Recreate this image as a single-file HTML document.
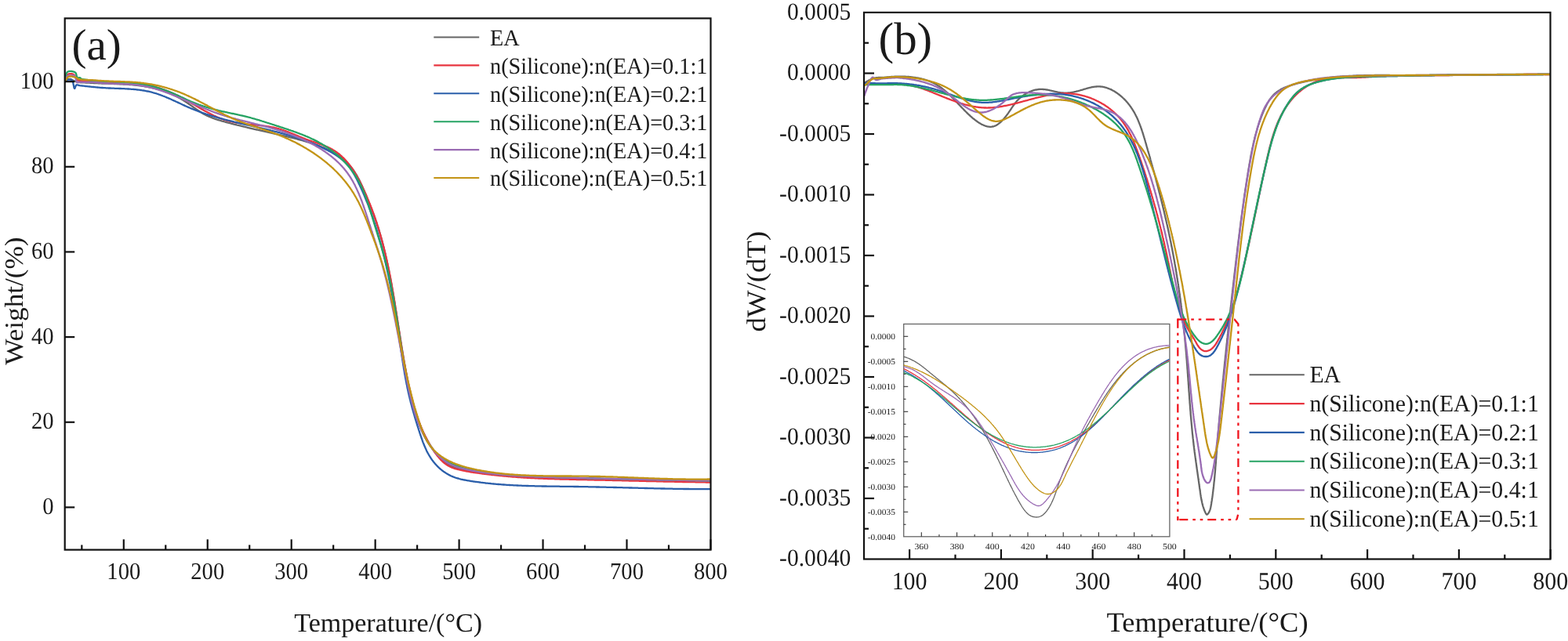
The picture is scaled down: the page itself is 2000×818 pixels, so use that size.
<!DOCTYPE html>
<html><head><meta charset="utf-8"><style>
html,body{margin:0;padding:0;background:#fff;width:2000px;height:818px;overflow:hidden}
svg{display:block} text{text-rendering:geometricPrecision}
</style></head><body>
<svg width="2000" height="818" viewBox="0 0 2000 818">
<defs>
<clipPath id="ca"><rect x="82.7" y="23.4" width="823.8" height="678.2"/></clipPath>
<clipPath id="cb"><rect x="1102" y="16.4" width="875.6" height="697.1"/></clipPath>
<clipPath id="ci"><rect x="1152.7" y="413.5" width="339.2" height="271.3"/></clipPath>
</defs>
<rect width="2000" height="818" fill="#fff"/>
<g id="curvesA">
<path d="M83.0,104.5 83.1,104.4 83.2,104.3 83.3,104.2 83.4,104.1 83.5,103.9 83.6,103.7 83.8,103.6 83.9,103.4 84.1,103.2 84.2,103.0 84.4,102.9 84.6,102.7 84.7,102.5 84.9,102.3 85.1,102.2 85.3,102.0 85.5,101.8 85.6,101.7 85.8,101.6 86.0,101.5 86.2,101.4 86.4,101.3 86.5,101.3 86.7,101.2 86.9,101.1 87.1,101.1 87.3,101.1 87.5,101.0 87.7,101.0 88.0,100.9 88.2,100.9 88.4,100.9 88.6,100.9 88.8,100.9 89.0,100.9 89.2,100.9 89.4,100.9 89.6,100.9 89.8,101.0 90.0,101.0 90.2,101.0 90.4,101.1 90.6,101.2 90.8,101.3 91.0,101.3 91.2,101.4 91.4,101.5 91.6,101.7 91.8,101.8 92.0,101.9 92.2,102.0 92.4,102.1 92.6,102.3 92.8,102.4 93.0,102.5 93.2,102.6 93.4,102.7 93.6,102.8 93.8,102.9 94.0,103.0 94.3,103.1 94.6,103.2 94.9,103.4 95.2,103.5 95.5,103.6 95.8,103.7 96.1,103.8 96.4,103.9 96.7,104.1 97.0,104.2 97.3,104.3 97.6,104.4 97.9,104.5 98.2,104.6 98.5,104.7 98.8,104.7 99.1,104.8 99.4,104.9 99.7,104.9 100.0,105.0 100.5,105.1 101.0,105.1 101.5,105.2 102.0,105.2 102.5,105.3 103.0,105.3 103.5,105.3 104.0,105.3 104.5,105.4 105.0,105.4 105.5,105.4 106.0,105.4 106.5,105.4 107.0,105.4 107.5,105.4 108.0,105.4 108.5,105.4 109.0,105.5 109.5,105.5 110.0,105.5 110.5,105.5 111.0,105.6 111.6,105.6 112.2,105.6 112.7,105.6 113.3,105.7 113.9,105.7 114.5,105.7 115.1,105.8 115.6,105.8 116.2,105.8 116.7,105.8 117.2,105.9 117.7,105.9 118.2,105.9 118.6,105.9 119.0,106.0 119.4,106.0 119.7,106.0 120.0,106.0 121.1,106.1 122.2,106.1 123.3,106.2 124.4,106.2 125.5,106.3 126.6,106.3 127.7,106.4 128.8,106.4 129.9,106.5 131.0,106.5 132.1,106.5 133.2,106.6 134.3,106.6 135.4,106.7 136.5,106.7 137.6,106.7 138.7,106.8 139.8,106.8 140.9,106.8 142.0,106.9 143.1,106.9 144.2,106.9 145.3,107.0 146.4,107.0 147.5,107.1 148.6,107.1 149.7,107.1 150.8,107.2 151.9,107.2 153.0,107.3 154.2,107.3 155.3,107.4 156.4,107.4 157.5,107.5 158.6,107.5 159.7,107.6 160.8,107.7 161.9,107.7 163.0,107.8 164.1,107.9 165.2,108.0 166.3,108.0 167.4,108.1 168.5,108.2 169.6,108.3 170.7,108.4 171.8,108.5 172.9,108.6 174.0,108.8 175.1,108.9 176.2,109.0 177.3,109.2 178.4,109.3 179.5,109.4 180.5,109.6 181.6,109.8 182.7,109.9 183.8,110.1 184.9,110.3 186.0,110.5 187.1,110.7 188.2,110.9 189.2,111.1 190.3,111.3 191.4,111.5 192.5,111.7 193.5,112.0 194.6,112.2 195.7,112.5 196.8,112.7 197.8,113.0 198.9,113.3 200.0,113.5 201.0,113.8 202.1,114.1 203.1,114.4 204.2,114.7 205.2,115.1 206.3,115.4 207.3,115.7 208.3,116.1 209.4,116.4 210.4,116.8 211.4,117.2 212.5,117.5 213.5,117.9 214.5,118.3 215.5,118.7 216.5,119.1 217.5,119.5 218.5,120.0 219.5,120.4 220.5,120.9 221.5,121.3 222.5,121.8 223.5,122.3 224.5,122.7 225.5,123.2 226.4,123.7 227.4,124.2 228.3,124.8 229.3,125.3 230.2,125.8 231.2,126.4 232.1,126.9 233.1,127.5 234.0,128.1 234.9,128.7 235.8,129.3 236.7,129.9 237.7,130.5 238.6,131.1 239.5,131.7 240.4,132.3 241.3,133.0 242.2,133.6 243.1,134.2 244.0,134.9 244.9,135.5 245.8,136.1 246.6,136.8 247.5,137.4 248.4,138.0 249.3,138.7 250.2,139.3 251.1,139.9 252.0,140.5 252.9,141.1 253.9,141.7 254.8,142.3 255.7,142.9 256.6,143.5 257.5,144.1 258.5,144.6 259.4,145.2 260.3,145.7 261.3,146.2 262.3,146.7 263.2,147.2 264.2,147.7 265.2,148.1 266.1,148.6 267.1,149.0 268.1,149.4 269.1,149.8 270.1,150.2 271.2,150.6 272.2,151.0 273.2,151.4 274.2,151.7 275.2,152.1 276.3,152.4 277.3,152.8 278.4,153.1 279.4,153.4 280.5,153.7 281.5,154.0 282.6,154.4 283.6,154.7 284.7,154.9 285.7,155.2 286.8,155.5 287.9,155.8 288.9,156.1 290.0,156.4 291.1,156.7 292.1,156.9 293.2,157.2 294.3,157.5 295.3,157.8 296.4,158.0 297.5,158.3 298.5,158.6 299.6,158.8 300.7,159.1 301.7,159.4 302.8,159.7 303.9,159.9 305.0,160.2 306.0,160.4 307.1,160.7 308.2,161.0 309.2,161.2 310.3,161.5 311.4,161.7 312.5,162.0 313.5,162.2 314.6,162.5 315.7,162.8 316.8,163.0 317.8,163.3 318.9,163.5 320.0,163.8 321.1,164.0 322.2,164.3 323.2,164.5 324.3,164.8 325.4,165.0 326.5,165.3 327.5,165.5 328.6,165.7 329.7,166.0 330.8,166.2 331.8,166.5 332.9,166.7 334.0,167.0 335.1,167.2 336.1,167.4 337.2,167.7 338.3,167.9 339.4,168.2 340.5,168.4 341.5,168.6 342.6,168.9 343.7,169.1 344.8,169.4 345.8,169.6 346.9,169.8 348.0,170.1 349.1,170.3 350.1,170.6 351.2,170.8 352.3,171.1 353.3,171.3 354.4,171.5 355.5,171.8 356.6,172.0 357.6,172.3 358.7,172.5 359.8,172.8 360.9,173.0 361.9,173.3 363.0,173.5 364.1,173.8 365.1,174.0 366.2,174.3 367.3,174.5 368.3,174.8 369.4,175.1 370.5,175.3 371.5,175.6 372.6,175.9 373.7,176.1 374.8,176.4 375.8,176.7 376.9,176.9 378.0,177.2 379.0,177.5 380.1,177.8 381.1,178.1 382.2,178.4 383.3,178.7 384.3,178.9 385.4,179.2 386.5,179.5 387.5,179.9 388.6,180.2 389.7,180.5 390.7,180.8 391.8,181.1 392.8,181.4 393.9,181.7 395.0,182.1 396.0,182.4 397.1,182.7 398.1,183.1 399.2,183.4 400.2,183.8 401.3,184.1 402.3,184.5 403.4,184.9 404.4,185.2 405.5,185.6 406.5,186.0 407.6,186.4 408.6,186.8 409.6,187.2 410.6,187.6 411.7,188.0 412.7,188.4 413.7,188.8 414.7,189.3 415.7,189.7 416.7,190.2 417.7,190.6 418.7,191.1 419.6,191.6 420.6,192.0 421.6,192.5 422.6,193.0 423.5,193.5 424.5,194.1 425.4,194.6 426.3,195.1 427.3,195.7 428.2,196.2 429.1,196.8 430.0,197.3 430.9,197.9 431.8,198.5 432.7,199.1 433.5,199.7 434.4,200.4 435.3,201.0 436.1,201.7 436.9,202.3 437.8,203.0 438.6,203.7 439.4,204.4 440.2,205.1 441.0,205.8 441.7,206.5 442.5,207.3 443.3,208.0 444.0,208.8 444.7,209.6 445.4,210.4 446.1,211.2 446.8,212.0 447.5,212.8 448.2,213.7 448.9,214.5 449.5,215.4 450.1,216.3 450.8,217.2 451.4,218.1 452.0,219.0 452.6,219.9 453.2,220.8 453.8,221.8 454.3,222.7 454.9,223.7 455.5,224.7 456.0,225.6 456.5,226.6 457.1,227.6 457.6,228.6 458.1,229.6 458.6,230.6 459.1,231.6 459.6,232.6 460.1,233.7 460.6,234.7 461.1,235.7 461.5,236.8 462.0,237.8 462.5,238.8 462.9,239.9 463.4,240.9 463.8,242.0 464.3,243.0 464.7,244.1 465.2,245.1 465.6,246.2 466.0,247.2 466.5,248.3 466.9,249.3 467.3,250.4 467.7,251.4 468.2,252.5 468.6,253.5 469.0,254.6 469.4,255.6 469.8,256.6 470.2,257.7 470.7,258.7 471.1,259.7 471.5,260.7 471.9,261.8 472.3,262.8 472.7,263.8 473.1,264.8 473.5,265.8 473.9,266.8 474.3,267.9 474.7,268.9 475.1,269.9 475.5,270.9 475.9,271.9 476.3,272.9 476.7,274.0 477.0,275.0 477.4,276.0 477.8,277.0 478.2,278.0 478.5,279.1 478.9,280.1 479.2,281.1 479.6,282.2 480.0,283.2 480.3,284.2 480.6,285.3 481.0,286.3 481.3,287.4 481.7,288.4 482.0,289.4 482.3,290.5 482.7,291.5 483.0,292.6 483.3,293.6 483.6,294.7 483.9,295.7 484.3,296.8 484.6,297.8 484.9,298.9 485.2,299.9 485.5,301.0 485.8,302.1 486.1,303.1 486.4,304.2 486.7,305.2 487.0,306.3 487.3,307.4 487.5,308.4 487.8,309.5 488.1,310.6 488.4,311.6 488.7,312.7 488.9,313.8 489.2,314.8 489.5,315.9 489.7,317.0 490.0,318.0 490.3,319.1 490.5,320.2 490.8,321.3 491.0,322.3 491.3,323.4 491.5,324.5 491.8,325.6 492.0,326.6 492.3,327.7 492.5,328.8 492.8,329.9 493.0,330.9 493.2,332.0 493.5,333.1 493.7,334.2 493.9,335.2 494.2,336.3 494.4,337.4 494.6,338.5 494.9,339.5 495.1,340.6 495.3,341.7 495.5,342.8 495.8,343.8 496.0,344.9 496.2,346.0 496.4,347.1 496.6,348.2 496.8,349.2 497.0,350.3 497.2,351.4 497.5,352.5 497.7,353.5 497.9,354.6 498.1,355.7 498.3,356.8 498.5,357.9 498.7,358.9 498.9,360.0 499.1,361.1 499.3,362.2 499.5,363.3 499.7,364.3 499.9,365.4 500.1,366.5 500.2,367.6 500.4,368.7 500.6,369.7 500.8,370.8 501.0,371.9 501.2,373.0 501.4,374.1 501.6,375.2 501.7,376.2 501.9,377.3 502.1,378.4 502.3,379.5 502.5,380.6 502.7,381.6 502.8,382.7 503.0,383.8 503.2,384.9 503.4,386.0 503.5,387.1 503.7,388.1 503.9,389.2 504.1,390.3 504.2,391.4 504.4,392.5 504.6,393.5 504.8,394.6 504.9,395.7 505.1,396.8 505.3,397.9 505.5,399.0 505.6,400.1 505.8,401.1 506.0,402.2 506.1,403.3 506.3,404.4 506.5,405.5 506.6,406.6 506.8,407.6 507.0,408.7 507.2,409.8 507.3,410.9 507.5,412.0 507.7,413.1 507.8,414.1 508.0,415.2 508.2,416.3 508.3,417.4 508.5,418.5 508.7,419.6 508.9,420.7 509.0,421.7 509.2,422.8 509.4,423.9 509.5,425.0 509.7,426.1 509.9,427.2 510.0,428.3 510.2,429.3 510.4,430.4 510.6,431.5 510.7,432.6 510.9,433.7 511.1,434.8 511.2,435.9 511.4,437.0 511.6,438.0 511.8,439.1 511.9,440.2 512.1,441.3 512.3,442.4 512.5,443.5 512.7,444.6 512.8,445.6 513.0,446.7 513.2,447.8 513.4,448.9 513.6,450.0 513.7,451.1 513.9,452.2 514.1,453.3 514.3,454.3 514.5,455.4 514.7,456.5 514.8,457.6 515.0,458.7 515.2,459.8 515.4,460.9 515.6,462.0 515.8,463.0 516.0,464.1 516.2,465.2 516.4,466.3 516.6,467.4 516.8,468.5 517.0,469.6 517.2,470.7 517.4,471.7 517.6,472.8 517.8,473.9 518.0,475.0 518.2,476.1 518.4,477.2 518.6,478.3 518.8,479.4 519.0,480.4 519.2,481.5 519.5,482.6 519.7,483.7 519.9,484.8 520.1,485.9 520.3,487.0 520.6,488.1 520.8,489.2 521.0,490.2 521.2,491.3 521.5,492.4 521.7,493.5 521.9,494.6 522.2,495.7 522.4,496.8 522.6,497.8 522.9,498.9 523.1,500.0 523.4,501.1 523.6,502.2 523.9,503.3 524.1,504.3 524.4,505.4 524.7,506.5 524.9,507.6 525.2,508.6 525.5,509.7 525.7,510.8 526.0,511.9 526.3,512.9 526.6,514.0 526.9,515.1 527.2,516.2 527.5,517.2 527.8,518.3 528.1,519.4 528.4,520.4 528.7,521.5 529.0,522.5 529.3,523.6 529.6,524.6 530.0,525.7 530.3,526.8 530.6,527.8 531.0,528.9 531.3,529.9 531.7,530.9 532.0,532.0 532.4,533.0 532.8,534.1 533.1,535.1 533.5,536.1 533.9,537.2 534.3,538.2 534.7,539.2 535.1,540.2 535.5,541.3 535.9,542.3 536.3,543.3 536.7,544.3 537.1,545.3 537.5,546.3 538.0,547.3 538.4,548.3 538.9,549.3 539.3,550.3 539.8,551.3 540.2,552.3 540.7,553.3 541.2,554.3 541.7,555.3 542.2,556.3 542.7,557.2 543.2,558.2 543.7,559.2 544.2,560.1 544.7,561.1 545.3,562.1 545.8,563.0 546.3,564.0 546.9,564.9 547.4,565.9 548.0,566.8 548.6,567.7 549.2,568.7 549.8,569.6 550.4,570.5 551.0,571.4 551.6,572.4 552.2,573.3 552.8,574.1 553.5,575.0 554.1,575.9 554.8,576.8 555.4,577.6 556.1,578.5 556.8,579.3 557.5,580.2 558.2,581.0 558.9,581.8 559.7,582.6 560.4,583.4 561.1,584.1 561.9,584.9 562.7,585.6 563.5,586.4 564.2,587.1 565.1,587.8 565.9,588.4 566.7,589.1 567.5,589.7 568.4,590.4 569.3,591.0 570.1,591.6 571.0,592.1 571.9,592.7 572.8,593.2 573.8,593.7 574.7,594.2 575.7,594.7 576.6,595.1 577.6,595.5 578.6,595.9 579.6,596.3 580.7,596.7 581.7,597.0 582.7,597.4 583.8,597.7 584.8,598.0 585.9,598.3 586.9,598.6 588.0,598.8 589.1,599.1 590.2,599.3 591.3,599.6 592.4,599.8 593.4,600.0 594.5,600.2 595.6,600.4 596.7,600.6 597.8,600.8 598.9,601.0 600.0,601.2 601.1,601.4 602.2,601.6 603.3,601.8 604.4,601.9 605.5,602.1 606.6,602.3 607.7,602.4 608.8,602.6 609.9,602.8 611.0,602.9 612.1,603.1 613.2,603.2 614.3,603.3 615.4,603.5 616.5,603.6 617.6,603.7 618.7,603.9 619.8,604.0 620.9,604.1 622.0,604.2 623.1,604.4 624.2,604.5 625.3,604.6 626.4,604.7 627.5,604.8 628.6,604.9 629.7,605.0 630.8,605.1 631.9,605.2 633.0,605.3 634.1,605.4 635.2,605.5 636.3,605.6 637.4,605.6 638.5,605.7 639.6,605.8 640.7,605.9 641.9,606.0 643.0,606.0 644.1,606.1 645.2,606.2 646.3,606.3 647.4,606.3 648.5,606.4 649.6,606.5 650.7,606.5 651.8,606.6 652.9,606.7 654.0,606.7 655.1,606.8 656.2,606.8 657.3,606.9 658.4,607.0 659.5,607.0 660.6,607.1 661.7,607.1 662.8,607.2 663.9,607.3 665.0,607.3 666.1,607.4 667.2,607.4 668.3,607.5 669.4,607.5 670.5,607.6 671.6,607.6 672.7,607.7 673.8,607.7 674.9,607.8 676.0,607.8 677.1,607.9 678.2,607.9 679.3,608.0 680.4,608.0 681.5,608.1 682.6,608.1 683.7,608.2 684.8,608.2 685.9,608.3 687.0,608.3 688.1,608.4 689.2,608.4 690.3,608.5 691.4,608.5 692.5,608.6 693.6,608.6 694.7,608.6 695.8,608.7 696.9,608.7 698.0,608.8 699.1,608.8 700.2,608.8 701.3,608.9 702.4,608.9 703.5,609.0 704.6,609.0 705.7,609.0 706.8,609.1 707.9,609.1 708.9,609.2 710.0,609.2 711.1,609.2 712.2,609.3 713.3,609.3 714.4,609.3 715.5,609.4 716.6,609.4 717.7,609.5 718.8,609.5 719.9,609.5 721.0,609.6 722.1,609.6 723.2,609.6 724.3,609.7 725.4,609.7 726.5,609.7 727.6,609.8 728.7,609.8 729.8,609.8 730.9,609.9 732.0,609.9 733.1,609.9 734.2,610.0 735.3,610.0 736.4,610.0 737.5,610.0 738.6,610.1 739.7,610.1 740.8,610.1 741.9,610.2 743.0,610.2 744.1,610.2 745.2,610.3 746.3,610.3 747.4,610.3 748.5,610.3 749.6,610.4 750.7,610.4 751.8,610.4 752.9,610.4 754.0,610.5 755.1,610.5 756.2,610.5 757.3,610.6 758.4,610.6 759.5,610.6 760.6,610.6 761.7,610.7 762.8,610.7 763.9,610.7 765.0,610.7 766.1,610.8 767.2,610.8 768.3,610.8 769.4,610.8 770.5,610.9 771.6,610.9 772.7,610.9 773.8,610.9 774.9,611.0 776.0,611.0 777.1,611.0 778.2,611.0 779.3,611.1 780.4,611.1 781.5,611.1 782.6,611.1 783.7,611.2 784.8,611.2 785.9,611.2 787.0,611.2 788.2,611.2 789.3,611.3 790.4,611.3 791.5,611.3 792.6,611.3 793.7,611.4 794.8,611.4 795.9,611.4 797.0,611.4 798.1,611.4 799.2,611.5 800.3,611.5 801.4,611.5 802.5,611.5 803.6,611.5 804.7,611.6 805.8,611.6 806.9,611.6 808.0,611.6 809.1,611.7 810.2,611.7 811.3,611.7 812.4,611.7 813.5,611.7 814.6,611.8 815.7,611.8 816.8,611.8 817.9,611.8 819.0,611.8 820.1,611.9 821.2,611.9 822.3,611.9 823.4,611.9 824.5,611.9 825.6,612.0 826.7,612.0 827.8,612.0 828.9,612.0 830.0,612.0 831.1,612.1 832.2,612.1 833.3,612.1 834.4,612.1 835.5,612.1 836.7,612.2 837.8,612.2 838.9,612.2 840.0,612.2 841.1,612.2 842.2,612.3 843.3,612.3 844.4,612.3 845.5,612.3 846.6,612.3 847.7,612.4 848.8,612.4 849.9,612.4 851.0,612.4 852.1,612.4 853.2,612.5 854.3,612.5 855.4,612.5 856.5,612.5 857.6,612.5 858.7,612.6 859.8,612.6 860.9,612.6 862.0,612.6 863.1,612.7 864.2,612.7 865.3,612.7 866.4,612.7 867.5,612.7 868.6,612.8 869.7,612.8 870.8,612.8 871.9,612.8 873.0,612.8 874.1,612.9 875.2,612.9 876.3,612.9 877.4,612.9 878.5,613.0 879.6,613.0 880.7,613.0 881.8,613.0 882.9,613.0 884.0,613.1 885.1,613.1 886.2,613.1 887.3,613.1 888.4,613.2 889.5,613.2 890.6,613.2 891.7,613.2 892.8,613.3 893.9,613.3 895.0,613.3 896.1,613.3 897.2,613.3 898.3,613.4 899.4,613.4 900.5,613.4 901.6,613.4 902.7,613.5 903.8,613.5 904.9,613.5 906.0,613.5" stroke="#666666" stroke-width="2.3" fill="none" stroke-linejoin="round" stroke-linecap="round" clip-path="url(#ca)"/>
<path d="M83.0,104.0 83.1,103.8 83.1,103.5 83.2,103.2 83.3,102.9 83.4,102.5 83.5,102.1 83.6,101.7 83.7,101.3 83.8,100.8 83.9,100.4 84.1,99.9 84.2,99.5 84.4,99.0 84.5,98.5 84.7,98.1 84.8,97.6 85.0,97.2 85.1,96.8 85.3,96.4 85.5,96.0 85.6,95.9 85.7,95.8 85.7,95.6 85.8,95.5 85.9,95.4 86.1,95.3 86.2,95.2 86.3,95.1 86.4,95.0 86.6,94.9 86.7,94.8 86.8,94.8 87.0,94.7 87.1,94.6 87.3,94.5 87.4,94.5 87.6,94.4 87.7,94.4 87.9,94.3 88.0,94.3 88.2,94.3 88.4,94.2 88.6,94.2 88.8,94.1 89.0,94.1 89.2,94.1 89.4,94.1 89.6,94.1 89.8,94.1 90.0,94.1 90.2,94.1 90.4,94.1 90.6,94.1 90.8,94.1 91.0,94.1 91.2,94.2 91.4,94.2 91.6,94.2 91.8,94.3 92.0,94.3 92.2,94.3 92.3,94.4 92.5,94.4 92.7,94.5 92.8,94.6 93.0,94.6 93.2,94.7 93.3,94.8 93.5,94.8 93.6,94.9 93.8,95.0 93.9,95.1 94.1,95.2 94.2,95.3 94.4,95.4 94.5,95.5 94.6,95.6 94.8,95.8 94.9,95.9 95.0,96.0 95.2,96.2 95.4,96.5 95.5,96.8 95.7,97.0 95.8,97.3 96.0,97.6 96.1,97.9 96.2,98.2 96.3,98.5 96.5,98.8 96.6,99.1 96.7,99.4 96.8,99.7 97.0,100.0 97.1,100.3 97.3,100.5 97.4,100.8 97.6,101.1 97.8,101.3 98.0,101.5 98.1,101.6 98.3,101.8 98.5,101.9 98.6,102.0 98.8,102.1 99.0,102.2 99.2,102.3 99.4,102.4 99.6,102.5 99.8,102.5 100.0,102.6 100.3,102.7 100.5,102.7 100.7,102.8 100.9,102.8 101.1,102.9 101.4,102.9 101.6,102.9 101.8,103.0 102.0,103.0 102.9,103.1 103.9,103.2 104.8,103.3 105.9,103.3 106.9,103.4 107.9,103.5 109.0,103.5 110.0,103.6 111.1,103.6 112.1,103.7 113.1,103.7 114.1,103.8 115.0,103.8 115.9,103.8 116.8,103.9 117.5,103.9 118.3,103.9 118.9,103.9 119.5,104.0 120.0,104.0 121.1,104.1 122.2,104.1 123.3,104.2 124.4,104.3 125.4,104.3 126.5,104.4 127.6,104.4 128.7,104.5 129.8,104.5 130.9,104.5 132.0,104.6 133.1,104.6 134.3,104.6 135.4,104.7 136.5,104.7 137.6,104.7 138.7,104.7 139.8,104.7 140.9,104.8 142.0,104.8 143.1,104.8 144.2,104.8 145.4,104.8 146.5,104.8 147.6,104.8 148.7,104.9 149.8,104.9 150.9,104.9 152.0,104.9 153.2,104.9 154.3,105.0 155.4,105.0 156.5,105.0 157.6,105.1 158.7,105.1 159.8,105.1 161.0,105.2 162.1,105.2 163.2,105.3 164.3,105.3 165.4,105.4 166.5,105.5 167.6,105.5 168.7,105.6 169.8,105.7 170.9,105.8 172.0,105.9 173.1,106.0 174.2,106.1 175.3,106.2 176.4,106.4 177.5,106.5 178.6,106.6 179.7,106.8 180.7,107.0 181.8,107.1 182.9,107.3 184.0,107.5 185.1,107.7 186.1,107.9 187.2,108.1 188.3,108.3 189.3,108.6 190.4,108.8 191.5,109.1 192.5,109.3 193.6,109.6 194.6,109.9 195.7,110.1 196.8,110.4 197.8,110.7 198.8,111.0 199.9,111.4 200.9,111.7 202.0,112.0 203.0,112.3 204.1,112.7 205.1,113.0 206.1,113.4 207.1,113.8 208.2,114.1 209.2,114.5 210.2,114.9 211.2,115.3 212.3,115.7 213.3,116.1 214.3,116.5 215.3,116.9 216.3,117.3 217.3,117.8 218.3,118.2 219.3,118.6 220.3,119.1 221.3,119.5 222.3,120.0 223.3,120.5 224.3,120.9 225.3,121.4 226.3,121.9 227.2,122.4 228.2,122.9 229.2,123.4 230.2,123.9 231.2,124.4 232.1,124.9 233.1,125.4 234.1,125.9 235.0,126.4 236.0,127.0 237.0,127.5 237.9,128.0 238.9,128.6 239.8,129.1 240.8,129.7 241.7,130.2 242.7,130.8 243.6,131.3 244.6,131.9 245.5,132.4 246.5,133.0 247.4,133.5 248.4,134.1 249.3,134.6 250.3,135.2 251.2,135.8 252.2,136.3 253.1,136.9 254.1,137.4 255.0,138.0 256.0,138.5 256.9,139.1 257.9,139.6 258.8,140.1 259.8,140.7 260.7,141.2 261.7,141.7 262.6,142.3 263.6,142.8 264.6,143.3 265.5,143.8 266.5,144.3 267.5,144.8 268.4,145.3 269.4,145.8 270.4,146.3 271.3,146.8 272.3,147.2 273.3,147.7 274.3,148.1 275.3,148.6 276.3,149.0 277.3,149.5 278.3,149.9 279.3,150.3 280.3,150.7 281.3,151.1 282.3,151.5 283.3,151.8 284.3,152.2 285.3,152.6 286.4,152.9 287.4,153.2 288.5,153.6 289.5,153.9 290.5,154.2 291.6,154.4 292.7,154.7 293.7,155.0 294.8,155.2 295.9,155.4 296.9,155.7 298.0,155.9 299.1,156.1 300.2,156.3 301.3,156.5 302.4,156.7 303.5,156.9 304.6,157.0 305.7,157.2 306.8,157.4 307.9,157.5 309.0,157.7 310.1,157.8 311.2,157.9 312.3,158.1 313.4,158.2 314.6,158.3 315.7,158.4 316.8,158.6 317.9,158.7 319.0,158.8 320.2,158.9 321.3,159.0 322.4,159.1 323.5,159.2 324.7,159.4 325.8,159.5 326.9,159.6 328.0,159.7 329.1,159.8 330.2,159.9 331.4,160.1 332.5,160.2 333.6,160.3 334.7,160.4 335.8,160.6 336.9,160.7 338.0,160.9 339.1,161.0 340.2,161.2 341.3,161.3 342.4,161.5 343.5,161.7 344.6,161.9 345.7,162.1 346.8,162.3 347.8,162.5 348.9,162.7 350.0,162.9 351.1,163.2 352.1,163.4 353.2,163.7 354.2,164.0 355.3,164.2 356.3,164.5 357.4,164.8 358.4,165.1 359.4,165.5 360.4,165.8 361.5,166.2 362.5,166.5 363.5,166.9 364.5,167.2 365.5,167.6 366.5,168.0 367.5,168.4 368.5,168.8 369.5,169.2 370.5,169.6 371.5,170.0 372.5,170.4 373.6,170.8 374.6,171.2 375.6,171.6 376.6,172.1 377.6,172.5 378.6,172.9 379.6,173.3 380.6,173.7 381.6,174.2 382.6,174.6 383.6,175.0 384.6,175.4 385.7,175.8 386.7,176.2 387.7,176.7 388.8,177.1 389.8,177.5 390.8,177.9 391.9,178.2 392.9,178.6 394.0,179.0 395.1,179.4 396.1,179.7 397.2,180.1 398.3,180.5 399.3,180.8 400.4,181.2 401.5,181.6 402.5,181.9 403.6,182.3 404.7,182.7 405.8,183.0 406.8,183.4 407.9,183.8 409.0,184.2 410.0,184.5 411.1,184.9 412.1,185.3 413.2,185.7 414.2,186.1 415.2,186.6 416.2,187.0 417.3,187.4 418.3,187.9 419.3,188.3 420.2,188.8 421.2,189.3 422.2,189.8 423.1,190.3 424.1,190.8 425.0,191.4 425.9,191.9 426.9,192.5 427.8,193.1 428.6,193.7 429.5,194.3 430.4,195.0 431.2,195.6 432.1,196.2 432.9,196.9 433.7,197.6 434.5,198.3 435.3,199.0 436.1,199.7 436.9,200.5 437.7,201.2 438.4,201.9 439.2,202.7 439.9,203.5 440.6,204.3 441.3,205.1 442.1,205.9 442.8,206.7 443.4,207.5 444.1,208.4 444.8,209.2 445.5,210.1 446.1,210.9 446.8,211.8 447.4,212.7 448.1,213.6 448.7,214.5 449.3,215.4 449.9,216.3 450.5,217.2 451.1,218.1 451.7,219.0 452.3,220.0 452.9,220.9 453.4,221.9 454.0,222.8 454.6,223.8 455.1,224.7 455.7,225.7 456.2,226.7 456.7,227.7 457.3,228.6 457.8,229.6 458.3,230.6 458.8,231.6 459.3,232.6 459.9,233.6 460.4,234.6 460.9,235.6 461.3,236.6 461.8,237.6 462.3,238.6 462.8,239.6 463.3,240.7 463.7,241.7 464.2,242.7 464.7,243.7 465.1,244.7 465.6,245.7 466.1,246.7 466.5,247.8 467.0,248.8 467.4,249.8 467.8,250.8 468.3,251.8 468.7,252.9 469.1,253.9 469.6,254.9 470.0,255.9 470.4,257.0 470.8,258.0 471.2,259.0 471.7,260.1 472.1,261.1 472.5,262.1 472.9,263.1 473.3,264.2 473.7,265.2 474.1,266.2 474.5,267.3 474.8,268.3 475.2,269.3 475.6,270.4 476.0,271.4 476.4,272.5 476.7,273.5 477.1,274.5 477.5,275.6 477.8,276.6 478.2,277.7 478.6,278.7 478.9,279.7 479.3,280.8 479.6,281.8 480.0,282.9 480.3,283.9 480.6,285.0 481.0,286.0 481.3,287.1 481.6,288.1 482.0,289.2 482.3,290.2 482.6,291.3 483.0,292.3 483.3,293.4 483.6,294.4 483.9,295.5 484.2,296.5 484.5,297.6 484.8,298.6 485.1,299.7 485.4,300.7 485.7,301.8 486.0,302.8 486.3,303.9 486.6,305.0 486.9,306.0 487.2,307.1 487.5,308.1 487.8,309.2 488.1,310.3 488.3,311.3 488.6,312.4 488.9,313.4 489.2,314.5 489.4,315.6 489.7,316.6 490.0,317.7 490.2,318.8 490.5,319.8 490.7,320.9 491.0,322.0 491.3,323.0 491.5,324.1 491.8,325.2 492.0,326.2 492.3,327.3 492.5,328.4 492.7,329.4 493.0,330.5 493.2,331.6 493.5,332.6 493.7,333.7 493.9,334.8 494.2,335.9 494.4,336.9 494.6,338.0 494.9,339.1 495.1,340.2 495.3,341.2 495.5,342.3 495.7,343.4 496.0,344.5 496.2,345.5 496.4,346.6 496.6,347.7 496.8,348.8 497.0,349.8 497.2,350.9 497.5,352.0 497.7,353.1 497.9,354.1 498.1,355.2 498.3,356.3 498.5,357.4 498.7,358.5 498.9,359.5 499.1,360.6 499.3,361.7 499.5,362.8 499.7,363.9 499.8,364.9 500.0,366.0 500.2,367.1 500.4,368.2 500.6,369.3 500.8,370.4 501.0,371.4 501.2,372.5 501.3,373.6 501.5,374.7 501.7,375.8 501.9,376.9 502.1,377.9 502.2,379.0 502.4,380.1 502.6,381.2 502.8,382.3 503.0,383.4 503.1,384.5 503.3,385.5 503.5,386.6 503.7,387.7 503.8,388.8 504.0,389.9 504.2,391.0 504.3,392.1 504.5,393.2 504.7,394.2 504.9,395.3 505.0,396.4 505.2,397.5 505.4,398.6 505.5,399.7 505.7,400.8 505.9,401.9 506.0,402.9 506.2,404.0 506.4,405.1 506.5,406.2 506.7,407.3 506.9,408.4 507.0,409.5 507.2,410.6 507.4,411.6 507.5,412.7 507.7,413.8 507.9,414.9 508.0,416.0 508.2,417.1 508.4,418.2 508.5,419.3 508.7,420.4 508.9,421.4 509.0,422.5 509.2,423.6 509.4,424.7 509.6,425.8 509.7,426.9 509.9,428.0 510.1,429.1 510.2,430.2 510.4,431.2 510.6,432.3 510.7,433.4 510.9,434.5 511.1,435.6 511.3,436.7 511.4,437.8 511.6,438.9 511.8,440.0 512.0,441.0 512.1,442.1 512.3,443.2 512.5,444.3 512.7,445.4 512.9,446.5 513.0,447.6 513.2,448.7 513.4,449.8 513.6,450.8 513.8,451.9 514.0,453.0 514.1,454.1 514.3,455.2 514.5,456.3 514.7,457.4 514.9,458.5 515.1,459.5 515.3,460.6 515.5,461.7 515.7,462.8 515.9,463.9 516.1,465.0 516.3,466.1 516.5,467.1 516.7,468.2 516.9,469.3 517.1,470.4 517.3,471.5 517.5,472.6 517.7,473.6 517.9,474.7 518.1,475.8 518.3,476.9 518.6,478.0 518.8,479.1 519.0,480.1 519.2,481.2 519.4,482.3 519.7,483.4 519.9,484.5 520.1,485.6 520.3,486.6 520.6,487.7 520.8,488.8 521.0,489.9 521.3,491.0 521.5,492.0 521.8,493.1 522.0,494.2 522.3,495.3 522.5,496.3 522.7,497.4 523.0,498.5 523.3,499.6 523.5,500.7 523.8,501.7 524.0,502.8 524.3,503.9 524.6,505.0 524.8,506.0 525.1,507.1 525.4,508.2 525.6,509.3 525.9,510.3 526.2,511.4 526.5,512.5 526.8,513.5 527.0,514.6 527.3,515.7 527.6,516.7 527.9,517.8 528.2,518.9 528.5,519.9 528.9,521.0 529.2,522.0 529.5,523.1 529.8,524.2 530.1,525.2 530.5,526.3 530.8,527.3 531.1,528.4 531.5,529.4 531.8,530.5 532.2,531.5 532.5,532.6 532.9,533.6 533.2,534.6 533.6,535.7 534.0,536.7 534.3,537.7 534.7,538.8 535.1,539.8 535.5,540.8 535.9,541.9 536.3,542.9 536.7,543.9 537.1,544.9 537.5,545.9 537.9,546.9 538.4,547.9 538.8,548.9 539.2,550.0 539.7,551.0 540.1,551.9 540.6,552.9 541.1,553.9 541.5,554.9 542.0,555.9 542.5,556.9 543.0,557.9 543.5,558.8 544.0,559.8 544.5,560.8 545.0,561.7 545.5,562.7 546.0,563.7 546.5,564.6 547.1,565.6 547.6,566.5 548.2,567.5 548.7,568.4 549.3,569.3 549.9,570.3 550.5,571.2 551.1,572.1 551.7,573.0 552.3,573.9 552.9,574.9 553.5,575.8 554.1,576.7 554.8,577.6 555.4,578.5 556.1,579.3 556.7,580.2 557.4,581.1 558.1,582.0 558.8,582.8 559.5,583.6 560.2,584.5 560.9,585.3 561.6,586.1 562.4,586.9 563.2,587.6 563.9,588.4 564.7,589.1 565.5,589.9 566.3,590.6 567.2,591.2 568.0,591.9 568.9,592.5 569.8,593.1 570.7,593.7 571.6,594.3 572.5,594.8 573.5,595.3 574.4,595.8 575.4,596.2 576.4,596.6 577.4,597.0 578.5,597.4 579.5,597.8 580.6,598.1 581.7,598.4 582.7,598.7 583.8,599.0 584.9,599.2 586.0,599.5 587.1,599.7 588.1,600.0 589.2,600.2 590.3,600.5 591.4,600.7 592.5,600.9 593.6,601.1 594.7,601.3 595.8,601.5 596.9,601.7 598.0,601.9 599.1,602.1 600.2,602.3 601.3,602.5 602.4,602.6 603.5,602.8 604.6,603.0 605.7,603.1 606.8,603.3 607.9,603.4 609.0,603.6 610.1,603.7 611.2,603.9 612.2,604.0 613.3,604.2 614.4,604.3 615.5,604.5 616.6,604.6 617.7,604.8 618.8,604.9 619.9,605.0 621.0,605.2 622.1,605.3 623.2,605.4 624.3,605.6 625.4,605.7 626.5,605.8 627.6,606.0 628.7,606.1 629.8,606.2 630.9,606.3 632.0,606.4 633.1,606.5 634.2,606.7 635.3,606.8 636.4,606.9 637.5,607.0 638.6,607.1 639.6,607.2 640.7,607.3 641.8,607.4 642.9,607.5 644.0,607.6 645.1,607.7 646.2,607.8 647.3,607.9 648.4,608.0 649.5,608.1 650.6,608.2 651.7,608.3 652.8,608.4 653.9,608.5 655.0,608.6 656.1,608.6 657.2,608.7 658.3,608.8 659.4,608.9 660.5,609.0 661.6,609.0 662.7,609.1 663.7,609.2 664.8,609.3 665.9,609.3 667.0,609.4 668.1,609.5 669.2,609.6 670.3,609.6 671.4,609.7 672.5,609.8 673.6,609.8 674.7,609.9 675.8,609.9 676.9,610.0 678.0,610.1 679.1,610.1 680.2,610.2 681.3,610.2 682.4,610.3 683.5,610.3 684.6,610.4 685.7,610.4 686.8,610.5 687.9,610.5 689.0,610.6 690.1,610.6 691.2,610.7 692.3,610.7 693.4,610.8 694.5,610.8 695.6,610.9 696.7,610.9 697.8,610.9 698.9,611.0 700.0,611.0 701.1,611.1 702.2,611.1 703.3,611.1 704.4,611.2 705.5,611.2 706.6,611.2 707.7,611.3 708.8,611.3 709.9,611.3 711.0,611.4 712.1,611.4 713.2,611.4 714.3,611.5 715.4,611.5 716.5,611.5 717.6,611.6 718.7,611.6 719.8,611.6 720.9,611.6 722.0,611.7 723.1,611.7 724.2,611.7 725.3,611.7 726.4,611.8 727.6,611.8 728.7,611.8 729.8,611.8 730.9,611.9 732.0,611.9 733.1,611.9 734.2,611.9 735.3,612.0 736.4,612.0 737.5,612.0 738.6,612.0 739.7,612.1 740.8,612.1 741.9,612.1 743.0,612.1 744.1,612.1 745.2,612.2 746.3,612.2 747.4,612.2 748.5,612.2 749.6,612.3 750.7,612.3 751.8,612.3 752.9,612.3 754.0,612.4 755.1,612.4 756.2,612.4 757.3,612.4 758.4,612.5 759.5,612.5 760.6,612.5 761.7,612.5 762.8,612.5 763.9,612.6 765.0,612.6 766.1,612.6 767.2,612.6 768.3,612.7 769.4,612.7 770.5,612.7 771.6,612.7 772.7,612.8 773.8,612.8 774.9,612.8 776.1,612.8 777.2,612.9 778.3,612.9 779.4,612.9 780.5,612.9 781.6,613.0 782.7,613.0 783.8,613.0 784.9,613.0 786.0,613.1 787.1,613.1 788.2,613.1 789.3,613.1 790.4,613.2 791.5,613.2 792.6,613.2 793.7,613.3 794.8,613.3 795.9,613.3 797.0,613.3 798.1,613.4 799.2,613.4 800.3,613.4 801.4,613.4 802.5,613.5 803.6,613.5 804.7,613.5 805.8,613.5 806.9,613.6 808.0,613.6 809.1,613.6 810.2,613.6 811.3,613.7 812.4,613.7 813.5,613.7 814.6,613.7 815.7,613.8 816.8,613.8 817.9,613.8 819.0,613.8 820.1,613.9 821.2,613.9 822.3,613.9 823.4,613.9 824.5,614.0 825.6,614.0 826.7,614.0 827.8,614.0 828.9,614.1 830.0,614.1 831.1,614.1 832.2,614.1 833.3,614.2 834.4,614.2 835.5,614.2 836.6,614.2 837.7,614.3 838.8,614.3 839.9,614.3 841.0,614.3 842.1,614.4 843.2,614.4 844.3,614.4 845.4,614.4 846.5,614.5 847.6,614.5 848.7,614.5 849.8,614.5 850.9,614.6 852.0,614.6 853.1,614.6 854.2,614.6 855.3,614.7 856.4,614.7 857.5,614.7 858.6,614.7 859.7,614.7 860.8,614.8 861.9,614.8 863.0,614.8 864.1,614.8 865.2,614.9 866.3,614.9 867.4,614.9 868.5,614.9 869.6,614.9 870.7,615.0 871.8,615.0 872.9,615.0 874.0,615.0 875.1,615.0 876.2,615.1 877.3,615.1 878.5,615.1 879.6,615.1 880.7,615.1 881.8,615.2 882.9,615.2 884.0,615.2 885.1,615.2 886.2,615.2 887.3,615.3 888.4,615.3 889.5,615.3 890.6,615.3 891.7,615.3 892.8,615.3 893.9,615.4 895.0,615.4 896.1,615.4 897.2,615.4 898.3,615.4 899.4,615.4 900.5,615.5 901.6,615.5 902.7,615.5 903.8,615.5 904.9,615.5 906.0,615.5" stroke="#E8343F" stroke-width="2.3" fill="none" stroke-linejoin="round" stroke-linecap="round" clip-path="url(#ca)"/>
<path d="M83.0,102.5 83.1,102.5 83.2,102.4 83.3,102.4 83.4,102.3 83.5,102.3 83.7,102.2 83.8,102.2 84.0,102.1 84.1,102.0 84.3,102.0 84.5,101.9 84.6,101.9 84.8,101.8 85.0,101.8 85.2,101.7 85.3,101.7 85.5,101.6 85.7,101.6 85.8,101.6 86.0,101.6 86.3,101.6 86.6,101.6 86.9,101.6 87.3,101.6 87.6,101.6 88.0,101.6 88.3,101.6 88.7,101.6 89.0,101.6 89.3,101.7 89.7,101.7 90.0,101.7 90.3,101.8 90.6,101.9 90.9,102.0 91.1,102.1 91.4,102.2 91.6,102.3 91.8,102.5 92.0,102.7 92.3,103.1 92.5,103.5 92.7,104.0 92.9,104.6 93.1,105.1 93.3,105.7 93.4,106.3 93.5,106.9 93.6,107.6 93.7,108.2 93.9,108.8 94.0,109.4 94.1,110.0 94.2,110.6 94.3,111.1 94.4,111.6 94.5,112.0 94.7,112.4 94.8,112.7 95.0,112.9 95.1,113.0 95.2,112.9 95.3,112.9 95.4,112.7 95.5,112.6 95.6,112.3 95.7,112.1 95.8,111.8 95.9,111.5 96.0,111.2 96.1,110.8 96.3,110.5 96.4,110.2 96.5,109.9 96.7,109.5 96.8,109.3 97.0,109.0 97.1,108.8 97.3,108.6 97.5,108.5 97.7,108.4 97.9,108.4 98.0,108.3 98.2,108.3 98.5,108.3 98.7,108.4 98.9,108.4 99.1,108.4 99.4,108.5 99.6,108.6 99.8,108.6 100.1,108.7 100.3,108.8 100.6,108.9 100.8,108.9 101.1,109.0 101.3,109.1 101.5,109.1 101.8,109.2 102.0,109.2 102.9,109.3 103.9,109.4 104.9,109.5 105.9,109.6 106.9,109.7 108.0,109.9 109.0,110.0 110.1,110.1 111.1,110.2 112.1,110.3 113.1,110.4 114.1,110.5 115.0,110.6 115.9,110.7 116.8,110.8 117.6,110.8 118.3,110.9 118.9,111.0 119.5,111.0 120.0,111.1 121.1,111.2 122.2,111.3 123.2,111.4 124.3,111.5 125.4,111.6 126.5,111.7 127.6,111.8 128.7,111.9 129.8,112.0 130.9,112.0 132.0,112.1 133.1,112.2 134.2,112.2 135.3,112.3 136.4,112.4 137.5,112.4 138.6,112.5 139.7,112.5 140.8,112.5 142.0,112.6 143.1,112.6 144.2,112.7 145.3,112.7 146.4,112.8 147.5,112.8 148.6,112.8 149.7,112.9 150.9,112.9 152.0,113.0 153.1,113.0 154.2,113.0 155.3,113.1 156.4,113.1 157.5,113.2 158.6,113.2 159.8,113.3 160.9,113.4 162.0,113.4 163.1,113.5 164.2,113.5 165.3,113.6 166.4,113.7 167.5,113.8 168.6,113.9 169.7,113.9 170.8,114.0 171.9,114.1 173.0,114.2 174.1,114.4 175.2,114.5 176.3,114.6 177.4,114.7 178.5,114.9 179.6,115.0 180.7,115.2 181.8,115.3 182.8,115.5 183.9,115.7 185.0,115.9 186.1,116.1 187.2,116.3 188.2,116.5 189.3,116.7 190.4,116.9 191.4,117.2 192.5,117.4 193.5,117.7 194.6,118.0 195.6,118.3 196.7,118.6 197.7,118.9 198.8,119.2 199.8,119.5 200.9,119.9 201.9,120.2 202.9,120.6 203.9,120.9 205.0,121.3 206.0,121.7 207.0,122.1 208.0,122.5 209.1,122.9 210.1,123.3 211.1,123.7 212.1,124.1 213.1,124.6 214.1,125.0 215.1,125.4 216.2,125.9 217.2,126.3 218.2,126.7 219.2,127.2 220.2,127.7 221.2,128.1 222.2,128.6 223.2,129.0 224.2,129.5 225.2,130.0 226.2,130.4 227.2,130.9 228.2,131.4 229.2,131.8 230.2,132.3 231.2,132.7 232.2,133.2 233.2,133.7 234.2,134.1 235.2,134.6 236.2,135.1 237.2,135.5 238.2,136.0 239.2,136.4 240.2,136.9 241.3,137.3 242.3,137.7 243.3,138.2 244.3,138.6 245.3,139.0 246.3,139.4 247.3,139.8 248.4,140.2 249.4,140.6 250.4,141.0 251.4,141.4 252.4,141.8 253.5,142.2 254.5,142.6 255.5,143.0 256.6,143.3 257.6,143.7 258.6,144.1 259.7,144.4 260.7,144.8 261.7,145.1 262.8,145.5 263.8,145.8 264.8,146.2 265.9,146.5 266.9,146.8 268.0,147.2 269.0,147.5 270.0,147.8 271.1,148.1 272.1,148.4 273.2,148.7 274.2,149.1 275.3,149.4 276.3,149.7 277.4,150.0 278.4,150.3 279.5,150.6 280.5,150.9 281.6,151.1 282.6,151.4 283.7,151.7 284.8,152.0 285.8,152.3 286.9,152.6 287.9,152.8 289.0,153.1 290.0,153.4 291.1,153.7 292.2,153.9 293.2,154.2 294.3,154.5 295.4,154.7 296.4,155.0 297.5,155.2 298.5,155.5 299.6,155.8 300.7,156.0 301.7,156.3 302.8,156.5 303.9,156.8 304.9,157.0 306.0,157.3 307.1,157.5 308.1,157.8 309.2,158.0 310.3,158.3 311.4,158.5 312.4,158.8 313.5,159.0 314.6,159.3 315.6,159.5 316.7,159.7 317.8,160.0 318.8,160.2 319.9,160.5 321.0,160.7 322.1,161.0 323.1,161.2 324.2,161.5 325.3,161.7 326.3,161.9 327.4,162.2 328.5,162.4 329.6,162.7 330.6,162.9 331.7,163.2 332.8,163.4 333.8,163.7 334.9,163.9 336.0,164.2 337.1,164.4 338.1,164.7 339.2,164.9 340.3,165.2 341.3,165.5 342.4,165.7 343.5,166.0 344.6,166.2 345.6,166.5 346.7,166.8 347.8,167.0 348.8,167.3 349.9,167.6 351.0,167.9 352.0,168.1 353.1,168.4 354.2,168.7 355.2,169.0 356.3,169.2 357.4,169.5 358.4,169.8 359.5,170.1 360.6,170.4 361.6,170.7 362.7,171.0 363.8,171.3 364.8,171.6 365.9,171.9 366.9,172.2 368.0,172.5 369.1,172.8 370.1,173.1 371.2,173.5 372.2,173.8 373.3,174.1 374.3,174.4 375.4,174.8 376.4,175.1 377.5,175.4 378.5,175.8 379.6,176.1 380.6,176.5 381.7,176.8 382.7,177.2 383.8,177.5 384.8,177.9 385.9,178.3 386.9,178.6 388.0,179.0 389.0,179.4 390.0,179.7 391.1,180.1 392.1,180.5 393.2,180.9 394.2,181.3 395.2,181.7 396.3,182.1 397.3,182.5 398.3,182.9 399.3,183.3 400.4,183.7 401.4,184.2 402.4,184.6 403.4,185.0 404.5,185.5 405.5,185.9 406.5,186.3 407.5,186.8 408.5,187.2 409.6,187.7 410.6,188.2 411.6,188.6 412.6,189.1 413.6,189.6 414.6,190.1 415.6,190.6 416.6,191.1 417.6,191.6 418.5,192.1 419.5,192.6 420.5,193.1 421.5,193.7 422.4,194.2 423.4,194.7 424.3,195.3 425.3,195.9 426.2,196.4 427.1,197.0 428.0,197.6 428.9,198.2 429.8,198.8 430.7,199.4 431.6,200.1 432.5,200.7 433.4,201.3 434.2,202.0 435.1,202.7 435.9,203.3 436.7,204.0 437.5,204.7 438.3,205.5 439.1,206.2 439.9,206.9 440.7,207.7 441.4,208.4 442.1,209.2 442.9,210.0 443.6,210.8 444.3,211.6 445.0,212.4 445.6,213.3 446.3,214.1 446.9,215.0 447.5,215.9 448.1,216.8 448.7,217.7 449.3,218.6 449.9,219.5 450.5,220.4 451.0,221.4 451.6,222.3 452.1,223.3 452.7,224.2 453.2,225.2 453.7,226.2 454.2,227.1 454.7,228.1 455.2,229.1 455.7,230.1 456.2,231.1 456.7,232.1 457.2,233.1 457.6,234.1 458.1,235.1 458.6,236.0 459.1,237.0 459.5,238.0 460.0,239.0 460.5,240.1 460.9,241.1 461.4,242.1 461.8,243.1 462.3,244.1 462.7,245.1 463.2,246.1 463.6,247.1 464.0,248.1 464.5,249.1 464.9,250.1 465.3,251.2 465.8,252.2 466.2,253.2 466.6,254.2 467.0,255.2 467.4,256.3 467.8,257.3 468.3,258.3 468.7,259.3 469.1,260.4 469.5,261.4 469.9,262.4 470.3,263.4 470.6,264.5 471.0,265.5 471.4,266.5 471.8,267.6 472.2,268.6 472.6,269.6 472.9,270.7 473.3,271.7 473.7,272.8 474.1,273.8 474.4,274.8 474.8,275.9 475.2,276.9 475.5,278.0 475.9,279.0 476.2,280.0 476.6,281.1 476.9,282.1 477.3,283.2 477.6,284.2 478.0,285.3 478.3,286.3 478.6,287.4 479.0,288.4 479.3,289.5 479.6,290.5 480.0,291.6 480.3,292.6 480.6,293.7 480.9,294.7 481.3,295.8 481.6,296.9 481.9,297.9 482.2,299.0 482.5,300.0 482.8,301.1 483.1,302.1 483.4,303.2 483.7,304.3 484.0,305.3 484.3,306.4 484.6,307.5 484.9,308.5 485.2,309.6 485.5,310.6 485.8,311.7 486.1,312.8 486.4,313.8 486.6,314.9 486.9,316.0 487.2,317.0 487.5,318.1 487.8,319.2 488.0,320.2 488.3,321.3 488.6,322.4 488.8,323.4 489.1,324.5 489.4,325.6 489.6,326.7 489.9,327.7 490.2,328.8 490.4,329.9 490.7,330.9 490.9,332.0 491.2,333.1 491.4,334.2 491.7,335.2 491.9,336.3 492.2,337.4 492.4,338.4 492.7,339.5 492.9,340.6 493.1,341.7 493.4,342.7 493.6,343.8 493.9,344.9 494.1,346.0 494.3,347.0 494.6,348.1 494.8,349.2 495.0,350.2 495.3,351.3 495.5,352.4 495.7,353.5 495.9,354.5 496.1,355.6 496.4,356.7 496.6,357.8 496.8,358.8 497.0,359.9 497.2,361.0 497.5,362.1 497.7,363.1 497.9,364.2 498.1,365.3 498.3,366.4 498.5,367.5 498.7,368.5 498.9,369.6 499.1,370.7 499.3,371.8 499.5,372.8 499.7,373.9 499.9,375.0 500.1,376.1 500.3,377.1 500.5,378.2 500.7,379.3 500.9,380.4 501.1,381.5 501.3,382.5 501.5,383.6 501.7,384.7 501.9,385.8 502.1,386.9 502.3,387.9 502.5,389.0 502.7,390.1 502.8,391.2 503.0,392.3 503.2,393.3 503.4,394.4 503.6,395.5 503.8,396.6 503.9,397.7 504.1,398.8 504.3,399.8 504.5,400.9 504.6,402.0 504.8,403.1 505.0,404.2 505.2,405.3 505.4,406.3 505.5,407.4 505.7,408.5 505.9,409.6 506.0,410.7 506.2,411.8 506.4,412.9 506.6,413.9 506.7,415.0 506.9,416.1 507.1,417.2 507.2,418.3 507.4,419.4 507.6,420.5 507.7,421.6 507.9,422.6 508.0,423.7 508.2,424.8 508.4,425.9 508.5,427.0 508.7,428.1 508.9,429.2 509.0,430.3 509.2,431.4 509.3,432.5 509.5,433.6 509.7,434.7 509.8,435.7 510.0,436.8 510.1,437.9 510.3,439.0 510.5,440.1 510.6,441.2 510.8,442.3 510.9,443.4 511.1,444.5 511.3,445.6 511.4,446.7 511.6,447.8 511.7,448.9 511.9,450.0 512.1,451.1 512.2,452.2 512.4,453.3 512.6,454.3 512.7,455.4 512.9,456.5 513.1,457.6 513.2,458.7 513.4,459.8 513.6,460.9 513.7,462.0 513.9,463.1 514.1,464.2 514.2,465.3 514.4,466.4 514.6,467.4 514.8,468.5 514.9,469.6 515.1,470.7 515.3,471.8 515.5,472.9 515.7,474.0 515.9,475.1 516.0,476.1 516.2,477.2 516.4,478.3 516.6,479.4 516.8,480.5 517.0,481.6 517.2,482.7 517.4,483.7 517.6,484.8 517.8,485.9 518.0,487.0 518.2,488.1 518.4,489.1 518.6,490.2 518.9,491.3 519.1,492.4 519.3,493.4 519.5,494.5 519.7,495.6 520.0,496.7 520.2,497.7 520.4,498.8 520.7,499.9 520.9,500.9 521.1,502.0 521.4,503.1 521.6,504.1 521.9,505.2 522.1,506.2 522.4,507.3 522.6,508.4 522.9,509.4 523.2,510.5 523.4,511.5 523.7,512.6 523.9,513.7 524.2,514.7 524.5,515.8 524.8,516.8 525.1,517.9 525.3,518.9 525.6,520.0 525.9,521.1 526.2,522.1 526.5,523.2 526.8,524.2 527.1,525.3 527.4,526.3 527.7,527.4 528.0,528.4 528.3,529.5 528.6,530.5 528.9,531.6 529.2,532.6 529.5,533.7 529.8,534.8 530.2,535.8 530.5,536.9 530.8,537.9 531.1,539.0 531.5,540.0 531.8,541.1 532.1,542.2 532.4,543.2 532.8,544.3 533.1,545.4 533.5,546.4 533.8,547.5 534.1,548.6 534.5,549.6 534.8,550.7 535.2,551.8 535.5,552.8 535.9,553.9 536.2,555.0 536.6,556.0 537.0,557.1 537.3,558.2 537.7,559.3 538.1,560.3 538.5,561.4 538.8,562.4 539.2,563.5 539.6,564.6 540.0,565.6 540.5,566.7 540.9,567.7 541.3,568.7 541.7,569.8 542.2,570.8 542.6,571.8 543.1,572.8 543.6,573.9 544.0,574.9 544.5,575.9 545.0,576.9 545.5,577.8 546.1,578.8 546.6,579.8 547.1,580.7 547.7,581.7 548.3,582.6 548.9,583.5 549.4,584.5 550.1,585.4 550.7,586.3 551.3,587.2 552.0,588.0 552.6,588.9 553.3,589.7 554.0,590.6 554.7,591.4 555.4,592.2 556.1,593.0 556.8,593.8 557.6,594.6 558.3,595.4 559.1,596.1 559.9,596.9 560.7,597.6 561.5,598.3 562.3,599.0 563.1,599.7 563.9,600.3 564.8,601.0 565.6,601.6 566.5,602.2 567.4,602.8 568.3,603.4 569.2,604.0 570.1,604.5 571.0,605.1 571.9,605.6 572.9,606.1 573.8,606.6 574.8,607.1 575.7,607.5 576.7,607.9 577.7,608.4 578.7,608.7 579.7,609.1 580.7,609.5 581.8,609.8 582.8,610.1 583.8,610.5 584.9,610.7 585.9,611.0 587.0,611.3 588.1,611.6 589.1,611.8 590.2,612.0 591.3,612.3 592.4,612.5 593.5,612.7 594.6,612.9 595.7,613.1 596.8,613.3 597.8,613.4 598.9,613.6 600.0,613.8 601.1,614.0 602.2,614.1 603.3,614.3 604.4,614.5 605.5,614.6 606.6,614.8 607.7,614.9 608.8,615.1 609.9,615.2 611.0,615.4 612.1,615.5 613.2,615.7 614.3,615.8 615.4,615.9 616.5,616.1 617.6,616.2 618.7,616.3 619.8,616.5 620.9,616.6 622.0,616.7 623.1,616.8 624.2,616.9 625.3,617.0 626.4,617.2 627.5,617.3 628.6,617.4 629.7,617.5 630.8,617.6 631.9,617.7 633.0,617.8 634.1,617.9 635.2,618.0 636.3,618.0 637.4,618.1 638.5,618.2 639.6,618.3 640.7,618.4 641.8,618.5 642.9,618.5 644.0,618.6 645.1,618.7 646.2,618.8 647.3,618.8 648.4,618.9 649.5,619.0 650.6,619.0 651.7,619.1 652.8,619.2 653.9,619.2 655.0,619.3 656.1,619.3 657.2,619.4 658.3,619.4 659.4,619.5 660.5,619.5 661.6,619.6 662.7,619.6 663.8,619.7 664.9,619.7 666.0,619.8 667.1,619.8 668.2,619.9 669.3,619.9 670.4,619.9 671.5,620.0 672.6,620.0 673.7,620.0 674.8,620.1 675.9,620.1 677.0,620.1 678.1,620.2 679.2,620.2 680.3,620.2 681.4,620.2 682.5,620.3 683.6,620.3 684.7,620.3 685.8,620.3 686.9,620.4 688.0,620.4 689.1,620.4 690.2,620.4 691.3,620.5 692.4,620.5 693.5,620.5 694.6,620.5 695.7,620.5 696.8,620.5 697.9,620.6 699.0,620.6 700.1,620.6 701.2,620.6 702.3,620.6 703.4,620.6 704.5,620.6 705.6,620.7 706.7,620.7 707.8,620.7 708.9,620.7 710.0,620.7 711.1,620.7 712.2,620.7 713.3,620.7 714.4,620.8 715.5,620.8 716.6,620.8 717.7,620.8 718.8,620.8 719.9,620.8 721.0,620.8 722.1,620.8 723.2,620.9 724.3,620.9 725.4,620.9 726.5,620.9 727.6,620.9 728.8,620.9 729.9,620.9 731.0,620.9 732.1,621.0 733.2,621.0 734.3,621.0 735.4,621.0 736.5,621.0 737.6,621.0 738.7,621.1 739.8,621.1 740.9,621.1 742.0,621.1 743.1,621.1 744.2,621.1 745.3,621.2 746.4,621.2 747.5,621.2 748.6,621.2 749.7,621.2 750.8,621.3 751.9,621.3 753.0,621.3 754.1,621.3 755.2,621.3 756.3,621.4 757.4,621.4 758.5,621.4 759.6,621.4 760.7,621.5 761.8,621.5 762.9,621.5 764.0,621.5 765.1,621.6 766.2,621.6 767.3,621.6 768.4,621.6 769.5,621.6 770.6,621.7 771.7,621.7 772.8,621.7 773.9,621.8 775.0,621.8 776.1,621.8 777.2,621.8 778.3,621.9 779.4,621.9 780.5,621.9 781.6,621.9 782.7,622.0 783.8,622.0 784.9,622.0 786.0,622.0 787.1,622.1 788.2,622.1 789.3,622.1 790.4,622.2 791.5,622.2 792.6,622.2 793.7,622.2 794.8,622.3 795.9,622.3 797.0,622.3 798.1,622.4 799.2,622.4 800.3,622.4 801.4,622.4 802.5,622.5 803.6,622.5 804.7,622.5 805.8,622.5 806.9,622.6 808.0,622.6 809.1,622.6 810.2,622.7 811.3,622.7 812.4,622.7 813.5,622.7 814.6,622.8 815.7,622.8 816.8,622.8 817.9,622.9 819.0,622.9 820.1,622.9 821.2,622.9 822.3,623.0 823.4,623.0 824.5,623.0 825.6,623.0 826.7,623.1 827.8,623.1 828.9,623.1 830.0,623.2 831.1,623.2 832.2,623.2 833.3,623.2 834.4,623.3 835.5,623.3 836.6,623.3 837.7,623.3 838.8,623.4 839.9,623.4 841.0,623.4 842.1,623.4 843.2,623.5 844.3,623.5 845.4,623.5 846.5,623.5 847.6,623.5 848.7,623.6 849.8,623.6 850.9,623.6 852.0,623.6 853.1,623.7 854.2,623.7 855.3,623.7 856.4,623.7 857.5,623.7 858.6,623.8 859.7,623.8 860.8,623.8 861.9,623.8 863.0,623.8 864.1,623.8 865.2,623.9 866.3,623.9 867.4,623.9 868.5,623.9 869.7,623.9 870.8,623.9 871.9,624.0 873.0,624.0 874.1,624.0 875.2,624.0 876.3,624.0 877.4,624.0 878.5,624.0 879.6,624.1 880.7,624.1 881.8,624.1 882.9,624.1 884.0,624.1 885.1,624.1 886.2,624.1 887.3,624.1 888.4,624.1 889.5,624.1 890.6,624.1 891.7,624.2 892.8,624.2 893.9,624.2 895.0,624.2 896.1,624.2 897.2,624.2 898.3,624.2 899.4,624.2 900.5,624.2 901.6,624.2 902.7,624.2 903.8,624.2 904.9,624.2 906.0,624.2" stroke="#2A5EAA" stroke-width="2.3" fill="none" stroke-linejoin="round" stroke-linecap="round" clip-path="url(#ca)"/>
<path d="M83.0,103.0 83.1,102.7 83.1,102.4 83.2,102.0 83.2,101.6 83.3,101.1 83.3,100.7 83.4,100.1 83.5,99.6 83.6,99.1 83.7,98.5 83.8,97.9 83.9,97.3 84.0,96.7 84.1,96.1 84.2,95.6 84.4,95.0 84.5,94.5 84.7,94.0 84.8,93.5 85.0,93.0 85.1,92.8 85.2,92.7 85.3,92.6 85.4,92.4 85.5,92.3 85.6,92.2 85.8,92.0 85.9,91.9 86.1,91.8 86.2,91.7 86.4,91.6 86.6,91.5 86.8,91.4 86.9,91.3 87.1,91.3 87.3,91.2 87.5,91.1 87.7,91.1 87.8,91.0 88.0,91.0 88.2,91.0 88.5,90.9 88.7,90.9 89.0,90.9 89.2,90.9 89.5,90.8 89.7,90.8 90.0,90.9 90.2,90.9 90.5,90.9 90.7,90.9 91.0,90.9 91.3,91.0 91.5,91.0 91.8,91.0 92.0,91.1 92.3,91.1 92.5,91.2 92.8,91.2 93.0,91.3 93.2,91.3 93.4,91.4 93.6,91.4 93.8,91.5 94.0,91.6 94.2,91.6 94.4,91.7 94.6,91.7 94.8,91.8 95.0,91.9 95.1,92.0 95.3,92.1 95.5,92.2 95.7,92.3 95.8,92.4 96.0,92.5 96.1,92.6 96.3,92.7 96.4,92.9 96.5,93.0 96.7,93.2 96.8,93.5 96.9,93.7 97.0,94.0 97.1,94.3 97.2,94.5 97.3,94.8 97.3,95.1 97.4,95.4 97.5,95.7 97.5,96.0 97.6,96.3 97.7,96.6 97.7,96.9 97.8,97.2 97.9,97.5 98.0,97.8 98.1,98.1 98.2,98.3 98.3,98.6 98.3,98.7 98.4,98.8 98.5,98.8 98.5,98.9 98.6,99.0 98.7,99.0 98.8,99.1 98.8,99.1 98.9,99.2 99.0,99.2 99.1,99.3 99.2,99.3 99.3,99.3 99.4,99.4 99.5,99.4 99.6,99.4 99.7,99.4 99.8,99.5 99.9,99.5 100.0,99.5 100.1,99.5 100.2,99.5 100.3,99.5 100.4,99.5 100.5,99.5 100.6,99.4 100.7,99.4 100.8,99.4 100.9,99.4 101.0,99.3 101.1,99.3 101.2,99.3 101.3,99.2 101.4,99.2 101.5,99.2 101.6,99.2 101.7,99.2 101.8,99.2 101.9,99.2 102.0,99.2 102.1,99.2 102.2,99.3 102.3,99.4 102.4,99.4 102.5,99.5 102.6,99.6 102.7,99.7 102.8,99.8 102.9,99.9 103.0,100.0 103.1,100.1 103.2,100.2 103.3,100.3 103.3,100.4 103.4,100.5 103.5,100.6 103.7,100.7 103.8,100.7 103.9,100.8 104.0,100.8 104.8,101.0 105.6,101.1 106.5,101.3 107.4,101.4 108.3,101.6 109.2,101.7 110.2,101.8 111.1,101.9 112.0,102.1 112.9,102.2 113.8,102.3 114.7,102.4 115.5,102.5 116.3,102.6 117.1,102.7 117.8,102.7 118.5,102.8 119.0,102.9 119.6,102.9 120.0,103.0 121.1,103.1 122.2,103.2 123.3,103.3 124.4,103.4 125.5,103.4 126.6,103.5 127.7,103.6 128.8,103.6 129.9,103.7 131.0,103.8 132.1,103.8 133.2,103.9 134.3,103.9 135.4,104.0 136.5,104.0 137.6,104.1 138.7,104.1 139.8,104.2 140.9,104.2 142.0,104.3 143.1,104.3 144.2,104.3 145.3,104.4 146.4,104.4 147.5,104.5 148.7,104.5 149.8,104.6 150.9,104.6 152.0,104.7 153.1,104.7 154.2,104.8 155.3,104.8 156.4,104.9 157.5,104.9 158.6,105.0 159.7,105.1 160.8,105.1 161.9,105.2 163.0,105.3 164.1,105.4 165.3,105.5 166.4,105.5 167.5,105.6 168.6,105.7 169.7,105.8 170.7,106.0 171.8,106.1 172.9,106.2 174.0,106.3 175.1,106.5 176.2,106.6 177.3,106.7 178.4,106.9 179.5,107.1 180.6,107.2 181.6,107.4 182.7,107.6 183.8,107.8 184.9,108.0 186.0,108.2 187.0,108.4 188.1,108.7 189.2,108.9 190.2,109.1 191.3,109.4 192.4,109.6 193.4,109.9 194.5,110.2 195.5,110.4 196.6,110.7 197.7,111.0 198.7,111.3 199.8,111.6 200.8,111.9 201.9,112.2 202.9,112.6 204.0,112.9 205.0,113.2 206.0,113.6 207.1,113.9 208.1,114.3 209.1,114.6 210.2,115.0 211.2,115.4 212.2,115.7 213.3,116.1 214.3,116.5 215.3,116.9 216.3,117.3 217.4,117.7 218.4,118.1 219.4,118.6 220.4,119.0 221.4,119.4 222.4,119.9 223.4,120.3 224.4,120.7 225.4,121.2 226.4,121.6 227.4,122.1 228.4,122.6 229.4,123.0 230.4,123.5 231.4,124.0 232.4,124.4 233.4,124.9 234.4,125.4 235.4,125.8 236.4,126.3 237.4,126.8 238.4,127.2 239.4,127.7 240.4,128.1 241.4,128.6 242.4,129.0 243.4,129.5 244.4,129.9 245.4,130.3 246.4,130.7 247.5,131.1 248.5,131.5 249.5,131.9 250.5,132.3 251.5,132.7 252.6,133.1 253.6,133.5 254.6,133.8 255.7,134.2 256.7,134.6 257.7,134.9 258.8,135.3 259.8,135.6 260.8,135.9 261.9,136.3 262.9,136.6 264.0,136.9 265.0,137.2 266.1,137.6 267.1,137.9 268.2,138.2 269.2,138.5 270.3,138.8 271.3,139.1 272.4,139.3 273.4,139.6 274.5,139.9 275.6,140.2 276.6,140.5 277.7,140.7 278.7,141.0 279.8,141.3 280.9,141.5 282.0,141.8 283.0,142.0 284.1,142.3 285.2,142.5 286.2,142.7 287.3,143.0 288.4,143.2 289.5,143.4 290.5,143.7 291.6,143.9 292.7,144.1 293.8,144.4 294.9,144.6 295.9,144.8 297.0,145.0 298.1,145.2 299.2,145.5 300.3,145.7 301.3,145.9 302.4,146.1 303.5,146.4 304.6,146.6 305.6,146.8 306.7,147.1 307.8,147.3 308.9,147.5 309.9,147.8 311.0,148.0 312.1,148.3 313.1,148.5 314.2,148.8 315.3,149.1 316.3,149.4 317.4,149.6 318.4,149.9 319.5,150.2 320.5,150.5 321.6,150.8 322.6,151.1 323.7,151.4 324.7,151.7 325.8,152.0 326.8,152.3 327.9,152.6 328.9,152.9 330.0,153.2 331.0,153.5 332.1,153.9 333.1,154.2 334.1,154.5 335.2,154.8 336.2,155.2 337.3,155.5 338.3,155.8 339.4,156.2 340.4,156.5 341.5,156.8 342.5,157.2 343.6,157.5 344.6,157.8 345.6,158.2 346.7,158.5 347.7,158.9 348.8,159.2 349.9,159.5 350.9,159.9 352.0,160.2 353.0,160.6 354.1,160.9 355.1,161.2 356.2,161.6 357.2,161.9 358.3,162.3 359.4,162.6 360.4,162.9 361.5,163.3 362.5,163.6 363.6,164.0 364.7,164.3 365.7,164.7 366.8,165.0 367.8,165.4 368.9,165.8 370.0,166.1 371.0,166.5 372.1,166.9 373.1,167.2 374.2,167.6 375.2,168.0 376.3,168.3 377.3,168.7 378.4,169.1 379.4,169.5 380.5,169.9 381.5,170.3 382.6,170.7 383.6,171.1 384.7,171.5 385.7,171.9 386.7,172.3 387.8,172.7 388.8,173.1 389.8,173.6 390.8,174.0 391.9,174.4 392.9,174.9 393.9,175.3 394.9,175.8 395.9,176.2 396.9,176.7 397.9,177.2 398.9,177.6 399.9,178.1 400.9,178.6 401.9,179.1 402.9,179.6 403.9,180.1 404.8,180.6 405.8,181.1 406.8,181.7 407.7,182.2 408.7,182.7 409.6,183.3 410.6,183.8 411.5,184.4 412.5,185.0 413.4,185.5 414.3,186.1 415.3,186.7 416.2,187.3 417.1,187.9 418.0,188.5 418.9,189.1 419.8,189.7 420.7,190.4 421.6,191.0 422.5,191.7 423.3,192.3 424.2,193.0 425.1,193.6 425.9,194.3 426.8,195.0 427.6,195.7 428.5,196.4 429.3,197.1 430.1,197.8 430.9,198.5 431.8,199.2 432.6,199.9 433.4,200.6 434.2,201.4 435.0,202.1 435.7,202.9 436.5,203.6 437.3,204.4 438.1,205.2 438.8,205.9 439.6,206.7 440.3,207.5 441.0,208.3 441.8,209.1 442.5,209.9 443.2,210.7 443.9,211.5 444.6,212.4 445.3,213.2 446.0,214.0 446.7,214.9 447.3,215.7 448.0,216.6 448.6,217.5 449.3,218.3 449.9,219.2 450.6,220.1 451.2,221.0 451.8,221.9 452.4,222.8 453.0,223.7 453.6,224.6 454.2,225.5 454.7,226.4 455.3,227.4 455.9,228.3 456.4,229.2 456.9,230.2 457.5,231.1 458.0,232.1 458.5,233.1 459.0,234.0 459.5,235.0 460.0,236.0 460.5,237.0 461.0,238.0 461.4,238.9 461.9,239.9 462.3,241.0 462.8,242.0 463.2,243.0 463.6,244.0 464.1,245.0 464.5,246.0 464.9,247.1 465.3,248.1 465.7,249.1 466.1,250.2 466.5,251.2 466.9,252.3 467.3,253.3 467.6,254.4 468.0,255.4 468.4,256.5 468.7,257.5 469.1,258.6 469.4,259.6 469.8,260.7 470.1,261.8 470.5,262.8 470.8,263.9 471.2,265.0 471.5,266.0 471.8,267.1 472.2,268.2 472.5,269.3 472.8,270.3 473.2,271.4 473.5,272.5 473.8,273.6 474.1,274.6 474.5,275.7 474.8,276.8 475.1,277.8 475.4,278.9 475.7,280.0 476.1,281.1 476.4,282.1 476.7,283.2 477.0,284.3 477.3,285.3 477.7,286.4 478.0,287.5 478.3,288.5 478.6,289.6 479.0,290.6 479.3,291.7 479.6,292.7 479.9,293.8 480.3,294.9 480.6,295.9 480.9,297.0 481.3,298.0 481.6,299.1 481.9,300.1 482.2,301.2 482.6,302.2 482.9,303.2 483.2,304.3 483.5,305.3 483.9,306.4 484.2,307.4 484.5,308.5 484.8,309.5 485.1,310.6 485.5,311.6 485.8,312.7 486.1,313.7 486.4,314.7 486.7,315.8 487.0,316.8 487.3,317.9 487.6,318.9 487.9,320.0 488.3,321.0 488.6,322.1 488.9,323.1 489.2,324.2 489.4,325.2 489.7,326.3 490.0,327.3 490.3,328.4 490.6,329.4 490.9,330.5 491.2,331.5 491.5,332.6 491.7,333.6 492.0,334.7 492.3,335.7 492.5,336.8 492.8,337.8 493.1,338.9 493.3,340.0 493.6,341.0 493.8,342.1 494.1,343.2 494.3,344.2 494.6,345.3 494.8,346.3 495.1,347.4 495.3,348.5 495.6,349.6 495.8,350.6 496.0,351.7 496.3,352.8 496.5,353.8 496.7,354.9 497.0,356.0 497.2,357.0 497.4,358.1 497.6,359.2 497.9,360.3 498.1,361.3 498.3,362.4 498.5,363.5 498.7,364.6 498.9,365.7 499.1,366.7 499.4,367.8 499.6,368.9 499.8,370.0 500.0,371.1 500.2,372.1 500.4,373.2 500.6,374.3 500.8,375.4 501.0,376.5 501.2,377.6 501.4,378.6 501.6,379.7 501.8,380.8 501.9,381.9 502.1,383.0 502.3,384.1 502.5,385.1 502.7,386.2 502.9,387.3 503.1,388.4 503.3,389.5 503.4,390.6 503.6,391.7 503.8,392.8 504.0,393.9 504.2,394.9 504.3,396.0 504.5,397.1 504.7,398.2 504.9,399.3 505.1,400.4 505.2,401.5 505.4,402.6 505.6,403.7 505.8,404.8 505.9,405.9 506.1,406.9 506.3,408.0 506.4,409.1 506.6,410.2 506.8,411.3 507.0,412.4 507.1,413.5 507.3,414.6 507.5,415.7 507.7,416.8 507.8,417.9 508.0,419.0 508.2,420.1 508.3,421.2 508.5,422.2 508.7,423.3 508.9,424.4 509.0,425.5 509.2,426.6 509.4,427.7 509.5,428.8 509.7,429.9 509.9,431.0 510.1,432.1 510.2,433.2 510.4,434.3 510.6,435.4 510.8,436.4 510.9,437.5 511.1,438.6 511.3,439.7 511.5,440.8 511.6,441.9 511.8,443.0 512.0,444.1 512.2,445.2 512.4,446.3 512.5,447.3 512.7,448.4 512.9,449.5 513.1,450.6 513.3,451.7 513.5,452.8 513.6,453.9 513.8,455.0 514.0,456.0 514.2,457.1 514.4,458.2 514.6,459.3 514.8,460.4 515.0,461.5 515.2,462.6 515.4,463.6 515.6,464.7 515.8,465.8 516.0,466.9 516.2,468.0 516.4,469.0 516.6,470.1 516.8,471.2 517.0,472.3 517.2,473.4 517.4,474.4 517.6,475.5 517.8,476.6 518.1,477.7 518.3,478.7 518.5,479.8 518.7,480.9 519.0,482.0 519.2,483.0 519.4,484.1 519.6,485.2 519.9,486.3 520.1,487.3 520.3,488.4 520.6,489.5 520.8,490.5 521.1,491.6 521.3,492.7 521.5,493.7 521.8,494.8 522.0,495.9 522.3,496.9 522.5,498.0 522.8,499.1 523.1,500.1 523.3,501.2 523.6,502.2 523.9,503.3 524.1,504.4 524.4,505.4 524.7,506.5 524.9,507.6 525.2,508.6 525.5,509.7 525.8,510.7 526.1,511.8 526.4,512.9 526.7,513.9 526.9,515.0 527.2,516.0 527.5,517.1 527.8,518.2 528.1,519.2 528.5,520.3 528.8,521.4 529.1,522.4 529.4,523.5 529.7,524.5 530.0,525.6 530.4,526.7 530.7,527.7 531.0,528.8 531.3,529.9 531.7,530.9 532.0,532.0 532.4,533.0 532.7,534.1 533.1,535.2 533.4,536.2 533.8,537.3 534.1,538.4 534.5,539.4 534.9,540.5 535.2,541.6 535.6,542.6 536.0,543.7 536.4,544.7 536.8,545.8 537.2,546.8 537.6,547.9 538.0,548.9 538.4,549.9 538.9,551.0 539.3,552.0 539.7,553.0 540.2,554.0 540.7,555.1 541.1,556.1 541.6,557.1 542.1,558.1 542.6,559.0 543.1,560.0 543.7,561.0 544.2,561.9 544.7,562.9 545.3,563.8 545.9,564.8 546.5,565.7 547.0,566.6 547.7,567.5 548.3,568.4 548.9,569.3 549.6,570.2 550.2,571.0 550.9,571.9 551.6,572.7 552.3,573.5 553.0,574.4 553.7,575.2 554.4,576.0 555.2,576.7 555.9,577.5 556.7,578.3 557.5,579.0 558.3,579.8 559.1,580.5 559.9,581.2 560.7,581.9 561.5,582.6 562.4,583.2 563.2,583.9 564.1,584.6 565.0,585.2 565.8,585.8 566.7,586.4 567.6,587.0 568.5,587.6 569.5,588.2 570.4,588.7 571.3,589.2 572.3,589.8 573.2,590.3 574.2,590.8 575.2,591.3 576.2,591.7 577.1,592.2 578.1,592.6 579.2,593.1 580.2,593.5 581.2,593.9 582.2,594.3 583.2,594.6 584.3,595.0 585.3,595.4 586.4,595.7 587.4,596.0 588.5,596.4 589.5,596.7 590.6,597.0 591.7,597.3 592.7,597.6 593.8,597.9 594.9,598.2 595.9,598.4 597.0,598.7 598.1,599.0 599.2,599.2 600.2,599.5 601.3,599.7 602.4,600.0 603.5,600.2 604.6,600.4 605.6,600.7 606.7,600.9 607.8,601.1 608.9,601.3 610.0,601.5 611.1,601.7 612.1,601.9 613.2,602.1 614.3,602.3 615.4,602.5 616.5,602.7 617.6,602.8 618.7,603.0 619.8,603.2 620.9,603.3 622.0,603.5 623.0,603.6 624.1,603.8 625.2,603.9 626.3,604.1 627.4,604.2 628.5,604.4 629.6,604.5 630.7,604.6 631.8,604.7 632.9,604.9 634.0,605.0 635.1,605.1 636.2,605.2 637.3,605.3 638.4,605.4 639.5,605.5 640.6,605.6 641.7,605.7 642.8,605.8 643.9,605.9 645.0,606.0 646.1,606.1 647.2,606.2 648.3,606.2 649.4,606.3 650.5,606.4 651.6,606.5 652.7,606.6 653.8,606.6 654.9,606.7 656.0,606.8 657.1,606.8 658.2,606.9 659.3,607.0 660.4,607.0 661.6,607.1 662.7,607.1 663.8,607.2 664.9,607.3 666.0,607.3 667.1,607.4 668.2,607.4 669.3,607.5 670.4,607.5 671.5,607.6 672.6,607.6 673.7,607.7 674.8,607.7 675.9,607.8 677.0,607.8 678.1,607.9 679.2,607.9 680.3,608.0 681.4,608.0 682.5,608.1 683.6,608.1 684.7,608.2 685.8,608.2 686.9,608.3 688.0,608.3 689.1,608.4 690.2,608.4 691.3,608.5 692.4,608.5 693.5,608.5 694.6,608.6 695.7,608.6 696.8,608.7 697.9,608.7 699.0,608.8 700.1,608.8 701.2,608.8 702.3,608.9 703.4,608.9 704.5,609.0 705.6,609.0 706.7,609.0 707.8,609.1 708.9,609.1 710.0,609.2 711.1,609.2 712.2,609.2 713.3,609.3 714.4,609.3 715.5,609.3 716.6,609.4 717.7,609.4 718.8,609.4 719.9,609.5 721.0,609.5 722.1,609.6 723.2,609.6 724.3,609.6 725.4,609.7 726.5,609.7 727.6,609.7 728.7,609.8 729.8,609.8 730.9,609.8 732.0,609.9 733.1,609.9 734.2,609.9 735.3,609.9 736.4,610.0 737.5,610.0 738.6,610.0 739.7,610.1 740.8,610.1 741.9,610.1 743.0,610.2 744.1,610.2 745.2,610.2 746.3,610.3 747.4,610.3 748.5,610.3 749.6,610.3 750.7,610.4 751.8,610.4 752.9,610.4 754.0,610.5 755.1,610.5 756.2,610.5 757.3,610.5 758.4,610.6 759.5,610.6 760.6,610.6 761.7,610.6 762.8,610.7 763.9,610.7 765.0,610.7 766.1,610.7 767.2,610.8 768.3,610.8 769.4,610.8 770.5,610.8 771.6,610.9 772.7,610.9 773.8,610.9 774.9,610.9 776.0,611.0 777.1,611.0 778.2,611.0 779.3,611.0 780.4,611.1 781.5,611.1 782.6,611.1 783.7,611.1 784.8,611.2 785.9,611.2 787.0,611.2 788.1,611.2 789.2,611.3 790.3,611.3 791.4,611.3 792.5,611.3 793.6,611.3 794.7,611.4 795.8,611.4 796.9,611.4 798.0,611.4 799.1,611.5 800.2,611.5 801.3,611.5 802.4,611.5 803.5,611.5 804.6,611.6 805.7,611.6 806.8,611.6 807.9,611.6 809.1,611.7 810.2,611.7 811.3,611.7 812.4,611.7 813.5,611.7 814.6,611.8 815.7,611.8 816.8,611.8 817.9,611.8 819.0,611.8 820.1,611.9 821.2,611.9 822.3,611.9 823.4,611.9 824.5,612.0 825.6,612.0 826.7,612.0 827.8,612.0 828.9,612.0 830.0,612.1 831.1,612.1 832.2,612.1 833.3,612.1 834.4,612.1 835.5,612.2 836.6,612.2 837.7,612.2 838.8,612.2 839.9,612.2 841.0,612.3 842.1,612.3 843.2,612.3 844.3,612.3 845.4,612.3 846.5,612.4 847.6,612.4 848.7,612.4 849.8,612.4 850.9,612.4 852.1,612.5 853.2,612.5 854.3,612.5 855.4,612.5 856.5,612.5 857.6,612.6 858.7,612.6 859.8,612.6 860.9,612.6 862.0,612.6 863.1,612.7 864.2,612.7 865.3,612.7 866.4,612.7 867.5,612.7 868.6,612.8 869.7,612.8 870.8,612.8 871.9,612.8 873.0,612.9 874.1,612.9 875.2,612.9 876.3,612.9 877.4,612.9 878.5,613.0 879.6,613.0 880.7,613.0 881.8,613.0 882.9,613.0 884.0,613.1 885.1,613.1 886.2,613.1 887.3,613.1 888.4,613.2 889.5,613.2 890.6,613.2 891.7,613.2 892.8,613.2 893.9,613.3 895.0,613.3 896.1,613.3 897.2,613.3 898.3,613.4 899.4,613.4 900.5,613.4 901.6,613.4 902.7,613.5 903.8,613.5 904.9,613.5 906.0,613.5" stroke="#26A363" stroke-width="2.3" fill="none" stroke-linejoin="round" stroke-linecap="round" clip-path="url(#ca)"/>
<path d="M83.0,104.0 83.1,103.8 83.2,103.6 83.3,103.3 83.4,103.0 83.5,102.6 83.6,102.3 83.7,101.9 83.8,101.5 84.0,101.1 84.1,100.7 84.3,100.3 84.4,99.8 84.6,99.4 84.8,99.0 85.0,98.6 85.2,98.3 85.4,97.9 85.6,97.6 85.8,97.3 86.0,97.0 86.1,96.9 86.3,96.8 86.4,96.7 86.6,96.6 86.8,96.5 87.0,96.5 87.2,96.4 87.4,96.4 87.6,96.4 87.8,96.4 88.0,96.4 88.2,96.4 88.5,96.4 88.7,96.4 88.9,96.4 89.1,96.4 89.4,96.4 89.6,96.4 89.8,96.4 90.0,96.4 90.3,96.4 90.5,96.4 90.8,96.4 91.1,96.3 91.3,96.3 91.6,96.3 91.9,96.2 92.2,96.2 92.5,96.2 92.8,96.2 93.0,96.2 93.3,96.2 93.5,96.2 93.8,96.2 94.0,96.3 94.3,96.4 94.5,96.4 94.7,96.5 94.8,96.7 95.0,96.8 95.3,97.1 95.5,97.4 95.7,97.8 95.9,98.2 96.1,98.6 96.2,99.0 96.4,99.5 96.5,99.9 96.7,100.4 96.8,100.9 96.9,101.3 97.0,101.8 97.2,102.3 97.3,102.8 97.4,103.2 97.6,103.6 97.7,104.1 97.9,104.5 98.1,104.9 98.3,105.2 98.3,105.3 98.4,105.3 98.5,105.3 98.5,105.3 98.6,105.3 98.7,105.3 98.8,105.3 98.8,105.3 98.9,105.2 99.0,105.2 99.1,105.1 99.2,105.1 99.3,105.0 99.4,105.0 99.5,104.9 99.6,104.9 99.7,104.9 99.8,104.8 99.9,104.8 100.0,104.8 100.5,104.8 101.0,104.8 101.5,104.8 102.0,104.8 102.5,104.8 103.0,104.7 103.5,104.7 104.0,104.8 104.5,104.8 105.0,104.8 105.5,104.8 106.0,104.8 106.5,104.8 107.0,104.8 107.5,104.8 108.0,104.8 108.5,104.8 109.0,104.8 109.5,104.8 110.0,104.8 110.5,104.8 111.0,104.8 111.6,104.8 112.2,104.8 112.7,104.8 113.3,104.8 113.9,104.8 114.5,104.8 115.1,104.8 115.6,104.8 116.2,104.8 116.7,104.8 117.2,104.8 117.7,104.8 118.2,104.8 118.6,104.8 119.0,104.8 119.4,104.8 119.7,104.8 120.0,104.8 121.1,105.0 122.2,105.1 123.2,105.2 124.3,105.4 125.4,105.5 126.5,105.6 127.6,105.7 128.7,105.8 129.8,105.9 130.9,106.0 132.0,106.1 133.1,106.2 134.2,106.3 135.3,106.3 136.4,106.4 137.5,106.5 138.6,106.5 139.7,106.6 140.9,106.6 142.0,106.7 143.1,106.7 144.2,106.8 145.3,106.8 146.4,106.8 147.5,106.9 148.6,106.9 149.8,107.0 150.9,107.0 152.0,107.0 153.1,107.1 154.2,107.1 155.3,107.2 156.5,107.2 157.6,107.3 158.7,107.3 159.8,107.4 160.9,107.4 162.0,107.5 163.1,107.5 164.2,107.6 165.3,107.7 166.4,107.8 167.5,107.8 168.7,107.9 169.8,108.0 170.9,108.1 172.0,108.2 173.0,108.3 174.1,108.4 175.2,108.6 176.3,108.7 177.4,108.8 178.5,109.0 179.6,109.1 180.7,109.3 181.7,109.5 182.8,109.7 183.9,109.9 185.0,110.1 186.0,110.3 187.1,110.5 188.2,110.7 189.2,111.0 190.3,111.2 191.3,111.5 192.4,111.7 193.4,112.0 194.5,112.3 195.5,112.6 196.6,112.9 197.6,113.2 198.7,113.5 199.7,113.8 200.8,114.1 201.8,114.4 202.8,114.8 203.9,115.1 204.9,115.4 205.9,115.8 207.0,116.1 208.0,116.5 209.0,116.9 210.1,117.2 211.1,117.6 212.1,118.0 213.1,118.4 214.2,118.7 215.2,119.1 216.2,119.5 217.2,119.9 218.2,120.3 219.3,120.7 220.3,121.2 221.3,121.6 222.3,122.0 223.3,122.4 224.4,122.8 225.4,123.2 226.4,123.7 227.4,124.1 228.4,124.5 229.5,125.0 230.5,125.4 231.5,125.8 232.5,126.3 233.5,126.7 234.5,127.1 235.6,127.6 236.6,128.0 237.6,128.5 238.6,128.9 239.6,129.3 240.7,129.8 241.7,130.2 242.7,130.7 243.7,131.1 244.8,131.5 245.8,132.0 246.8,132.4 247.8,132.9 248.8,133.3 249.9,133.7 250.9,134.2 251.9,134.6 252.9,135.0 254.0,135.5 255.0,135.9 256.0,136.3 257.0,136.8 258.1,137.2 259.1,137.6 260.1,138.0 261.2,138.5 262.2,138.9 263.2,139.3 264.2,139.7 265.3,140.1 266.3,140.5 267.3,140.9 268.4,141.3 269.4,141.7 270.4,142.1 271.4,142.5 272.5,142.9 273.5,143.3 274.5,143.6 275.6,144.0 276.6,144.4 277.6,144.8 278.7,145.1 279.7,145.5 280.7,145.8 281.8,146.2 282.8,146.5 283.9,146.9 284.9,147.2 285.9,147.5 287.0,147.8 288.0,148.2 289.0,148.5 290.1,148.8 291.1,149.1 292.2,149.4 293.2,149.7 294.2,150.0 295.3,150.3 296.3,150.6 297.4,150.9 298.4,151.2 299.5,151.4 300.5,151.7 301.5,152.0 302.6,152.3 303.6,152.5 304.7,152.8 305.7,153.1 306.8,153.4 307.8,153.6 308.9,153.9 309.9,154.2 311.0,154.4 312.0,154.7 313.1,154.9 314.1,155.2 315.2,155.5 316.2,155.7 317.3,156.0 318.3,156.2 319.4,156.5 320.5,156.8 321.5,157.0 322.6,157.3 323.6,157.5 324.7,157.8 325.7,158.1 326.8,158.3 327.9,158.6 328.9,158.9 330.0,159.1 331.0,159.4 332.1,159.7 333.2,159.9 334.2,160.2 335.3,160.5 336.4,160.8 337.4,161.1 338.5,161.3 339.6,161.6 340.6,161.9 341.7,162.2 342.8,162.5 343.9,162.8 344.9,163.1 346.0,163.4 347.1,163.7 348.1,164.1 349.2,164.4 350.3,164.7 351.4,165.0 352.4,165.3 353.5,165.7 354.6,166.0 355.6,166.3 356.7,166.7 357.8,167.0 358.9,167.4 359.9,167.7 361.0,168.1 362.1,168.4 363.1,168.8 364.2,169.2 365.2,169.5 366.3,169.9 367.4,170.3 368.4,170.7 369.5,171.1 370.5,171.5 371.6,171.9 372.7,172.3 373.7,172.7 374.8,173.1 375.8,173.5 376.8,173.9 377.9,174.3 378.9,174.7 380.0,175.2 381.0,175.6 382.0,176.0 383.1,176.5 384.1,176.9 385.1,177.4 386.1,177.8 387.2,178.3 388.2,178.8 389.2,179.2 390.2,179.7 391.2,180.2 392.2,180.7 393.2,181.2 394.2,181.7 395.2,182.2 396.2,182.7 397.2,183.2 398.1,183.7 399.1,184.2 400.1,184.8 401.1,185.3 402.0,185.8 403.0,186.4 403.9,186.9 404.9,187.5 405.8,188.0 406.8,188.6 407.7,189.2 408.6,189.7 409.6,190.3 410.5,190.9 411.4,191.5 412.3,192.1 413.2,192.7 414.1,193.3 415.0,193.9 415.9,194.6 416.8,195.2 417.7,195.8 418.5,196.5 419.4,197.1 420.3,197.8 421.1,198.4 422.0,199.1 422.8,199.7 423.6,200.4 424.5,201.1 425.3,201.8 426.1,202.5 426.9,203.2 427.7,203.9 428.5,204.6 429.3,205.3 430.1,206.1 430.9,206.8 431.6,207.5 432.4,208.3 433.1,209.0 433.9,209.8 434.6,210.6 435.4,211.4 436.1,212.1 436.8,212.9 437.5,213.7 438.2,214.5 438.9,215.3 439.6,216.2 440.2,217.0 440.9,217.8 441.6,218.7 442.2,219.5 442.9,220.4 443.5,221.2 444.1,222.1 444.7,223.0 445.3,223.8 445.9,224.7 446.5,225.6 447.1,226.5 447.7,227.4 448.2,228.4 448.8,229.3 449.3,230.2 449.9,231.2 450.4,232.1 450.9,233.1 451.4,234.0 452.0,235.0 452.5,235.9 453.0,236.9 453.4,237.9 453.9,238.9 454.4,239.9 454.9,240.9 455.3,241.9 455.8,242.9 456.2,243.9 456.7,244.9 457.1,245.9 457.6,246.9 458.0,247.9 458.4,249.0 458.8,250.0 459.3,251.0 459.7,252.1 460.1,253.1 460.5,254.2 460.9,255.2 461.3,256.3 461.7,257.3 462.1,258.4 462.4,259.4 462.8,260.5 463.2,261.5 463.6,262.6 463.9,263.7 464.3,264.7 464.7,265.8 465.0,266.9 465.4,267.9 465.8,269.0 466.1,270.1 466.5,271.2 466.8,272.2 467.2,273.3 467.5,274.4 467.9,275.4 468.2,276.5 468.6,277.6 468.9,278.7 469.3,279.7 469.6,280.8 469.9,281.9 470.3,282.9 470.6,284.0 471.0,285.1 471.3,286.1 471.7,287.2 472.0,288.3 472.4,289.3 472.7,290.4 473.0,291.5 473.4,292.5 473.7,293.6 474.1,294.6 474.4,295.7 474.8,296.7 475.1,297.8 475.5,298.9 475.8,299.9 476.1,301.0 476.5,302.0 476.8,303.1 477.2,304.1 477.5,305.2 477.8,306.2 478.2,307.3 478.5,308.3 478.9,309.4 479.2,310.4 479.5,311.5 479.9,312.5 480.2,313.5 480.5,314.6 480.9,315.6 481.2,316.7 481.5,317.7 481.8,318.8 482.2,319.8 482.5,320.9 482.8,321.9 483.1,323.0 483.5,324.0 483.8,325.1 484.1,326.1 484.4,327.1 484.7,328.2 485.0,329.2 485.3,330.3 485.7,331.3 486.0,332.4 486.3,333.4 486.6,334.5 486.9,335.5 487.2,336.6 487.5,337.6 487.8,338.7 488.1,339.8 488.4,340.8 488.6,341.9 488.9,342.9 489.2,344.0 489.5,345.0 489.8,346.1 490.1,347.1 490.3,348.2 490.6,349.3 490.9,350.3 491.2,351.4 491.4,352.4 491.7,353.5 492.0,354.5 492.3,355.6 492.5,356.7 492.8,357.7 493.1,358.8 493.3,359.9 493.6,360.9 493.8,362.0 494.1,363.0 494.4,364.1 494.6,365.2 494.9,366.2 495.1,367.3 495.4,368.4 495.6,369.4 495.9,370.5 496.1,371.6 496.4,372.6 496.6,373.7 496.9,374.8 497.1,375.8 497.3,376.9 497.6,378.0 497.8,379.1 498.1,380.1 498.3,381.2 498.5,382.3 498.8,383.3 499.0,384.4 499.2,385.5 499.5,386.6 499.7,387.6 499.9,388.7 500.2,389.8 500.4,390.9 500.6,391.9 500.8,393.0 501.1,394.1 501.3,395.2 501.5,396.2 501.7,397.3 502.0,398.4 502.2,399.5 502.4,400.5 502.6,401.6 502.8,402.7 503.1,403.8 503.3,404.9 503.5,405.9 503.7,407.0 503.9,408.1 504.2,409.2 504.4,410.2 504.6,411.3 504.8,412.4 505.0,413.5 505.2,414.6 505.4,415.7 505.6,416.7 505.9,417.8 506.1,418.9 506.3,420.0 506.5,421.1 506.7,422.1 506.9,423.2 507.1,424.3 507.3,425.4 507.5,426.5 507.8,427.6 508.0,428.6 508.2,429.7 508.4,430.8 508.6,431.9 508.8,433.0 509.0,434.1 509.2,435.2 509.4,436.2 509.6,437.3 509.8,438.4 510.0,439.5 510.2,440.6 510.5,441.7 510.7,442.8 510.9,443.8 511.1,444.9 511.3,446.0 511.5,447.1 511.7,448.2 511.9,449.3 512.1,450.4 512.3,451.5 512.5,452.5 512.7,453.6 512.9,454.7 513.2,455.8 513.4,456.9 513.6,458.0 513.8,459.1 514.0,460.2 514.2,461.2 514.4,462.3 514.6,463.4 514.8,464.5 515.0,465.6 515.3,466.7 515.5,467.8 515.7,468.9 515.9,470.0 516.1,471.0 516.3,472.1 516.5,473.2 516.8,474.3 517.0,475.4 517.2,476.5 517.4,477.6 517.6,478.7 517.8,479.8 518.1,480.9 518.3,481.9 518.5,483.0 518.7,484.1 518.9,485.2 519.2,486.3 519.4,487.4 519.6,488.5 519.8,489.6 520.1,490.7 520.3,491.7 520.5,492.8 520.8,493.9 521.0,495.0 521.2,496.1 521.5,497.2 521.7,498.3 521.9,499.4 522.2,500.4 522.4,501.5 522.7,502.6 522.9,503.7 523.2,504.8 523.4,505.9 523.7,506.9 523.9,508.0 524.2,509.1 524.5,510.2 524.7,511.3 525.0,512.3 525.3,513.4 525.5,514.5 525.8,515.5 526.1,516.6 526.4,517.7 526.7,518.7 527.0,519.8 527.3,520.9 527.6,521.9 527.9,523.0 528.2,524.0 528.5,525.1 528.8,526.1 529.2,527.2 529.5,528.2 529.8,529.3 530.2,530.3 530.5,531.4 530.9,532.4 531.2,533.4 531.6,534.5 532.0,535.5 532.3,536.5 532.7,537.6 533.1,538.6 533.5,539.6 533.9,540.6 534.3,541.6 534.7,542.6 535.1,543.6 535.5,544.6 536.0,545.6 536.4,546.6 536.8,547.6 537.3,548.6 537.7,549.6 538.2,550.6 538.7,551.6 539.1,552.5 539.6,553.5 540.1,554.5 540.6,555.5 541.1,556.4 541.6,557.4 542.2,558.3 542.7,559.3 543.2,560.2 543.8,561.2 544.3,562.1 544.9,563.0 545.5,564.0 546.1,564.9 546.7,565.8 547.3,566.7 547.9,567.6 548.5,568.5 549.1,569.4 549.8,570.3 550.4,571.2 551.1,572.1 551.7,572.9 552.4,573.8 553.1,574.7 553.8,575.5 554.5,576.3 555.2,577.2 555.9,578.0 556.6,578.8 557.4,579.6 558.1,580.4 558.9,581.2 559.7,581.9 560.5,582.7 561.3,583.4 562.1,584.1 562.9,584.8 563.7,585.5 564.6,586.2 565.4,586.9 566.3,587.5 567.2,588.1 568.0,588.8 568.9,589.4 569.9,589.9 570.8,590.5 571.7,591.1 572.7,591.6 573.6,592.1 574.6,592.6 575.6,593.1 576.6,593.5 577.6,593.9 578.6,594.3 579.6,594.7 580.6,595.1 581.7,595.5 582.7,595.8 583.8,596.2 584.8,596.5 585.9,596.8 587.0,597.1 588.1,597.4 589.1,597.7 590.2,598.0 591.3,598.2 592.4,598.5 593.5,598.7 594.6,599.0 595.7,599.2 596.8,599.5 597.9,599.7 599.0,599.9 600.1,600.1 601.2,600.3 602.3,600.6 603.4,600.8 604.5,601.0 605.6,601.2 606.6,601.4 607.7,601.6 608.8,601.7 609.9,601.9 611.0,602.1 612.1,602.3 613.2,602.5 614.3,602.6 615.4,602.8 616.5,603.0 617.6,603.1 618.7,603.3 619.8,603.4 620.9,603.6 622.0,603.7 623.1,603.9 624.2,604.0 625.3,604.1 626.4,604.3 627.5,604.4 628.6,604.5 629.7,604.7 630.7,604.8 631.8,604.9 632.9,605.0 634.0,605.1 635.1,605.3 636.2,605.4 637.3,605.5 638.4,605.6 639.5,605.7 640.6,605.8 641.7,605.9 642.8,606.0 643.9,606.1 645.0,606.2 646.1,606.2 647.2,606.3 648.3,606.4 649.4,606.5 650.5,606.6 651.6,606.7 652.7,606.7 653.8,606.8 654.9,606.9 656.0,607.0 657.1,607.0 658.1,607.1 659.2,607.2 660.3,607.2 661.4,607.3 662.5,607.4 663.6,607.4 664.7,607.5 665.8,607.5 666.9,607.6 668.0,607.7 669.1,607.7 670.2,607.8 671.3,607.8 672.4,607.9 673.5,607.9 674.6,608.0 675.7,608.0 676.8,608.1 677.9,608.1 679.0,608.2 680.1,608.2 681.2,608.3 682.3,608.3 683.4,608.4 684.5,608.4 685.6,608.5 686.7,608.5 687.8,608.5 688.9,608.6 690.0,608.6 691.1,608.7 692.2,608.7 693.3,608.8 694.4,608.8 695.5,608.8 696.6,608.9 697.7,608.9 698.8,608.9 699.9,609.0 701.0,609.0 702.1,609.1 703.2,609.1 704.3,609.1 705.4,609.2 706.5,609.2 707.6,609.2 708.7,609.3 709.8,609.3 710.9,609.3 712.0,609.4 713.1,609.4 714.2,609.4 715.3,609.5 716.4,609.5 717.5,609.5 718.6,609.5 719.8,609.6 720.9,609.6 722.0,609.6 723.1,609.7 724.2,609.7 725.3,609.7 726.4,609.7 727.5,609.8 728.6,609.8 729.7,609.8 730.8,609.8 731.9,609.9 733.0,609.9 734.1,609.9 735.2,610.0 736.3,610.0 737.4,610.0 738.5,610.0 739.6,610.1 740.7,610.1 741.8,610.1 742.9,610.1 744.0,610.2 745.1,610.2 746.2,610.2 747.3,610.2 748.4,610.3 749.5,610.3 750.6,610.3 751.7,610.3 752.8,610.4 753.9,610.4 755.0,610.4 756.1,610.4 757.2,610.5 758.3,610.5 759.4,610.5 760.5,610.5 761.7,610.6 762.8,610.6 763.9,610.6 765.0,610.6 766.1,610.7 767.2,610.7 768.3,610.7 769.4,610.7 770.5,610.8 771.6,610.8 772.7,610.8 773.8,610.8 774.9,610.9 776.0,610.9 777.1,610.9 778.2,610.9 779.3,611.0 780.4,611.0 781.5,611.0 782.6,611.0 783.7,611.1 784.8,611.1 785.9,611.1 787.0,611.1 788.1,611.2 789.2,611.2 790.3,611.2 791.4,611.2 792.5,611.3 793.6,611.3 794.7,611.3 795.8,611.3 796.9,611.3 798.0,611.4 799.1,611.4 800.2,611.4 801.3,611.4 802.4,611.5 803.5,611.5 804.6,611.5 805.7,611.5 806.8,611.6 807.9,611.6 809.0,611.6 810.1,611.6 811.2,611.7 812.3,611.7 813.4,611.7 814.5,611.7 815.6,611.8 816.7,611.8 817.8,611.8 818.9,611.8 820.0,611.9 821.1,611.9 822.3,611.9 823.4,611.9 824.5,612.0 825.6,612.0 826.7,612.0 827.8,612.0 828.9,612.0 830.0,612.1 831.1,612.1 832.2,612.1 833.3,612.1 834.4,612.2 835.5,612.2 836.6,612.2 837.7,612.2 838.8,612.2 839.9,612.3 841.0,612.3 842.1,612.3 843.2,612.3 844.3,612.4 845.4,612.4 846.5,612.4 847.6,612.4 848.7,612.5 849.8,612.5 850.9,612.5 852.0,612.5 853.1,612.5 854.2,612.6 855.3,612.6 856.4,612.6 857.5,612.6 858.6,612.6 859.7,612.7 860.8,612.7 861.9,612.7 863.0,612.7 864.1,612.8 865.2,612.8 866.3,612.8 867.4,612.8 868.5,612.8 869.6,612.9 870.7,612.9 871.8,612.9 872.9,612.9 874.0,612.9 875.1,613.0 876.2,613.0 877.3,613.0 878.4,613.0 879.5,613.0 880.6,613.1 881.7,613.1 882.9,613.1 884.0,613.1 885.1,613.1 886.2,613.1 887.3,613.2 888.4,613.2 889.5,613.2 890.6,613.2 891.7,613.2 892.8,613.3 893.9,613.3 895.0,613.3 896.1,613.3 897.2,613.3 898.3,613.3 899.4,613.4 900.5,613.4 901.6,613.4 902.7,613.4 903.8,613.4 904.9,613.4 906.0,613.5" stroke="#9A6CB4" stroke-width="2.3" fill="none" stroke-linejoin="round" stroke-linecap="round" clip-path="url(#ca)"/>
<path d="M82.5,104.5 82.6,104.3 82.8,104.1 82.9,103.8 83.1,103.5 83.3,103.1 83.5,102.8 83.8,102.4 84.0,102.0 84.2,101.6 84.5,101.2 84.8,100.8 85.0,100.3 85.3,99.9 85.6,99.6 85.9,99.2 86.2,98.9 86.5,98.6 86.8,98.3 87.2,98.1 87.5,97.9 87.8,97.8 88.2,97.7 88.5,97.6 88.9,97.5 89.3,97.5 89.7,97.5 90.1,97.5 90.5,97.5 90.9,97.5 91.3,97.6 91.8,97.7 92.2,97.7 92.6,97.8 93.0,97.9 93.5,98.0 93.9,98.1 94.3,98.2 94.7,98.3 95.1,98.4 95.5,98.5 95.8,98.6 96.1,98.7 96.4,98.8 96.6,98.9 96.9,99.1 97.2,99.2 97.4,99.4 97.7,99.6 98.0,99.7 98.2,99.9 98.5,100.1 98.8,100.3 99.0,100.4 99.3,100.6 99.6,100.7 99.9,100.8 100.1,101.0 100.4,101.1 100.7,101.1 101.0,101.2 102.0,101.3 102.9,101.5 104.0,101.6 105.0,101.7 106.1,101.8 107.2,101.8 108.3,101.9 109.4,101.9 110.5,102.0 111.6,102.0 112.7,102.1 113.7,102.1 114.7,102.1 115.7,102.2 116.6,102.2 117.4,102.2 118.2,102.2 118.9,102.3 119.5,102.3 120.0,102.3 121.1,102.4 122.2,102.5 123.3,102.6 124.4,102.7 125.5,102.8 126.6,102.9 127.7,102.9 128.8,103.0 129.9,103.1 131.0,103.1 132.1,103.2 133.2,103.3 134.3,103.3 135.4,103.4 136.5,103.4 137.6,103.5 138.7,103.5 139.8,103.6 140.9,103.6 142.0,103.6 143.1,103.7 144.2,103.7 145.3,103.8 146.4,103.8 147.5,103.8 148.6,103.9 149.7,103.9 150.9,103.9 152.0,104.0 153.1,104.0 154.2,104.1 155.3,104.1 156.4,104.1 157.5,104.2 158.6,104.2 159.7,104.3 160.8,104.3 161.9,104.4 163.0,104.4 164.1,104.5 165.2,104.5 166.4,104.6 167.5,104.7 168.6,104.7 169.7,104.8 170.8,104.9 171.9,105.0 173.0,105.0 174.1,105.1 175.2,105.2 176.3,105.3 177.4,105.4 178.5,105.5 179.5,105.6 180.6,105.8 181.7,105.9 182.8,106.0 183.9,106.2 185.0,106.3 186.1,106.5 187.2,106.6 188.3,106.8 189.3,107.0 190.4,107.1 191.5,107.3 192.6,107.5 193.7,107.7 194.7,107.9 195.8,108.1 196.9,108.3 198.0,108.5 199.0,108.8 200.1,109.0 201.2,109.2 202.2,109.5 203.3,109.7 204.4,110.0 205.4,110.2 206.5,110.5 207.6,110.8 208.6,111.0 209.7,111.3 210.7,111.6 211.8,111.9 212.8,112.2 213.9,112.5 214.9,112.8 216.0,113.1 217.0,113.5 218.1,113.8 219.1,114.1 220.1,114.5 221.2,114.8 222.2,115.2 223.2,115.6 224.3,115.9 225.3,116.3 226.3,116.7 227.4,117.1 228.4,117.4 229.4,117.8 230.4,118.2 231.4,118.7 232.5,119.1 233.5,119.5 234.5,119.9 235.5,120.4 236.5,120.8 237.5,121.2 238.5,121.7 239.5,122.1 240.5,122.6 241.5,123.1 242.5,123.5 243.5,124.0 244.5,124.5 245.5,125.0 246.5,125.5 247.5,125.9 248.5,126.4 249.5,126.9 250.4,127.4 251.4,127.9 252.4,128.4 253.4,128.9 254.4,129.5 255.4,130.0 256.3,130.5 257.3,131.0 258.3,131.5 259.3,132.0 260.3,132.6 261.2,133.1 262.2,133.6 263.2,134.1 264.2,134.6 265.2,135.2 266.1,135.7 267.1,136.2 268.1,136.7 269.1,137.3 270.0,137.8 271.0,138.3 272.0,138.8 273.0,139.4 274.0,139.9 274.9,140.4 275.9,140.9 276.9,141.4 277.9,142.0 278.9,142.5 279.8,143.0 280.8,143.5 281.8,144.0 282.8,144.5 283.8,145.0 284.8,145.5 285.7,146.0 286.7,146.5 287.7,147.0 288.7,147.4 289.7,147.9 290.7,148.4 291.7,148.9 292.7,149.3 293.7,149.8 294.7,150.2 295.7,150.7 296.7,151.1 297.7,151.6 298.7,152.0 299.7,152.4 300.7,152.9 301.7,153.3 302.8,153.7 303.8,154.1 304.8,154.5 305.8,154.9 306.8,155.3 307.9,155.7 308.9,156.1 309.9,156.4 310.9,156.8 312.0,157.2 313.0,157.5 314.0,157.9 315.1,158.3 316.1,158.6 317.1,159.0 318.2,159.3 319.2,159.7 320.2,160.0 321.3,160.4 322.3,160.7 323.3,161.1 324.4,161.4 325.4,161.7 326.5,162.1 327.5,162.4 328.5,162.8 329.6,163.1 330.6,163.5 331.7,163.8 332.7,164.1 333.8,164.5 334.8,164.8 335.8,165.2 336.9,165.5 337.9,165.9 339.0,166.2 340.0,166.6 341.0,166.9 342.1,167.3 343.1,167.6 344.2,168.0 345.2,168.4 346.2,168.7 347.3,169.1 348.3,169.5 349.3,169.9 350.4,170.3 351.4,170.6 352.4,171.0 353.5,171.4 354.5,171.8 355.5,172.3 356.6,172.7 357.6,173.1 358.6,173.5 359.6,173.9 360.7,174.4 361.7,174.8 362.7,175.2 363.7,175.7 364.7,176.1 365.7,176.6 366.8,177.0 367.8,177.5 368.8,178.0 369.8,178.4 370.8,178.9 371.8,179.4 372.8,179.9 373.8,180.4 374.8,180.8 375.8,181.3 376.8,181.8 377.8,182.3 378.7,182.9 379.7,183.4 380.7,183.9 381.7,184.4 382.7,184.9 383.6,185.5 384.6,186.0 385.6,186.6 386.5,187.1 387.5,187.7 388.5,188.2 389.4,188.8 390.4,189.3 391.3,189.9 392.3,190.5 393.2,191.1 394.2,191.6 395.1,192.2 396.0,192.8 397.0,193.4 397.9,194.0 398.8,194.6 399.8,195.2 400.7,195.8 401.6,196.5 402.5,197.1 403.4,197.7 404.3,198.4 405.2,199.0 406.1,199.6 407.0,200.3 407.9,200.9 408.8,201.6 409.7,202.2 410.5,202.9 411.4,203.6 412.3,204.3 413.1,204.9 414.0,205.6 414.9,206.3 415.7,207.0 416.6,207.7 417.4,208.4 418.2,209.1 419.1,209.8 419.9,210.5 420.7,211.3 421.5,212.0 422.4,212.7 423.2,213.5 424.0,214.2 424.8,214.9 425.6,215.7 426.4,216.5 427.1,217.2 427.9,218.0 428.7,218.7 429.5,219.5 430.2,220.3 431.0,221.1 431.7,221.9 432.5,222.7 433.2,223.5 434.0,224.3 434.7,225.1 435.4,225.9 436.2,226.7 436.9,227.5 437.6,228.4 438.3,229.2 439.0,230.0 439.7,230.9 440.4,231.7 441.0,232.6 441.7,233.4 442.4,234.3 443.0,235.1 443.7,236.0 444.3,236.9 445.0,237.8 445.6,238.6 446.3,239.5 446.9,240.4 447.5,241.3 448.1,242.2 448.7,243.1 449.3,244.1 449.9,245.0 450.5,245.9 451.1,246.8 451.6,247.8 452.2,248.7 452.7,249.6 453.3,250.6 453.8,251.5 454.4,252.5 454.9,253.5 455.4,254.4 455.9,255.4 456.5,256.4 457.0,257.3 457.5,258.3 458.0,259.3 458.4,260.3 458.9,261.3 459.4,262.3 459.9,263.3 460.4,264.3 460.8,265.3 461.3,266.3 461.7,267.3 462.2,268.3 462.6,269.3 463.1,270.3 463.5,271.4 464.0,272.4 464.4,273.4 464.8,274.4 465.3,275.5 465.7,276.5 466.1,277.5 466.5,278.5 466.9,279.6 467.3,280.6 467.8,281.6 468.2,282.7 468.6,283.7 469.0,284.8 469.4,285.8 469.8,286.8 470.2,287.9 470.6,288.9 471.0,289.9 471.4,291.0 471.8,292.0 472.2,293.1 472.6,294.1 473.0,295.1 473.3,296.2 473.7,297.2 474.1,298.2 474.5,299.3 474.9,300.3 475.3,301.4 475.7,302.4 476.1,303.4 476.5,304.5 476.8,305.5 477.2,306.5 477.6,307.6 478.0,308.6 478.4,309.6 478.8,310.7 479.1,311.7 479.5,312.7 479.9,313.8 480.2,314.8 480.6,315.8 481.0,316.9 481.4,317.9 481.7,318.9 482.1,320.0 482.4,321.0 482.8,322.1 483.2,323.1 483.5,324.1 483.9,325.2 484.2,326.2 484.6,327.2 484.9,328.3 485.3,329.3 485.6,330.4 485.9,331.4 486.3,332.5 486.6,333.5 486.9,334.5 487.3,335.6 487.6,336.6 487.9,337.7 488.2,338.7 488.5,339.8 488.9,340.8 489.2,341.9 489.5,342.9 489.8,344.0 490.1,345.0 490.4,346.1 490.7,347.2 491.0,348.2 491.3,349.3 491.6,350.3 491.9,351.4 492.2,352.4 492.4,353.5 492.7,354.6 493.0,355.6 493.3,356.7 493.6,357.7 493.8,358.8 494.1,359.9 494.4,360.9 494.6,362.0 494.9,363.1 495.2,364.1 495.4,365.2 495.7,366.3 496.0,367.3 496.2,368.4 496.5,369.5 496.7,370.5 497.0,371.6 497.2,372.7 497.5,373.8 497.7,374.8 498.0,375.9 498.2,377.0 498.5,378.0 498.7,379.1 498.9,380.2 499.2,381.3 499.4,382.3 499.7,383.4 499.9,384.5 500.1,385.6 500.4,386.6 500.6,387.7 500.8,388.8 501.1,389.9 501.3,391.0 501.5,392.0 501.7,393.1 502.0,394.2 502.2,395.3 502.4,396.3 502.6,397.4 502.8,398.5 503.1,399.6 503.3,400.7 503.5,401.7 503.7,402.8 503.9,403.9 504.1,405.0 504.4,406.1 504.6,407.2 504.8,408.2 505.0,409.3 505.2,410.4 505.4,411.5 505.6,412.6 505.8,413.6 506.0,414.7 506.3,415.8 506.5,416.9 506.7,418.0 506.9,419.1 507.1,420.1 507.3,421.2 507.5,422.3 507.7,423.4 507.9,424.5 508.1,425.6 508.3,426.6 508.5,427.7 508.7,428.8 508.9,429.9 509.2,431.0 509.4,432.1 509.6,433.1 509.8,434.2 510.0,435.3 510.2,436.4 510.4,437.5 510.6,438.6 510.8,439.6 511.0,440.7 511.2,441.8 511.4,442.9 511.6,444.0 511.8,445.0 512.0,446.1 512.2,447.2 512.5,448.3 512.7,449.4 512.9,450.4 513.1,451.5 513.3,452.6 513.5,453.7 513.7,454.8 513.9,455.8 514.1,456.9 514.4,458.0 514.6,459.1 514.8,460.2 515.0,461.2 515.2,462.3 515.4,463.4 515.7,464.5 515.9,465.5 516.1,466.6 516.3,467.7 516.6,468.8 516.8,469.8 517.0,470.9 517.2,472.0 517.5,473.1 517.7,474.1 517.9,475.2 518.1,476.3 518.4,477.3 518.6,478.4 518.8,479.5 519.1,480.6 519.3,481.6 519.6,482.7 519.8,483.8 520.0,484.8 520.3,485.9 520.5,487.0 520.8,488.0 521.0,489.1 521.3,490.2 521.5,491.2 521.8,492.3 522.0,493.4 522.3,494.4 522.5,495.5 522.8,496.5 523.1,497.6 523.3,498.7 523.6,499.7 523.9,500.8 524.1,501.9 524.4,502.9 524.7,504.0 524.9,505.0 525.2,506.1 525.5,507.2 525.8,508.2 526.1,509.3 526.4,510.4 526.6,511.4 526.9,512.5 527.2,513.6 527.5,514.6 527.8,515.7 528.1,516.8 528.4,517.9 528.7,518.9 529.0,520.0 529.3,521.1 529.7,522.2 530.0,523.2 530.3,524.3 530.6,525.4 530.9,526.5 531.3,527.6 531.6,528.7 531.9,529.7 532.3,530.8 532.6,531.9 532.9,533.0 533.3,534.1 533.6,535.2 534.0,536.3 534.3,537.4 534.7,538.5 535.1,539.6 535.4,540.7 535.8,541.8 536.2,542.9 536.6,544.0 536.9,545.1 537.3,546.2 537.7,547.3 538.2,548.3 538.6,549.4 539.0,550.5 539.4,551.6 539.9,552.6 540.3,553.7 540.8,554.7 541.2,555.7 541.7,556.8 542.2,557.8 542.7,558.8 543.2,559.8 543.7,560.8 544.2,561.8 544.8,562.7 545.3,563.7 545.9,564.6 546.5,565.5 547.1,566.4 547.7,567.3 548.3,568.2 548.9,569.1 549.6,569.9 550.2,570.7 550.9,571.6 551.6,572.4 552.3,573.1 553.0,573.9 553.7,574.7 554.4,575.4 555.2,576.1 555.9,576.8 556.7,577.5 557.5,578.2 558.3,578.9 559.1,579.6 559.9,580.2 560.7,580.8 561.6,581.5 562.4,582.1 563.3,582.7 564.1,583.3 565.0,583.8 565.9,584.4 566.8,584.9 567.7,585.5 568.6,586.0 569.5,586.5 570.4,587.0 571.4,587.5 572.3,588.0 573.3,588.5 574.2,588.9 575.2,589.4 576.2,589.8 577.2,590.2 578.1,590.7 579.1,591.1 580.1,591.5 581.1,591.9 582.2,592.3 583.2,592.6 584.2,593.0 585.2,593.4 586.2,593.7 587.3,594.1 588.3,594.4 589.4,594.7 590.4,595.1 591.5,595.4 592.5,595.7 593.6,596.0 594.7,596.3 595.7,596.6 596.8,596.8 597.9,597.1 599.0,597.4 600.0,597.6 601.1,597.9 602.2,598.2 603.3,598.4 604.4,598.6 605.5,598.9 606.5,599.1 607.6,599.3 608.7,599.6 609.8,599.8 610.9,600.0 612.0,600.2 613.1,600.4 614.2,600.6 615.3,600.8 616.4,601.0 617.5,601.2 618.5,601.4 619.6,601.5 620.7,601.7 621.8,601.9 622.9,602.1 624.0,602.2 625.1,602.4 626.2,602.6 627.3,602.7 628.4,602.9 629.5,603.0 630.6,603.2 631.7,603.3 632.8,603.5 633.9,603.6 635.0,603.7 636.1,603.9 637.2,604.0 638.3,604.1 639.4,604.2 640.5,604.4 641.6,604.5 642.6,604.6 643.7,604.7 644.8,604.8 645.9,604.9 647.0,605.0 648.1,605.1 649.2,605.2 650.3,605.3 651.4,605.4 652.5,605.5 653.6,605.5 654.7,605.6 655.8,605.7 656.9,605.8 658.0,605.9 659.1,605.9 660.2,606.0 661.3,606.1 662.4,606.1 663.5,606.2 664.6,606.3 665.8,606.3 666.9,606.4 668.0,606.4 669.1,606.5 670.2,606.5 671.3,606.6 672.4,606.6 673.5,606.7 674.6,606.7 675.7,606.8 676.8,606.8 677.9,606.9 679.0,606.9 680.1,606.9 681.2,607.0 682.3,607.0 683.4,607.0 684.5,607.1 685.6,607.1 686.7,607.1 687.8,607.1 688.9,607.2 690.0,607.2 691.1,607.2 692.2,607.2 693.3,607.3 694.4,607.3 695.5,607.3 696.6,607.3 697.7,607.3 698.8,607.3 700.0,607.4 701.1,607.4 702.2,607.4 703.3,607.4 704.4,607.4 705.5,607.4 706.6,607.4 707.7,607.4 708.8,607.4 709.9,607.5 711.0,607.5 712.1,607.5 713.2,607.5 714.3,607.5 715.4,607.5 716.5,607.5 717.6,607.5 718.7,607.5 719.8,607.5 720.9,607.5 722.0,607.5 723.1,607.5 724.2,607.5 725.4,607.5 726.5,607.5 727.6,607.5 728.7,607.5 729.8,607.6 730.9,607.6 732.0,607.6 733.1,607.6 734.2,607.6 735.3,607.6 736.4,607.6 737.5,607.6 738.6,607.6 739.7,607.6 740.8,607.6 741.9,607.6 743.0,607.7 744.1,607.7 745.2,607.7 746.3,607.7 747.4,607.7 748.5,607.7 749.6,607.7 750.7,607.7 751.8,607.8 752.9,607.8 754.0,607.8 755.1,607.8 756.2,607.8 757.3,607.9 758.4,607.9 759.5,607.9 760.6,607.9 761.7,608.0 762.8,608.0 764.0,608.0 765.1,608.0 766.2,608.1 767.3,608.1 768.4,608.1 769.5,608.2 770.6,608.2 771.7,608.2 772.8,608.3 773.9,608.3 775.0,608.3 776.1,608.4 777.2,608.4 778.3,608.4 779.4,608.5 780.5,608.5 781.6,608.5 782.7,608.6 783.8,608.6 784.9,608.6 786.0,608.7 787.1,608.7 788.2,608.8 789.3,608.8 790.4,608.8 791.5,608.9 792.6,608.9 793.7,609.0 794.8,609.0 795.9,609.0 797.0,609.1 798.1,609.1 799.2,609.2 800.3,609.2 801.4,609.3 802.5,609.3 803.6,609.3 804.7,609.4 805.8,609.4 806.9,609.5 808.0,609.5 809.1,609.6 810.2,609.6 811.3,609.6 812.4,609.7 813.5,609.7 814.5,609.8 815.6,609.8 816.7,609.9 817.8,609.9 818.9,609.9 820.0,610.0 821.1,610.0 822.2,610.1 823.3,610.1 824.4,610.2 825.5,610.2 826.6,610.2 827.7,610.3 828.8,610.3 829.9,610.4 831.0,610.4 832.1,610.4 833.2,610.5 834.3,610.5 835.4,610.6 836.5,610.6 837.6,610.6 838.7,610.7 839.8,610.7 840.9,610.7 842.0,610.8 843.1,610.8 844.2,610.9 845.3,610.9 846.5,610.9 847.6,611.0 848.7,611.0 849.8,611.0 850.9,611.0 852.0,611.1 853.1,611.1 854.2,611.1 855.3,611.2 856.4,611.2 857.5,611.2 858.6,611.3 859.7,611.3 860.8,611.3 861.9,611.3 863.0,611.4 864.1,611.4 865.2,611.4 866.3,611.4 867.4,611.4 868.5,611.5 869.6,611.5 870.7,611.5 871.8,611.5 872.9,611.5 874.0,611.5 875.1,611.6 876.2,611.6 877.3,611.6 878.4,611.6 879.5,611.6 880.6,611.6 881.7,611.6 882.8,611.6 883.9,611.6 885.0,611.6 886.1,611.6 887.2,611.6 888.4,611.6 889.5,611.6 890.6,611.6 891.7,611.6 892.8,611.6 893.9,611.6 895.0,611.6 896.1,611.6 897.2,611.6 898.3,611.6 899.4,611.6 900.5,611.6 901.6,611.6 902.7,611.5 903.8,611.5 905.0,611.5 906.1,611.5" stroke="#C39416" stroke-width="2.3" fill="none" stroke-linejoin="round" stroke-linecap="round" clip-path="url(#ca)"/>
</g>
<g id="curvesB">
<path d="M1102.0,106.0 1102.3,105.8 1102.7,105.6 1103.2,105.4 1103.7,105.1 1104.2,104.8 1104.8,104.4 1105.4,104.1 1106.1,103.7 1106.8,103.3 1107.5,103.0 1108.2,102.6 1108.9,102.2 1109.6,101.8 1110.4,101.5 1111.1,101.1 1111.9,100.8 1112.6,100.5 1113.3,100.2 1114.0,100.0 1114.7,99.8 1115.4,99.6 1116.2,99.5 1117.0,99.3 1117.8,99.2 1118.6,99.1 1119.5,99.1 1120.3,99.0 1121.2,98.9 1122.0,98.9 1122.9,98.9 1123.7,98.8 1124.5,98.8 1125.2,98.8 1126.0,98.8 1126.7,98.8 1127.3,98.8 1127.9,98.8 1128.5,98.7 1128.9,98.7 1129.3,98.7 1130.4,98.6 1131.5,98.5 1132.5,98.4 1133.6,98.3 1134.7,98.2 1135.8,98.1 1136.8,98.0 1137.9,97.9 1139.0,97.9 1140.1,97.8 1141.2,97.7 1142.4,97.7 1143.5,97.7 1144.6,97.6 1145.7,97.6 1146.8,97.6 1147.9,97.6 1149.1,97.6 1150.2,97.6 1151.3,97.6 1152.4,97.6 1153.6,97.7 1154.7,97.7 1155.8,97.8 1157.0,97.9 1158.1,97.9 1159.2,98.0 1160.4,98.1 1161.5,98.2 1162.6,98.3 1163.7,98.5 1164.8,98.6 1166.0,98.8 1167.1,98.9 1168.2,99.1 1169.3,99.3 1170.4,99.5 1171.5,99.7 1172.6,99.9 1173.7,100.1 1174.8,100.4 1175.9,100.7 1176.9,100.9 1178.0,101.2 1179.1,101.5 1180.1,101.8 1181.2,102.2 1182.2,102.5 1183.3,102.9 1184.3,103.2 1185.3,103.6 1186.3,104.0 1187.3,104.4 1188.3,104.9 1189.3,105.3 1190.3,105.8 1191.2,106.3 1192.2,106.7 1193.1,107.3 1194.1,107.8 1195.0,108.3 1195.9,108.9 1196.8,109.4 1197.7,110.0 1198.6,110.6 1199.5,111.2 1200.4,111.9 1201.2,112.5 1202.1,113.2 1202.9,113.8 1203.8,114.5 1204.6,115.2 1205.4,115.9 1206.3,116.6 1207.1,117.3 1207.9,118.0 1208.7,118.7 1209.5,119.5 1210.3,120.2 1211.1,121.0 1211.9,121.7 1212.7,122.5 1213.4,123.3 1214.2,124.1 1215.0,124.8 1215.8,125.6 1216.5,126.4 1217.3,127.2 1218.1,128.0 1218.8,128.8 1219.6,129.6 1220.3,130.4 1221.1,131.2 1221.9,132.1 1222.6,132.9 1223.4,133.7 1224.2,134.5 1224.9,135.3 1225.7,136.1 1226.4,136.9 1227.2,137.7 1228.0,138.5 1228.8,139.3 1229.5,140.1 1230.3,140.9 1231.1,141.7 1231.9,142.5 1232.7,143.3 1233.5,144.1 1234.3,144.9 1235.1,145.6 1235.9,146.4 1236.7,147.1 1237.5,147.9 1238.3,148.6 1239.2,149.3 1240.0,150.1 1240.8,150.8 1241.7,151.5 1242.6,152.2 1243.4,152.9 1244.3,153.5 1245.2,154.2 1246.1,154.8 1247.0,155.5 1247.9,156.1 1248.8,156.7 1249.7,157.3 1250.7,157.8 1251.6,158.4 1252.5,158.9 1253.5,159.3 1254.5,159.8 1255.4,160.2 1256.4,160.5 1257.3,160.9 1258.3,161.1 1259.3,161.4 1260.3,161.6 1261.3,161.7 1262.2,161.8 1263.2,161.8 1264.2,161.8 1265.2,161.7 1266.2,161.5 1267.2,161.3 1268.2,161.0 1269.1,160.6 1270.1,160.2 1271.1,159.7 1272.1,159.1 1273.1,158.4 1274.0,157.7 1275.0,156.9 1275.9,156.1 1276.8,155.3 1277.8,154.4 1278.6,153.5 1279.5,152.6 1280.3,151.6 1281.2,150.7 1281.9,149.7 1282.7,148.8 1283.4,147.9 1284.2,146.9 1284.8,146.0 1285.5,145.1 1286.2,144.1 1286.8,143.2 1287.4,142.3 1288.0,141.4 1288.7,140.5 1289.3,139.6 1289.9,138.7 1290.4,137.8 1291.0,136.9 1291.6,136.1 1292.2,135.2 1292.8,134.4 1293.4,133.5 1294.0,132.7 1294.7,131.8 1295.3,131.0 1296.0,130.2 1296.6,129.4 1297.3,128.6 1298.0,127.8 1298.8,127.1 1299.5,126.3 1300.3,125.6 1301.1,124.9 1302.0,124.1 1302.8,123.5 1303.7,122.8 1304.6,122.1 1305.5,121.5 1306.4,120.8 1307.3,120.2 1308.3,119.7 1309.3,119.1 1310.2,118.6 1311.2,118.1 1312.3,117.6 1313.3,117.1 1314.3,116.7 1315.4,116.3 1316.4,115.9 1317.5,115.5 1318.5,115.2 1319.6,114.9 1320.7,114.7 1321.8,114.5 1322.9,114.3 1324.0,114.1 1325.1,114.0 1326.2,113.9 1327.3,113.9 1328.4,113.9 1329.5,113.9 1330.6,114.0 1331.7,114.1 1332.8,114.2 1333.9,114.4 1335.0,114.5 1336.1,114.7 1337.2,114.9 1338.3,115.1 1339.4,115.4 1340.5,115.6 1341.7,115.9 1342.8,116.1 1343.9,116.4 1345.0,116.6 1346.1,116.9 1347.2,117.1 1348.3,117.3 1349.3,117.6 1350.4,117.8 1351.5,118.0 1352.6,118.1 1353.7,118.3 1354.8,118.4 1355.9,118.5 1357.0,118.6 1358.1,118.6 1359.1,118.6 1360.2,118.6 1361.3,118.6 1362.4,118.5 1363.4,118.4 1364.5,118.3 1365.6,118.1 1366.6,118.0 1367.7,117.8 1368.8,117.6 1369.8,117.4 1370.9,117.1 1372.0,116.9 1373.0,116.6 1374.1,116.3 1375.1,116.1 1376.2,115.8 1377.3,115.5 1378.3,115.2 1379.4,114.9 1380.4,114.6 1381.5,114.3 1382.5,113.9 1383.6,113.6 1384.7,113.3 1385.7,113.0 1386.8,112.7 1387.8,112.5 1388.9,112.2 1390.0,111.9 1391.0,111.7 1392.1,111.4 1393.1,111.2 1394.2,111.0 1395.3,110.8 1396.3,110.7 1397.4,110.6 1398.4,110.5 1399.5,110.4 1400.6,110.4 1401.6,110.4 1402.7,110.4 1403.8,110.5 1404.8,110.6 1405.9,110.7 1406.9,110.9 1408.0,111.1 1409.1,111.3 1410.1,111.6 1411.2,111.9 1412.2,112.3 1413.3,112.7 1414.3,113.1 1415.3,113.5 1416.4,113.9 1417.4,114.4 1418.4,114.9 1419.4,115.5 1420.4,116.0 1421.4,116.6 1422.4,117.2 1423.3,117.8 1424.3,118.5 1425.3,119.1 1426.2,119.8 1427.1,120.5 1428.0,121.2 1428.9,122.0 1429.8,122.7 1430.7,123.5 1431.6,124.2 1432.4,125.0 1433.3,125.8 1434.1,126.6 1434.9,127.4 1435.7,128.3 1436.4,129.1 1437.2,129.9 1437.9,130.8 1438.6,131.6 1439.3,132.5 1440.0,133.4 1440.7,134.3 1441.3,135.1 1442.0,136.0 1442.6,136.9 1443.2,137.8 1443.8,138.7 1444.4,139.7 1445.0,140.6 1445.6,141.5 1446.1,142.4 1446.7,143.4 1447.2,144.3 1447.7,145.3 1448.2,146.2 1448.7,147.2 1449.2,148.2 1449.7,149.1 1450.1,150.1 1450.6,151.1 1451.0,152.1 1451.5,153.1 1451.9,154.1 1452.3,155.1 1452.7,156.1 1453.1,157.1 1453.5,158.1 1453.9,159.1 1454.3,160.1 1454.7,161.2 1455.1,162.2 1455.4,163.2 1455.8,164.2 1456.1,165.3 1456.5,166.3 1456.8,167.3 1457.2,168.4 1457.5,169.4 1457.8,170.5 1458.2,171.5 1458.5,172.6 1458.8,173.6 1459.1,174.7 1459.4,175.7 1459.8,176.8 1460.1,177.8 1460.4,178.9 1460.7,179.9 1461.0,181.0 1461.3,182.0 1461.6,183.1 1461.9,184.2 1462.2,185.2 1462.5,186.3 1462.8,187.3 1463.1,188.4 1463.4,189.4 1463.7,190.5 1464.0,191.6 1464.3,192.6 1464.6,193.7 1464.9,194.7 1465.3,195.8 1465.6,196.9 1465.9,197.9 1466.2,199.0 1466.5,200.0 1466.8,201.1 1467.1,202.2 1467.3,203.2 1467.6,204.3 1467.9,205.3 1468.2,206.4 1468.5,207.5 1468.8,208.5 1469.1,209.6 1469.4,210.6 1469.7,211.7 1470.0,212.8 1470.3,213.8 1470.6,214.9 1470.9,216.0 1471.2,217.0 1471.5,218.1 1471.8,219.2 1472.1,220.2 1472.3,221.3 1472.6,222.3 1472.9,223.4 1473.2,224.5 1473.5,225.5 1473.8,226.6 1474.1,227.7 1474.4,228.7 1474.6,229.8 1474.9,230.9 1475.2,231.9 1475.5,233.0 1475.8,234.1 1476.0,235.1 1476.3,236.2 1476.6,237.3 1476.9,238.3 1477.2,239.4 1477.4,240.5 1477.7,241.5 1478.0,242.6 1478.3,243.7 1478.5,244.8 1478.8,245.8 1479.1,246.9 1479.4,248.0 1479.6,249.0 1479.9,250.1 1480.2,251.2 1480.4,252.2 1480.7,253.3 1481.0,254.4 1481.2,255.4 1481.5,256.5 1481.8,257.6 1482.0,258.7 1482.3,259.7 1482.6,260.8 1482.8,261.9 1483.1,263.0 1483.3,264.0 1483.6,265.1 1483.9,266.2 1484.1,267.2 1484.4,268.3 1484.6,269.4 1484.9,270.5 1485.1,271.5 1485.4,272.6 1485.6,273.7 1485.9,274.8 1486.1,275.8 1486.4,276.9 1486.6,278.0 1486.9,279.1 1487.1,280.1 1487.4,281.2 1487.6,282.3 1487.9,283.4 1488.1,284.4 1488.3,285.5 1488.6,286.6 1488.8,287.7 1489.1,288.7 1489.3,289.8 1489.5,290.9 1489.8,292.0 1490.0,293.0 1490.2,294.1 1490.5,295.2 1490.7,296.3 1490.9,297.3 1491.2,298.4 1491.4,299.5 1491.6,300.6 1491.8,301.7 1492.1,302.7 1492.3,303.8 1492.5,304.9 1492.7,306.0 1492.9,307.0 1493.2,308.1 1493.4,309.2 1493.6,310.3 1493.8,311.4 1494.0,312.4 1494.2,313.5 1494.4,314.6 1494.7,315.7 1494.9,316.8 1495.1,317.8 1495.3,318.9 1495.5,320.0 1495.7,321.1 1495.9,322.2 1496.1,323.2 1496.3,324.3 1496.5,325.4 1496.7,326.5 1496.9,327.6 1497.1,328.7 1497.3,329.7 1497.5,330.8 1497.7,331.9 1497.9,333.0 1498.1,334.1 1498.3,335.1 1498.4,336.2 1498.6,337.3 1498.8,338.4 1499.0,339.5 1499.2,340.6 1499.4,341.6 1499.6,342.7 1499.7,343.8 1499.9,344.9 1500.1,346.0 1500.3,347.1 1500.5,348.1 1500.6,349.2 1500.8,350.3 1501.0,351.4 1501.2,352.5 1501.3,353.6 1501.5,354.7 1501.7,355.7 1501.9,356.8 1502.0,357.9 1502.2,359.0 1502.4,360.1 1502.5,361.2 1502.7,362.3 1502.9,363.3 1503.0,364.4 1503.2,365.5 1503.3,366.6 1503.5,367.7 1503.7,368.8 1503.8,369.9 1504.0,370.9 1504.1,372.0 1504.3,373.1 1504.5,374.2 1504.6,375.3 1504.8,376.4 1504.9,377.5 1505.1,378.6 1505.2,379.6 1505.4,380.7 1505.5,381.8 1505.7,382.9 1505.8,384.0 1505.9,385.1 1506.1,386.2 1506.2,387.3 1506.4,388.4 1506.5,389.4 1506.7,390.5 1506.8,391.6 1506.9,392.7 1507.1,393.8 1507.2,394.9 1507.3,396.0 1507.5,397.1 1507.6,398.2 1507.7,399.3 1507.9,400.4 1508.0,401.4 1508.1,402.5 1508.3,403.6 1508.4,404.7 1508.5,405.8 1508.6,406.9 1508.8,408.0 1508.9,409.1 1509.0,410.2 1509.1,411.3 1509.3,412.4 1509.4,413.5 1509.5,414.6 1509.6,415.6 1509.7,416.7 1509.9,417.8 1510.0,418.9 1510.1,420.0 1510.2,421.1 1510.3,422.2 1510.4,423.3 1510.5,424.4 1510.7,425.5 1510.8,426.6 1510.9,427.7 1511.0,428.8 1511.1,429.9 1511.2,431.0 1511.3,432.1 1511.4,433.2 1511.5,434.2 1511.6,435.3 1511.7,436.4 1511.8,437.5 1511.9,438.6 1512.0,439.7 1512.1,440.8 1512.2,441.9 1512.3,443.0 1512.4,444.1 1512.5,445.2 1512.6,446.3 1512.7,447.4 1512.8,448.5 1512.9,449.6 1513.0,450.7 1513.1,451.8 1513.2,452.9 1513.3,454.0 1513.3,455.1 1513.4,456.2 1513.5,457.3 1513.6,458.4 1513.7,459.5 1513.8,460.6 1513.9,461.7 1513.9,462.8 1514.0,463.9 1514.1,465.0 1514.2,466.1 1514.3,467.2 1514.4,468.3 1514.4,469.4 1514.5,470.5 1514.6,471.6 1514.7,472.7 1514.8,473.8 1514.8,474.9 1514.9,476.0 1515.0,477.1 1515.1,478.2 1515.1,479.3 1515.2,480.4 1515.3,481.5 1515.4,482.6 1515.5,483.7 1515.5,484.8 1515.6,485.9 1515.7,487.0 1515.8,488.1 1515.8,489.2 1515.9,490.3 1516.0,491.4 1516.1,492.5 1516.1,493.6 1516.2,494.7 1516.3,495.8 1516.4,496.9 1516.4,498.0 1516.5,499.1 1516.6,500.2 1516.7,501.3 1516.8,502.4 1516.8,503.5 1516.9,504.6 1517.0,505.7 1517.1,506.8 1517.1,507.9 1517.2,509.0 1517.3,510.1 1517.4,511.2 1517.5,512.3 1517.5,513.4 1517.6,514.5 1517.7,515.6 1517.8,516.7 1517.9,517.8 1518.0,518.9 1518.0,520.0 1518.1,521.1 1518.2,522.2 1518.3,523.3 1518.4,524.4 1518.5,525.5 1518.6,526.6 1518.6,527.7 1518.7,528.8 1518.8,529.9 1518.9,530.9 1519.0,532.0 1519.1,533.1 1519.2,534.2 1519.3,535.3 1519.4,536.4 1519.5,537.5 1519.6,538.6 1519.7,539.7 1519.8,540.8 1519.9,541.9 1520.0,543.0 1520.1,544.1 1520.2,545.2 1520.3,546.3 1520.4,547.4 1520.5,548.5 1520.6,549.6 1520.7,550.7 1520.8,551.8 1520.9,552.9 1521.0,554.0 1521.2,555.0 1521.3,556.1 1521.4,557.2 1521.5,558.3 1521.6,559.4 1521.8,560.5 1521.9,561.6 1522.0,562.7 1522.1,563.8 1522.3,564.9 1522.4,566.0 1522.5,567.1 1522.6,568.1 1522.8,569.2 1522.9,570.3 1523.0,571.4 1523.2,572.5 1523.3,573.6 1523.5,574.7 1523.6,575.8 1523.7,576.9 1523.9,578.0 1524.0,579.0 1524.2,580.1 1524.3,581.2 1524.5,582.3 1524.6,583.4 1524.8,584.5 1524.9,585.6 1525.1,586.7 1525.2,587.8 1525.4,588.8 1525.5,589.9 1525.7,591.0 1525.8,592.1 1526.0,593.2 1526.1,594.3 1526.3,595.4 1526.4,596.5 1526.6,597.6 1526.7,598.6 1526.9,599.7 1527.0,600.8 1527.2,601.9 1527.4,603.0 1527.5,604.1 1527.7,605.2 1527.8,606.3 1528.0,607.4 1528.1,608.5 1528.3,609.6 1528.5,610.7 1528.6,611.8 1528.8,612.9 1528.9,613.9 1529.1,615.0 1529.2,616.1 1529.4,617.2 1529.5,618.3 1529.7,619.4 1529.8,620.5 1530.0,621.6 1530.1,622.7 1530.3,623.8 1530.5,624.9 1530.6,626.0 1530.8,627.1 1530.9,628.2 1531.1,629.3 1531.2,630.4 1531.4,631.5 1531.6,632.6 1531.7,633.7 1531.9,634.8 1532.1,635.9 1532.3,637.0 1532.5,638.1 1532.8,639.1 1533.0,640.2 1533.2,641.3 1533.5,642.4 1533.7,643.4 1534.0,644.5 1534.3,645.6 1534.6,646.6 1535.0,647.7 1535.3,648.7 1535.7,649.7 1536.0,650.8 1536.4,651.8 1536.9,652.8 1537.3,653.8 1537.8,654.8 1538.3,655.7 1538.8,656.4 1539.4,656.7 1540.0,656.4 1540.7,655.7 1541.3,655.0 1541.8,654.1 1542.3,653.3 1542.7,652.3 1543.1,651.4 1543.5,650.4 1543.8,649.3 1544.0,648.3 1544.3,647.2 1544.5,646.1 1544.7,645.0 1544.9,643.8 1545.1,642.7 1545.2,641.6 1545.4,640.5 1545.6,639.4 1545.8,638.2 1545.9,637.1 1546.1,636.0 1546.3,634.9 1546.4,633.8 1546.6,632.7 1546.7,631.5 1546.9,630.4 1547.0,629.3 1547.1,628.2 1547.3,627.1 1547.4,626.0 1547.5,624.9 1547.7,623.8 1547.8,622.7 1547.9,621.6 1548.1,620.4 1548.2,619.3 1548.3,618.2 1548.4,617.1 1548.5,616.0 1548.6,614.9 1548.8,613.8 1548.9,612.7 1549.0,611.6 1549.1,610.5 1549.2,609.4 1549.3,608.3 1549.4,607.2 1549.5,606.1 1549.6,605.0 1549.7,603.9 1549.8,602.8 1549.9,601.7 1550.0,600.6 1550.1,599.5 1550.2,598.4 1550.2,597.3 1550.3,596.2 1550.4,595.1 1550.5,594.1 1550.6,593.0 1550.7,591.9 1550.8,590.8 1550.9,589.7 1550.9,588.6 1551.0,587.5 1551.1,586.4 1551.2,585.3 1551.3,584.2 1551.4,583.1 1551.4,582.0 1551.5,580.9 1551.6,579.8 1551.7,578.7 1551.8,577.6 1551.9,576.5 1552.0,575.5 1552.0,574.4 1552.1,573.3 1552.2,572.2 1552.3,571.1 1552.4,570.0 1552.5,568.9 1552.6,567.8 1552.6,566.7 1552.7,565.6 1552.8,564.5 1552.9,563.4 1553.0,562.3 1553.1,561.2 1553.2,560.1 1553.3,559.0 1553.4,557.9 1553.5,556.9 1553.5,555.8 1553.6,554.7 1553.7,553.6 1553.8,552.5 1553.9,551.4 1554.0,550.3 1554.1,549.2 1554.2,548.1 1554.3,547.0 1554.4,545.9 1554.5,544.8 1554.6,543.7 1554.7,542.6 1554.7,541.5 1554.8,540.4 1554.9,539.3 1555.0,538.2 1555.1,537.2 1555.2,536.1 1555.3,535.0 1555.4,533.9 1555.5,532.8 1555.6,531.7 1555.7,530.6 1555.8,529.5 1555.9,528.4 1556.0,527.3 1556.1,526.2 1556.2,525.1 1556.3,524.0 1556.4,522.9 1556.5,521.8 1556.6,520.7 1556.7,519.6 1556.8,518.5 1556.9,517.4 1557.0,516.4 1557.1,515.3 1557.2,514.2 1557.3,513.1 1557.4,512.0 1557.5,510.9 1557.6,509.8 1557.7,508.7 1557.8,507.6 1557.9,506.5 1558.0,505.4 1558.1,504.3 1558.2,503.2 1558.3,502.1 1558.4,501.0 1558.5,499.9 1558.7,498.8 1558.8,497.7 1558.9,496.6 1559.0,495.5 1559.1,494.4 1559.2,493.4 1559.3,492.3 1559.4,491.2 1559.5,490.1 1559.6,489.0 1559.7,487.9 1559.8,486.8 1559.9,485.7 1560.0,484.6 1560.1,483.5 1560.3,482.4 1560.4,481.3 1560.5,480.2 1560.6,479.1 1560.7,478.0 1560.8,476.9 1560.9,475.8 1561.0,474.7 1561.1,473.6 1561.2,472.5 1561.3,471.4 1561.5,470.3 1561.6,469.2 1561.7,468.2 1561.8,467.1 1561.9,466.0 1562.0,464.9 1562.1,463.8 1562.2,462.7 1562.3,461.6 1562.5,460.5 1562.6,459.4 1562.7,458.3 1562.8,457.2 1562.9,456.1 1563.0,455.0 1563.1,453.9 1563.3,452.8 1563.4,451.7 1563.5,450.6 1563.6,449.5 1563.7,448.4 1563.8,447.3 1563.9,446.2 1564.1,445.1 1564.2,444.0 1564.3,443.0 1564.4,441.9 1564.5,440.8 1564.6,439.7 1564.7,438.6 1564.9,437.5 1565.0,436.4 1565.1,435.3 1565.2,434.2 1565.3,433.1 1565.4,432.0 1565.6,430.9 1565.7,429.8 1565.8,428.7 1565.9,427.6 1566.0,426.5 1566.2,425.4 1566.3,424.3 1566.4,423.2 1566.5,422.1 1566.6,421.0 1566.7,419.9 1566.9,418.8 1567.0,417.7 1567.1,416.7 1567.2,415.6 1567.3,414.5 1567.5,413.4 1567.6,412.3 1567.7,411.2 1567.8,410.1 1567.9,409.0 1568.1,407.9 1568.2,406.8 1568.3,405.7 1568.4,404.6 1568.5,403.5 1568.7,402.4 1568.8,401.3 1568.9,400.2 1569.0,399.1 1569.2,398.0 1569.3,396.9 1569.4,395.8 1569.5,394.7 1569.6,393.6 1569.8,392.5 1569.9,391.5 1570.0,390.4 1570.1,389.3 1570.3,388.2 1570.4,387.1 1570.5,386.0 1570.6,384.9 1570.7,383.8 1570.9,382.7 1571.0,381.6 1571.1,380.5 1571.2,379.4 1571.4,378.3 1571.5,377.2 1571.6,376.1 1571.7,375.0 1571.9,373.9 1572.0,372.8 1572.1,371.7 1572.2,370.6 1572.4,369.5 1572.5,368.4 1572.6,367.4 1572.7,366.3 1572.9,365.2 1573.0,364.1 1573.1,363.0 1573.2,361.9 1573.4,360.8 1573.5,359.7 1573.6,358.6 1573.7,357.5 1573.9,356.4 1574.0,355.3 1574.1,354.2 1574.2,353.1 1574.4,352.0 1574.5,350.9 1574.6,349.8 1574.7,348.7 1574.9,347.6 1575.0,346.5 1575.1,345.5 1575.2,344.4 1575.4,343.3 1575.5,342.2 1575.6,341.1 1575.8,340.0 1575.9,338.9 1576.0,337.8 1576.1,336.7 1576.3,335.6 1576.4,334.5 1576.5,333.4 1576.7,332.3 1576.8,331.2 1576.9,330.1 1577.0,329.0 1577.2,327.9 1577.3,326.8 1577.4,325.8 1577.6,324.7 1577.7,323.6 1577.8,322.5 1578.0,321.4 1578.1,320.3 1578.2,319.2 1578.3,318.1 1578.5,317.0 1578.6,315.9 1578.7,314.8 1578.9,313.7 1579.0,312.6 1579.1,311.5 1579.3,310.4 1579.4,309.3 1579.6,308.3 1579.7,307.2 1579.8,306.1 1580.0,305.0 1580.1,303.9 1580.2,302.8 1580.4,301.7 1580.5,300.6 1580.6,299.5 1580.8,298.4 1580.9,297.3 1581.1,296.2 1581.2,295.1 1581.3,294.1 1581.5,293.0 1581.6,291.9 1581.8,290.8 1581.9,289.7 1582.0,288.6 1582.2,287.5 1582.3,286.4 1582.5,285.3 1582.6,284.2 1582.7,283.1 1582.9,282.0 1583.0,281.0 1583.2,279.9 1583.3,278.8 1583.5,277.7 1583.6,276.6 1583.8,275.5 1583.9,274.4 1584.1,273.3 1584.2,272.2 1584.4,271.1 1584.5,270.1 1584.6,269.0 1584.8,267.9 1584.9,266.8 1585.1,265.7 1585.3,264.6 1585.4,263.5 1585.6,262.4 1585.7,261.3 1585.9,260.3 1586.0,259.2 1586.2,258.1 1586.3,257.0 1586.5,255.9 1586.6,254.8 1586.8,253.7 1586.9,252.6 1587.1,251.5 1587.3,250.5 1587.4,249.4 1587.6,248.3 1587.7,247.2 1587.9,246.1 1588.1,245.0 1588.2,243.9 1588.4,242.8 1588.5,241.8 1588.7,240.7 1588.9,239.6 1589.0,238.5 1589.2,237.4 1589.4,236.3 1589.5,235.2 1589.7,234.2 1589.9,233.1 1590.0,232.0 1590.2,230.9 1590.4,229.8 1590.5,228.7 1590.7,227.7 1590.9,226.6 1591.1,225.5 1591.2,224.4 1591.4,223.3 1591.6,222.2 1591.7,221.1 1591.9,220.1 1592.1,219.0 1592.3,217.9 1592.5,216.8 1592.6,215.7 1592.8,214.6 1593.0,213.6 1593.2,212.5 1593.4,211.4 1593.5,210.3 1593.7,209.2 1593.9,208.2 1594.1,207.1 1594.3,206.0 1594.5,204.9 1594.7,203.8 1594.9,202.8 1595.0,201.7 1595.2,200.6 1595.4,199.5 1595.6,198.4 1595.8,197.4 1596.0,196.3 1596.3,195.2 1596.5,194.1 1596.7,193.1 1596.9,192.0 1597.1,190.9 1597.3,189.8 1597.5,188.8 1597.8,187.7 1598.0,186.6 1598.2,185.5 1598.5,184.5 1598.7,183.4 1598.9,182.3 1599.2,181.2 1599.4,180.2 1599.7,179.1 1600.0,178.0 1600.2,177.0 1600.5,175.9 1600.7,174.8 1601.0,173.8 1601.3,172.7 1601.6,171.6 1601.9,170.6 1602.2,169.5 1602.5,168.4 1602.8,167.4 1603.1,166.3 1603.4,165.3 1603.7,164.2 1604.0,163.1 1604.3,162.1 1604.7,161.0 1605.0,160.0 1605.3,158.9 1605.7,157.8 1606.0,156.8 1606.4,155.7 1606.8,154.7 1607.1,153.6 1607.5,152.6 1607.9,151.5 1608.3,150.5 1608.7,149.4 1609.1,148.4 1609.5,147.3 1609.9,146.3 1610.3,145.3 1610.7,144.2 1611.2,143.2 1611.6,142.1 1612.1,141.1 1612.5,140.1 1613.0,139.0 1613.5,138.0 1614.0,137.0 1614.5,136.0 1615.0,134.9 1615.5,133.9 1616.0,133.0 1616.5,132.0 1617.1,131.0 1617.7,130.0 1618.2,129.1 1618.8,128.2 1619.4,127.3 1620.1,126.4 1620.7,125.5 1621.4,124.6 1622.0,123.8 1622.7,123.0 1623.4,122.2 1624.2,121.4 1624.9,120.6 1625.7,119.9 1626.5,119.2 1627.3,118.5 1628.1,117.8 1628.9,117.2 1629.8,116.6 1630.7,116.0 1631.6,115.4 1632.5,114.9 1633.4,114.3 1634.3,113.8 1635.3,113.3 1636.3,112.8 1637.2,112.4 1638.2,111.9 1639.2,111.5 1640.2,111.1 1641.2,110.7 1642.3,110.3 1643.3,109.9 1644.3,109.6 1645.4,109.2 1646.5,108.9 1647.5,108.5 1648.6,108.2 1649.6,107.9 1650.7,107.6 1651.8,107.3 1652.9,107.0 1654.0,106.7 1655.0,106.4 1656.1,106.2 1657.2,105.9 1658.3,105.6 1659.4,105.4 1660.4,105.1 1661.5,104.9 1662.6,104.6 1663.7,104.4 1664.8,104.1 1665.9,103.9 1666.9,103.7 1668.0,103.4 1669.1,103.2 1670.2,103.0 1671.3,102.8 1672.4,102.6 1673.5,102.4 1674.6,102.2 1675.6,102.0 1676.7,101.8 1677.8,101.6 1678.9,101.4 1680.0,101.2 1681.1,101.1 1682.2,100.9 1683.3,100.7 1684.3,100.6 1685.4,100.4 1686.5,100.3 1687.6,100.1 1688.7,99.9 1689.8,99.8 1690.9,99.7 1692.0,99.5 1693.1,99.4 1694.2,99.3 1695.3,99.1 1696.4,99.0 1697.4,98.9 1698.5,98.8 1699.6,98.6 1700.7,98.5 1701.8,98.4 1702.9,98.3 1704.0,98.2 1705.1,98.1 1706.2,98.0 1707.3,97.9 1708.4,97.8 1709.5,97.7 1710.6,97.6 1711.7,97.6 1712.8,97.5 1713.9,97.4 1715.0,97.3 1716.1,97.3 1717.2,97.2 1718.3,97.1 1719.3,97.1 1720.4,97.0 1721.5,96.9 1722.6,96.9 1723.7,96.8 1724.8,96.8 1725.9,96.7 1727.0,96.7 1728.1,96.6 1729.2,96.6 1730.3,96.5 1731.4,96.5 1732.5,96.5 1733.6,96.4 1734.7,96.4 1735.8,96.3 1736.9,96.3 1738.0,96.3 1739.1,96.3 1740.2,96.2 1741.3,96.2 1742.4,96.2 1743.5,96.2 1744.6,96.1 1745.7,96.1 1746.8,96.1 1747.9,96.1 1749.0,96.1 1750.1,96.1 1751.2,96.1 1752.3,96.1 1753.4,96.0 1754.5,96.0 1755.6,96.0 1756.7,96.0 1757.8,96.0 1758.9,96.0 1760.0,96.0 1761.1,96.0 1762.2,96.0 1763.3,96.0 1764.5,96.0 1765.6,96.0 1766.7,96.0 1767.8,96.0 1768.9,96.0 1770.0,96.0 1771.1,96.0 1772.2,96.0 1773.3,96.1 1774.4,96.1 1775.5,96.1 1776.6,96.1 1777.7,96.1 1778.8,96.1 1779.9,96.1 1781.0,96.1 1782.1,96.1 1783.2,96.1 1784.3,96.1 1785.4,96.2 1786.5,96.2 1787.6,96.2 1788.7,96.2 1789.8,96.2 1790.9,96.2 1792.0,96.2 1793.1,96.2 1794.2,96.2 1795.3,96.2 1796.4,96.2 1797.5,96.3 1798.6,96.3 1799.7,96.3 1800.8,96.3 1801.9,96.3 1803.0,96.3 1804.1,96.3 1805.2,96.3 1806.3,96.3 1807.4,96.3 1808.6,96.3 1809.7,96.3 1810.8,96.3 1811.9,96.3 1813.0,96.3 1814.1,96.3 1815.2,96.3 1816.3,96.3 1817.4,96.3 1818.5,96.3 1819.6,96.3 1820.7,96.3 1821.8,96.3 1822.9,96.3 1824.0,96.3 1825.1,96.3 1826.2,96.3 1827.3,96.2 1828.4,96.2 1829.5,96.2 1830.6,96.2 1831.7,96.2 1832.8,96.2 1833.9,96.2 1835.0,96.2 1836.1,96.2 1837.2,96.2 1838.3,96.1 1839.4,96.1 1840.5,96.1 1841.6,96.1 1842.7,96.1 1843.8,96.1 1844.9,96.1 1846.0,96.1 1847.1,96.0 1848.2,96.0 1849.3,96.0 1850.4,96.0 1851.5,96.0 1852.6,96.0 1853.7,95.9 1854.8,95.9 1855.9,95.9 1857.0,95.9 1858.1,95.9 1859.2,95.9 1860.3,95.8 1861.4,95.8 1862.5,95.8 1863.6,95.8 1864.7,95.8 1865.8,95.8 1866.9,95.7 1868.0,95.7 1869.1,95.7 1870.2,95.7 1871.3,95.7 1872.4,95.6 1873.5,95.6 1874.6,95.6 1875.7,95.6 1876.8,95.6 1877.9,95.6 1879.0,95.5 1880.1,95.5 1881.2,95.5 1882.3,95.5 1883.4,95.5 1884.5,95.4 1885.6,95.4 1886.7,95.4 1887.8,95.4 1888.9,95.4 1890.0,95.3 1891.1,95.3 1892.2,95.3 1893.3,95.3 1894.4,95.3 1895.5,95.3 1896.6,95.2 1897.7,95.2 1898.8,95.2 1899.9,95.2 1901.0,95.2 1902.1,95.2 1903.2,95.1 1904.3,95.1 1905.4,95.1 1906.5,95.1 1907.6,95.1 1908.7,95.1 1909.8,95.0 1910.9,95.0 1912.0,95.0 1913.1,95.0 1914.2,95.0 1915.3,95.0 1916.4,95.0 1917.5,94.9 1918.6,94.9 1919.7,94.9 1920.8,94.9 1921.9,94.9 1923.0,94.9 1924.1,94.9 1925.2,94.9 1926.3,94.9 1927.4,94.9 1928.5,94.8 1929.6,94.8 1930.7,94.8 1931.8,94.8 1932.9,94.8 1934.0,94.8 1935.1,94.8 1936.2,94.8 1937.3,94.8 1938.4,94.8 1939.5,94.8 1940.6,94.8 1941.7,94.8 1942.8,94.8 1944.0,94.8 1945.1,94.8 1946.2,94.8 1947.3,94.8 1948.4,94.8 1949.5,94.8 1950.6,94.8 1951.7,94.8 1952.8,94.8 1953.9,94.8 1955.0,94.8 1956.1,94.8 1957.2,94.8 1958.3,94.8 1959.4,94.8 1960.5,94.8 1961.6,94.9 1962.7,94.9 1963.8,94.9 1964.9,94.9 1966.0,94.9 1967.1,94.9 1968.2,94.9 1969.3,94.9 1970.4,95.0 1971.5,95.0 1972.6,95.0 1973.7,95.0 1974.8,95.0 1975.9,95.1 1977.0,95.1" stroke="#666666" stroke-width="2.3" fill="none" stroke-linejoin="round" stroke-linecap="round" clip-path="url(#cb)"/>
<path d="M1102.0,107.5 1102.5,107.5 1103.0,107.5 1103.6,107.5 1104.2,107.5 1105.0,107.5 1105.7,107.5 1106.5,107.5 1107.4,107.5 1108.3,107.5 1109.2,107.5 1110.1,107.5 1111.1,107.5 1112.0,107.5 1113.0,107.5 1114.0,107.5 1114.9,107.5 1115.8,107.5 1116.7,107.5 1117.6,107.5 1118.5,107.5 1119.3,107.5 1120.2,107.5 1121.1,107.5 1122.0,107.5 1123.0,107.5 1123.9,107.5 1124.9,107.5 1125.8,107.5 1126.8,107.5 1127.7,107.5 1128.6,107.5 1129.5,107.5 1130.4,107.5 1131.2,107.5 1132.0,107.5 1132.7,107.5 1133.4,107.5 1134.0,107.5 1134.5,107.5 1134.9,107.5 1136.1,107.4 1137.2,107.2 1138.4,107.1 1139.5,107.1 1140.6,107.0 1141.7,106.9 1142.8,106.9 1144.0,106.9 1145.1,106.9 1146.2,106.9 1147.3,107.0 1148.4,107.0 1149.4,107.1 1150.5,107.2 1151.6,107.3 1152.7,107.4 1153.8,107.5 1154.8,107.6 1155.9,107.8 1157.0,108.0 1158.0,108.1 1159.1,108.3 1160.1,108.5 1161.2,108.7 1162.2,109.0 1163.3,109.2 1164.3,109.5 1165.4,109.7 1166.4,110.0 1167.5,110.3 1168.5,110.6 1169.5,110.9 1170.6,111.2 1171.6,111.5 1172.6,111.8 1173.7,112.1 1174.7,112.5 1175.7,112.8 1176.7,113.2 1177.8,113.5 1178.8,113.9 1179.8,114.3 1180.8,114.6 1181.9,115.0 1182.9,115.4 1183.9,115.8 1184.9,116.2 1185.9,116.6 1187.0,117.0 1188.0,117.4 1189.0,117.8 1190.0,118.2 1191.1,118.7 1192.1,119.1 1193.1,119.5 1194.1,119.9 1195.2,120.3 1196.2,120.7 1197.2,121.2 1198.3,121.6 1199.3,122.0 1200.3,122.4 1201.4,122.9 1202.4,123.3 1203.5,123.7 1204.5,124.1 1205.5,124.5 1206.6,124.9 1207.6,125.4 1208.7,125.8 1209.7,126.2 1210.8,126.6 1211.8,127.0 1212.9,127.4 1213.9,127.8 1215.0,128.2 1216.0,128.5 1217.1,128.9 1218.1,129.3 1219.2,129.7 1220.2,130.0 1221.3,130.4 1222.3,130.8 1223.4,131.1 1224.4,131.4 1225.5,131.8 1226.6,132.1 1227.6,132.4 1228.7,132.7 1229.7,133.1 1230.8,133.4 1231.9,133.6 1232.9,133.9 1234.0,134.2 1235.0,134.5 1236.1,134.7 1237.2,135.0 1238.2,135.2 1239.3,135.4 1240.4,135.7 1241.4,135.9 1242.5,136.1 1243.6,136.2 1244.6,136.4 1245.7,136.6 1246.8,136.7 1247.8,136.9 1248.9,137.0 1250.0,137.1 1251.0,137.2 1252.1,137.3 1253.2,137.4 1254.2,137.4 1255.3,137.5 1256.4,137.5 1257.4,137.5 1258.5,137.6 1259.6,137.6 1260.6,137.5 1261.7,137.5 1262.8,137.5 1263.8,137.4 1264.9,137.4 1266.0,137.3 1267.0,137.2 1268.1,137.1 1269.2,137.0 1270.2,136.9 1271.3,136.8 1272.4,136.6 1273.4,136.5 1274.5,136.3 1275.6,136.2 1276.7,136.0 1277.7,135.8 1278.8,135.6 1279.9,135.4 1280.9,135.2 1282.0,135.0 1283.1,134.8 1284.1,134.6 1285.2,134.4 1286.3,134.1 1287.3,133.9 1288.4,133.7 1289.5,133.4 1290.6,133.2 1291.6,132.9 1292.7,132.6 1293.8,132.4 1294.8,132.1 1295.9,131.8 1297.0,131.5 1298.1,131.3 1299.1,131.0 1300.2,130.7 1301.3,130.4 1302.3,130.1 1303.4,129.8 1304.5,129.5 1305.6,129.2 1306.6,129.0 1307.7,128.7 1308.8,128.4 1309.9,128.1 1310.9,127.8 1312.0,127.5 1313.1,127.2 1314.2,126.9 1315.2,126.6 1316.3,126.3 1317.4,126.0 1318.5,125.8 1319.5,125.5 1320.6,125.2 1321.7,124.9 1322.8,124.6 1323.8,124.4 1324.9,124.1 1326.0,123.8 1327.1,123.6 1328.2,123.3 1329.2,123.1 1330.3,122.8 1331.4,122.6 1332.5,122.4 1333.6,122.1 1334.6,121.9 1335.7,121.7 1336.8,121.5 1337.9,121.3 1339.0,121.1 1340.0,120.9 1341.1,120.8 1342.2,120.6 1343.3,120.4 1344.4,120.3 1345.5,120.1 1346.5,120.0 1347.6,119.9 1348.7,119.8 1349.8,119.7 1350.9,119.6 1352.0,119.5 1353.0,119.4 1354.1,119.3 1355.2,119.3 1356.3,119.3 1357.4,119.2 1358.5,119.2 1359.6,119.2 1360.7,119.2 1361.7,119.2 1362.8,119.3 1363.9,119.3 1365.0,119.4 1366.1,119.5 1367.2,119.6 1368.3,119.7 1369.4,119.8 1370.5,119.9 1371.6,120.1 1372.7,120.2 1373.8,120.4 1374.8,120.6 1375.9,120.8 1377.0,121.0 1378.1,121.3 1379.2,121.5 1380.3,121.8 1381.4,122.1 1382.4,122.3 1383.5,122.6 1384.6,123.0 1385.7,123.3 1386.7,123.6 1387.8,124.0 1388.9,124.4 1389.9,124.7 1391.0,125.1 1392.0,125.5 1393.1,126.0 1394.1,126.4 1395.1,126.8 1396.2,127.3 1397.2,127.7 1398.2,128.2 1399.2,128.7 1400.3,129.2 1401.3,129.7 1402.3,130.3 1403.2,130.8 1404.2,131.3 1405.2,131.9 1406.2,132.5 1407.1,133.0 1408.1,133.6 1409.1,134.2 1410.0,134.8 1410.9,135.5 1411.9,136.1 1412.8,136.7 1413.7,137.4 1414.6,138.1 1415.5,138.7 1416.3,139.4 1417.2,140.1 1418.1,140.8 1418.9,141.5 1419.8,142.3 1420.6,143.0 1421.4,143.7 1422.2,144.5 1423.0,145.2 1423.8,146.0 1424.6,146.8 1425.4,147.6 1426.1,148.4 1426.9,149.2 1427.6,150.0 1428.3,150.8 1429.0,151.6 1429.7,152.5 1430.4,153.3 1431.0,154.2 1431.7,155.0 1432.3,155.9 1433.0,156.8 1433.6,157.7 1434.2,158.5 1434.8,159.4 1435.4,160.3 1436.0,161.3 1436.6,162.2 1437.1,163.1 1437.7,164.0 1438.2,165.0 1438.8,165.9 1439.3,166.8 1439.8,167.8 1440.3,168.7 1440.8,169.7 1441.3,170.7 1441.8,171.6 1442.3,172.6 1442.8,173.6 1443.2,174.6 1443.7,175.6 1444.1,176.6 1444.6,177.5 1445.0,178.5 1445.5,179.6 1445.9,180.6 1446.3,181.6 1446.7,182.6 1447.1,183.6 1447.6,184.6 1448.0,185.6 1448.4,186.7 1448.8,187.7 1449.1,188.7 1449.5,189.7 1449.9,190.8 1450.3,191.8 1450.7,192.8 1451.1,193.9 1451.4,194.9 1451.8,195.9 1452.2,197.0 1452.6,198.0 1452.9,199.0 1453.3,200.1 1453.7,201.1 1454.0,202.2 1454.4,203.2 1454.7,204.2 1455.1,205.3 1455.5,206.3 1455.8,207.4 1456.2,208.4 1456.5,209.4 1456.9,210.5 1457.2,211.5 1457.6,212.6 1457.9,213.6 1458.3,214.7 1458.6,215.7 1459.0,216.7 1459.3,217.8 1459.7,218.8 1460.0,219.9 1460.4,220.9 1460.7,222.0 1461.0,223.0 1461.4,224.1 1461.7,225.1 1462.0,226.1 1462.4,227.2 1462.7,228.2 1463.0,229.3 1463.4,230.3 1463.7,231.4 1464.0,232.4 1464.4,233.5 1464.7,234.5 1465.0,235.6 1465.3,236.6 1465.6,237.7 1466.0,238.7 1466.3,239.8 1466.6,240.8 1466.9,241.9 1467.2,242.9 1467.6,244.0 1467.9,245.0 1468.2,246.1 1468.5,247.1 1468.8,248.2 1469.1,249.3 1469.4,250.3 1469.7,251.4 1470.0,252.4 1470.3,253.5 1470.6,254.5 1470.9,255.6 1471.2,256.6 1471.5,257.7 1471.8,258.8 1472.1,259.8 1472.4,260.9 1472.7,261.9 1473.0,263.0 1473.3,264.0 1473.6,265.1 1473.9,266.2 1474.2,267.2 1474.5,268.3 1474.8,269.3 1475.0,270.4 1475.3,271.5 1475.6,272.5 1475.9,273.6 1476.2,274.7 1476.5,275.7 1476.7,276.8 1477.0,277.9 1477.3,278.9 1477.6,280.0 1477.8,281.0 1478.1,282.1 1478.4,283.2 1478.7,284.2 1478.9,285.3 1479.2,286.4 1479.5,287.5 1479.7,288.5 1480.0,289.6 1480.3,290.7 1480.5,291.7 1480.8,292.8 1481.1,293.9 1481.3,294.9 1481.6,296.0 1481.8,297.1 1482.1,298.2 1482.4,299.2 1482.6,300.3 1482.9,301.4 1483.1,302.5 1483.4,303.5 1483.6,304.6 1483.9,305.7 1484.1,306.8 1484.4,307.8 1484.6,308.9 1484.9,310.0 1485.1,311.1 1485.4,312.1 1485.6,313.2 1485.9,314.3 1486.1,315.4 1486.3,316.5 1486.6,317.5 1486.8,318.6 1487.1,319.7 1487.3,320.8 1487.5,321.9 1487.8,322.9 1488.0,324.0 1488.2,325.1 1488.5,326.2 1488.7,327.3 1488.9,328.4 1489.2,329.4 1489.4,330.5 1489.6,331.6 1489.8,332.7 1490.1,333.8 1490.3,334.9 1490.5,336.0 1490.7,337.1 1491.0,338.2 1491.2,339.2 1491.4,340.3 1491.6,341.4 1491.8,342.5 1492.1,343.6 1492.3,344.7 1492.5,345.8 1492.7,346.9 1492.9,348.0 1493.1,349.1 1493.4,350.2 1493.6,351.3 1493.8,352.3 1494.0,353.4 1494.2,354.5 1494.4,355.6 1494.7,356.7 1494.9,357.8 1495.1,358.9 1495.3,360.0 1495.6,361.1 1495.8,362.2 1496.0,363.2 1496.3,364.3 1496.5,365.4 1496.7,366.5 1497.0,367.6 1497.2,368.7 1497.4,369.7 1497.7,370.8 1497.9,371.9 1498.2,373.0 1498.4,374.0 1498.7,375.1 1499.0,376.2 1499.2,377.3 1499.5,378.3 1499.8,379.4 1500.0,380.5 1500.3,381.5 1500.6,382.6 1500.9,383.6 1501.2,384.7 1501.5,385.8 1501.8,386.8 1502.1,387.9 1502.4,388.9 1502.7,389.9 1503.0,391.0 1503.4,392.0 1503.7,393.1 1504.0,394.1 1504.4,395.1 1504.7,396.2 1505.1,397.2 1505.5,398.2 1505.8,399.2 1506.2,400.2 1506.6,401.3 1507.0,402.3 1507.4,403.3 1507.8,404.3 1508.2,405.3 1508.6,406.3 1509.0,407.3 1509.4,408.3 1509.9,409.2 1510.3,410.2 1510.8,411.2 1511.3,412.2 1511.7,413.1 1512.2,414.1 1512.7,415.1 1513.2,416.0 1513.7,417.0 1514.2,417.9 1514.7,418.9 1515.3,419.8 1515.8,420.8 1516.4,421.7 1516.9,422.6 1517.5,423.5 1518.0,424.5 1518.6,425.4 1519.2,426.3 1519.8,427.3 1520.4,428.2 1521.0,429.1 1521.5,430.1 1522.1,431.1 1522.7,432.0 1523.3,433.0 1523.9,434.0 1524.4,435.0 1525.0,436.0 1525.6,437.0 1526.1,438.1 1526.7,439.1 1527.3,440.1 1527.9,441.0 1528.6,442.0 1529.2,442.9 1529.9,443.7 1530.6,444.5 1531.4,445.3 1532.2,446.0 1533.0,446.6 1533.9,447.1 1534.8,447.5 1535.7,447.9 1536.7,448.1 1537.7,448.2 1538.7,448.1 1539.7,448.0 1540.7,447.7 1541.7,447.3 1542.7,446.9 1543.6,446.4 1544.6,445.8 1545.5,445.1 1546.3,444.4 1547.1,443.6 1547.9,442.8 1548.6,442.0 1549.3,441.1 1550.0,440.2 1550.6,439.3 1551.2,438.4 1551.8,437.5 1552.3,436.5 1552.9,435.5 1553.5,434.6 1554.0,433.6 1554.5,432.6 1555.1,431.7 1555.6,430.7 1556.1,429.7 1556.6,428.7 1557.2,427.7 1557.7,426.8 1558.2,425.8 1558.7,424.8 1559.2,423.8 1559.6,422.8 1560.1,421.8 1560.6,420.8 1561.1,419.8 1561.5,418.8 1562.0,417.8 1562.4,416.8 1562.9,415.8 1563.3,414.8 1563.8,413.8 1564.2,412.7 1564.6,411.7 1565.1,410.7 1565.5,409.7 1565.9,408.7 1566.3,407.7 1566.7,406.6 1567.1,405.6 1567.5,404.6 1567.9,403.5 1568.3,402.5 1568.7,401.5 1569.1,400.5 1569.5,399.4 1569.8,398.4 1570.2,397.3 1570.6,396.3 1571.0,395.3 1571.3,394.2 1571.7,393.2 1572.0,392.1 1572.4,391.1 1572.7,390.0 1573.1,389.0 1573.4,388.0 1573.8,386.9 1574.1,385.9 1574.4,384.8 1574.7,383.7 1575.1,382.7 1575.4,381.6 1575.7,380.6 1576.0,379.5 1576.3,378.5 1576.7,377.4 1577.0,376.4 1577.3,375.3 1577.6,374.2 1577.9,373.2 1578.2,372.1 1578.5,371.0 1578.8,370.0 1579.1,368.9 1579.4,367.9 1579.6,366.8 1579.9,365.7 1580.2,364.7 1580.5,363.6 1580.8,362.5 1581.1,361.5 1581.3,360.4 1581.6,359.3 1581.9,358.2 1582.1,357.2 1582.4,356.1 1582.7,355.0 1583.0,354.0 1583.2,352.9 1583.5,351.8 1583.8,350.8 1584.0,349.7 1584.3,348.6 1584.5,347.6 1584.8,346.5 1585.1,345.4 1585.3,344.3 1585.6,343.3 1585.8,342.2 1586.1,341.1 1586.3,340.1 1586.6,339.0 1586.8,337.9 1587.1,336.9 1587.3,335.8 1587.6,334.7 1587.8,333.6 1588.1,332.6 1588.3,331.5 1588.6,330.4 1588.8,329.4 1589.1,328.3 1589.3,327.2 1589.6,326.2 1589.8,325.1 1590.1,324.0 1590.3,322.9 1590.5,321.9 1590.8,320.8 1591.0,319.7 1591.3,318.7 1591.5,317.6 1591.7,316.5 1592.0,315.4 1592.2,314.4 1592.4,313.3 1592.7,312.2 1592.9,311.2 1593.2,310.1 1593.4,309.0 1593.6,308.0 1593.9,306.9 1594.1,305.8 1594.3,304.7 1594.6,303.7 1594.8,302.6 1595.0,301.5 1595.2,300.5 1595.5,299.4 1595.7,298.3 1595.9,297.2 1596.2,296.2 1596.4,295.1 1596.6,294.0 1596.9,293.0 1597.1,291.9 1597.3,290.8 1597.5,289.7 1597.8,288.7 1598.0,287.6 1598.2,286.5 1598.4,285.4 1598.7,284.4 1598.9,283.3 1599.1,282.2 1599.3,281.2 1599.6,280.1 1599.8,279.0 1600.0,277.9 1600.3,276.9 1600.5,275.8 1600.7,274.7 1600.9,273.6 1601.2,272.6 1601.4,271.5 1601.6,270.4 1601.8,269.3 1602.0,268.3 1602.3,267.2 1602.5,266.1 1602.7,265.0 1602.9,264.0 1603.2,262.9 1603.4,261.8 1603.6,260.7 1603.8,259.7 1604.1,258.6 1604.3,257.5 1604.5,256.4 1604.7,255.4 1605.0,254.3 1605.2,253.2 1605.4,252.1 1605.7,251.1 1605.9,250.0 1606.1,248.9 1606.3,247.8 1606.6,246.8 1606.8,245.7 1607.0,244.6 1607.2,243.5 1607.5,242.4 1607.7,241.4 1607.9,240.3 1608.1,239.2 1608.4,238.1 1608.6,237.0 1608.8,236.0 1609.1,234.9 1609.3,233.8 1609.5,232.7 1609.8,231.6 1610.0,230.6 1610.2,229.5 1610.5,228.4 1610.7,227.3 1610.9,226.2 1611.2,225.2 1611.4,224.1 1611.6,223.0 1611.9,221.9 1612.1,220.8 1612.3,219.8 1612.6,218.7 1612.8,217.6 1613.0,216.5 1613.3,215.4 1613.5,214.3 1613.8,213.3 1614.0,212.2 1614.2,211.1 1614.5,210.0 1614.7,208.9 1615.0,207.8 1615.2,206.7 1615.5,205.7 1615.7,204.6 1615.9,203.5 1616.2,202.4 1616.4,201.3 1616.7,200.2 1616.9,199.1 1617.2,198.1 1617.4,197.0 1617.7,195.9 1618.0,194.8 1618.2,193.7 1618.5,192.6 1618.7,191.6 1619.0,190.5 1619.3,189.4 1619.5,188.3 1619.8,187.2 1620.1,186.2 1620.4,185.1 1620.7,184.0 1620.9,182.9 1621.2,181.9 1621.5,180.8 1621.8,179.7 1622.1,178.7 1622.4,177.6 1622.7,176.5 1623.1,175.5 1623.4,174.4 1623.7,173.4 1624.0,172.3 1624.4,171.2 1624.7,170.2 1625.0,169.2 1625.4,168.1 1625.7,167.1 1626.1,166.0 1626.5,165.0 1626.8,164.0 1627.2,162.9 1627.6,161.9 1628.0,160.9 1628.4,159.9 1628.8,158.9 1629.2,157.8 1629.6,156.8 1630.1,155.8 1630.5,154.8 1630.9,153.8 1631.4,152.8 1631.8,151.9 1632.3,150.9 1632.8,149.9 1633.2,148.9 1633.7,147.9 1634.2,147.0 1634.7,146.0 1635.2,145.1 1635.8,144.1 1636.3,143.2 1636.8,142.2 1637.4,141.3 1637.9,140.4 1638.5,139.4 1639.1,138.5 1639.7,137.6 1640.3,136.7 1640.9,135.8 1641.5,134.9 1642.1,134.0 1642.7,133.1 1643.4,132.2 1644.1,131.3 1644.7,130.5 1645.4,129.6 1646.1,128.8 1646.8,127.9 1647.5,127.1 1648.2,126.2 1648.9,125.4 1649.7,124.6 1650.4,123.8 1651.2,123.0 1651.9,122.2 1652.7,121.4 1653.5,120.7 1654.3,119.9 1655.1,119.2 1655.9,118.4 1656.7,117.7 1657.5,117.0 1658.4,116.3 1659.2,115.6 1660.1,114.9 1660.9,114.2 1661.8,113.6 1662.7,112.9 1663.6,112.3 1664.5,111.7 1665.4,111.1 1666.3,110.5 1667.2,109.9 1668.1,109.3 1669.1,108.8 1670.0,108.2 1671.0,107.7 1671.9,107.2 1672.9,106.7 1673.9,106.2 1674.8,105.8 1675.8,105.3 1676.8,104.9 1677.8,104.5 1678.8,104.1 1679.8,103.7 1680.9,103.3 1681.9,103.0 1682.9,102.7 1684.0,102.4 1685.0,102.1 1686.1,101.8 1687.1,101.5 1688.2,101.3 1689.3,101.1 1690.4,100.9 1691.4,100.7 1692.5,100.5 1693.6,100.3 1694.7,100.2 1695.8,100.0 1696.9,99.9 1698.0,99.8 1699.1,99.7 1700.2,99.6 1701.4,99.5 1702.5,99.4 1703.6,99.4 1704.7,99.3 1705.9,99.3 1707.0,99.2 1708.1,99.2 1709.2,99.2 1710.4,99.1 1711.5,99.1 1712.7,99.1 1713.8,99.1 1714.9,99.1 1716.1,99.1 1717.2,99.1 1718.3,99.1 1719.5,99.1 1720.6,99.1 1721.7,99.1 1722.9,99.0 1724.0,99.0 1725.1,99.0 1726.2,99.0 1727.4,99.0 1728.5,99.0 1729.6,99.0 1730.7,99.0 1731.8,98.9 1732.9,98.9 1734.0,98.9 1735.1,98.8 1736.2,98.8 1737.3,98.7 1738.4,98.7 1739.5,98.6 1740.6,98.5 1741.7,98.5 1742.8,98.4 1743.9,98.3 1745.0,98.3 1746.1,98.2 1747.1,98.1 1748.2,98.1 1749.3,98.0 1750.4,97.9 1751.5,97.8 1752.5,97.8 1753.6,97.7 1754.7,97.6 1755.8,97.6 1756.9,97.5 1757.9,97.4 1759.0,97.3 1760.1,97.3 1761.2,97.2 1762.3,97.2 1763.4,97.1 1764.5,97.1 1765.6,97.0 1766.6,97.0 1767.7,96.9 1768.8,96.9 1769.9,96.8 1771.0,96.8 1772.1,96.7 1773.2,96.7 1774.3,96.7 1775.4,96.6 1776.5,96.6 1777.6,96.6 1778.7,96.6 1779.8,96.5 1780.9,96.5 1782.0,96.5 1783.1,96.5 1784.2,96.4 1785.3,96.4 1786.4,96.4 1787.5,96.4 1788.6,96.4 1789.7,96.3 1790.8,96.3 1791.9,96.3 1793.0,96.3 1794.1,96.3 1795.2,96.3 1796.3,96.3 1797.4,96.3 1798.5,96.3 1799.6,96.3 1800.7,96.3 1801.9,96.2 1803.0,96.2 1804.1,96.2 1805.2,96.2 1806.3,96.2 1807.4,96.2 1808.5,96.2 1809.6,96.2 1810.7,96.2 1811.8,96.2 1812.9,96.2 1814.0,96.2 1815.1,96.2 1816.2,96.2 1817.3,96.2 1818.4,96.2 1819.5,96.2 1820.7,96.2 1821.8,96.2 1822.9,96.1 1824.0,96.1 1825.1,96.1 1826.2,96.1 1827.3,96.1 1828.4,96.1 1829.5,96.1 1830.6,96.1 1831.7,96.1 1832.8,96.1 1833.9,96.1 1835.0,96.1 1836.1,96.1 1837.2,96.0 1838.3,96.0 1839.4,96.0 1840.5,96.0 1841.6,96.0 1842.7,96.0 1843.8,96.0 1844.9,96.0 1846.0,96.0 1847.1,96.0 1848.2,96.0 1849.3,95.9 1850.4,95.9 1851.5,95.9 1852.6,95.9 1853.7,95.9 1854.8,95.9 1855.9,95.9 1857.0,95.9 1858.1,95.9 1859.2,95.8 1860.3,95.8 1861.4,95.8 1862.5,95.8 1863.6,95.8 1864.7,95.8 1865.8,95.8 1866.9,95.8 1868.0,95.8 1869.1,95.7 1870.2,95.7 1871.3,95.7 1872.4,95.7 1873.5,95.7 1874.6,95.7 1875.7,95.7 1876.8,95.7 1877.9,95.6 1879.0,95.6 1880.1,95.6 1881.2,95.6 1882.3,95.6 1883.4,95.6 1884.5,95.6 1885.6,95.6 1886.7,95.6 1887.8,95.5 1888.9,95.5 1890.0,95.5 1891.1,95.5 1892.2,95.5 1893.3,95.5 1894.4,95.5 1895.5,95.5 1896.6,95.4 1897.7,95.4 1898.8,95.4 1899.9,95.4 1901.0,95.4 1902.1,95.4 1903.2,95.4 1904.3,95.4 1905.4,95.4 1906.5,95.3 1907.6,95.3 1908.7,95.3 1909.8,95.3 1910.9,95.3 1912.0,95.3 1913.1,95.3 1914.2,95.3 1915.3,95.3 1916.4,95.3 1917.5,95.2 1918.6,95.2 1919.7,95.2 1920.8,95.2 1921.9,95.2 1923.0,95.2 1924.1,95.2 1925.2,95.2 1926.3,95.2 1927.4,95.2 1928.5,95.1 1929.6,95.1 1930.7,95.1 1931.8,95.1 1932.9,95.1 1934.0,95.1 1935.1,95.1 1936.2,95.1 1937.3,95.1 1938.4,95.1 1939.5,95.1 1940.6,95.1 1941.7,95.1 1942.8,95.1 1943.9,95.0 1945.0,95.0 1946.1,95.0 1947.2,95.0 1948.3,95.0 1949.4,95.0 1950.5,95.0 1951.6,95.0 1952.7,95.0 1953.8,95.0 1954.9,95.0 1956.1,95.0 1957.2,95.0 1958.3,95.0 1959.4,95.0 1960.5,95.0 1961.6,95.0 1962.7,95.0 1963.8,95.0 1964.9,95.0 1966.0,95.0 1967.1,95.0 1968.2,95.0 1969.3,95.0 1970.4,95.0 1971.5,95.0 1972.6,95.0 1973.7,95.0 1974.8,95.0 1975.9,95.0 1977.0,95.0" stroke="#E8343F" stroke-width="2.3" fill="none" stroke-linejoin="round" stroke-linecap="round" clip-path="url(#cb)"/>
<path d="M1102.0,106.2 1102.4,106.2 1102.8,106.2 1103.3,106.2 1103.9,106.2 1104.5,106.2 1105.2,106.2 1105.9,106.2 1106.6,106.2 1107.3,106.2 1108.1,106.2 1108.9,106.2 1109.7,106.2 1110.5,106.2 1111.4,106.2 1112.2,106.2 1113.0,106.2 1113.8,106.2 1114.5,106.2 1115.3,106.2 1116.0,106.2 1116.7,106.3 1117.5,106.3 1118.2,106.3 1119.0,106.3 1119.8,106.3 1120.6,106.3 1121.5,106.3 1122.3,106.3 1123.1,106.3 1123.9,106.3 1124.7,106.3 1125.4,106.3 1126.1,106.3 1126.8,106.3 1127.5,106.3 1128.1,106.3 1128.7,106.3 1129.2,106.3 1129.6,106.3 1130.0,106.3 1131.1,106.3 1132.2,106.2 1133.3,106.2 1134.4,106.2 1135.5,106.2 1136.6,106.1 1137.8,106.1 1138.9,106.1 1140.0,106.1 1141.1,106.2 1142.2,106.2 1143.3,106.2 1144.4,106.2 1145.5,106.3 1146.6,106.3 1147.6,106.4 1148.7,106.4 1149.8,106.5 1150.9,106.6 1152.0,106.6 1153.1,106.7 1154.2,106.8 1155.3,106.9 1156.4,107.0 1157.5,107.1 1158.6,107.2 1159.6,107.3 1160.7,107.5 1161.8,107.6 1162.9,107.7 1164.0,107.9 1165.0,108.0 1166.1,108.2 1167.2,108.3 1168.3,108.5 1169.4,108.7 1170.4,108.8 1171.5,109.0 1172.6,109.2 1173.7,109.4 1174.7,109.6 1175.8,109.8 1176.9,110.0 1177.9,110.3 1179.0,110.5 1180.1,110.7 1181.2,111.0 1182.2,111.2 1183.3,111.5 1184.4,111.7 1185.4,112.0 1186.5,112.3 1187.5,112.5 1188.6,112.8 1189.7,113.1 1190.7,113.4 1191.8,113.7 1192.9,114.0 1193.9,114.3 1195.0,114.6 1196.0,114.9 1197.1,115.3 1198.1,115.6 1199.2,116.0 1200.3,116.3 1201.3,116.7 1202.4,117.0 1203.4,117.4 1204.5,117.7 1205.5,118.1 1206.6,118.5 1207.6,118.8 1208.7,119.2 1209.7,119.6 1210.8,120.0 1211.8,120.4 1212.9,120.7 1213.9,121.1 1215.0,121.5 1216.0,121.9 1217.1,122.2 1218.1,122.6 1219.2,123.0 1220.2,123.4 1221.3,123.7 1222.3,124.1 1223.4,124.4 1224.4,124.8 1225.5,125.1 1226.5,125.5 1227.6,125.8 1228.7,126.1 1229.7,126.5 1230.8,126.8 1231.8,127.1 1232.9,127.4 1233.9,127.7 1235.0,127.9 1236.1,128.2 1237.1,128.5 1238.2,128.7 1239.2,129.0 1240.3,129.2 1241.4,129.4 1242.4,129.6 1243.5,129.8 1244.6,130.0 1245.6,130.1 1246.7,130.3 1247.8,130.4 1248.8,130.5 1249.9,130.6 1251.0,130.7 1252.1,130.8 1253.1,130.9 1254.2,130.9 1255.3,130.9 1256.4,130.9 1257.4,130.9 1258.5,130.9 1259.6,130.9 1260.7,130.8 1261.8,130.7 1262.9,130.6 1264.0,130.6 1265.1,130.5 1266.2,130.3 1267.2,130.2 1268.3,130.1 1269.4,129.9 1270.5,129.8 1271.6,129.6 1272.7,129.4 1273.8,129.3 1274.9,129.1 1276.0,128.9 1277.1,128.7 1278.2,128.5 1279.3,128.3 1280.4,128.1 1281.5,127.9 1282.6,127.6 1283.7,127.4 1284.8,127.2 1285.9,127.0 1287.0,126.8 1288.1,126.5 1289.2,126.3 1290.3,126.1 1291.4,125.9 1292.5,125.7 1293.6,125.4 1294.7,125.2 1295.8,125.0 1296.9,124.8 1298.0,124.6 1299.1,124.4 1300.2,124.2 1301.3,124.0 1302.4,123.8 1303.5,123.6 1304.6,123.4 1305.7,123.2 1306.7,123.0 1307.8,122.9 1308.9,122.7 1310.0,122.5 1311.1,122.3 1312.2,122.2 1313.3,122.0 1314.4,121.8 1315.5,121.7 1316.6,121.5 1317.7,121.4 1318.8,121.3 1319.9,121.1 1321.0,121.0 1322.0,120.9 1323.1,120.8 1324.2,120.6 1325.3,120.5 1326.4,120.4 1327.5,120.3 1328.6,120.3 1329.7,120.2 1330.8,120.1 1331.9,120.0 1332.9,120.0 1334.0,119.9 1335.1,119.9 1336.2,119.8 1337.3,119.8 1338.4,119.8 1339.5,119.7 1340.5,119.7 1341.6,119.7 1342.7,119.7 1343.8,119.7 1344.9,119.7 1346.0,119.8 1347.1,119.8 1348.1,119.9 1349.2,119.9 1350.3,120.0 1351.4,120.0 1352.5,120.1 1353.5,120.2 1354.6,120.3 1355.7,120.4 1356.8,120.5 1357.9,120.7 1358.9,120.8 1360.0,121.0 1361.1,121.1 1362.2,121.3 1363.3,121.5 1364.3,121.7 1365.4,121.9 1366.5,122.1 1367.6,122.3 1368.6,122.5 1369.7,122.8 1370.8,123.1 1371.9,123.3 1372.9,123.6 1374.0,123.9 1375.1,124.2 1376.1,124.5 1377.2,124.8 1378.3,125.2 1379.3,125.5 1380.4,125.9 1381.4,126.2 1382.5,126.6 1383.5,127.0 1384.6,127.4 1385.6,127.8 1386.7,128.2 1387.7,128.6 1388.7,129.1 1389.8,129.5 1390.8,130.0 1391.8,130.5 1392.8,130.9 1393.9,131.4 1394.9,131.9 1395.9,132.4 1396.9,132.9 1397.9,133.5 1398.8,134.0 1399.8,134.5 1400.8,135.1 1401.8,135.7 1402.7,136.2 1403.7,136.8 1404.6,137.4 1405.6,138.0 1406.5,138.6 1407.4,139.2 1408.3,139.8 1409.3,140.5 1410.2,141.1 1411.1,141.7 1411.9,142.4 1412.8,143.1 1413.7,143.7 1414.6,144.4 1415.4,145.1 1416.3,145.8 1417.1,146.5 1417.9,147.2 1418.7,147.9 1419.6,148.7 1420.3,149.4 1421.1,150.2 1421.9,150.9 1422.7,151.7 1423.4,152.4 1424.2,153.2 1424.9,154.0 1425.7,154.8 1426.4,155.6 1427.1,156.4 1427.8,157.2 1428.5,158.0 1429.2,158.8 1429.9,159.6 1430.5,160.5 1431.2,161.3 1431.8,162.1 1432.5,163.0 1433.1,163.9 1433.7,164.7 1434.4,165.6 1435.0,166.5 1435.6,167.3 1436.2,168.2 1436.8,169.1 1437.3,170.0 1437.9,170.9 1438.5,171.8 1439.0,172.8 1439.6,173.7 1440.1,174.6 1440.7,175.5 1441.2,176.5 1441.7,177.4 1442.2,178.4 1442.7,179.3 1443.2,180.3 1443.7,181.2 1444.2,182.2 1444.7,183.2 1445.2,184.1 1445.7,185.1 1446.1,186.1 1446.6,187.1 1447.0,188.1 1447.5,189.0 1447.9,190.0 1448.4,191.0 1448.8,192.1 1449.2,193.1 1449.6,194.1 1450.1,195.1 1450.5,196.1 1450.9,197.1 1451.3,198.2 1451.7,199.2 1452.1,200.2 1452.4,201.2 1452.8,202.3 1453.2,203.3 1453.6,204.4 1453.9,205.4 1454.3,206.5 1454.7,207.5 1455.0,208.6 1455.4,209.6 1455.7,210.7 1456.1,211.7 1456.4,212.8 1456.7,213.9 1457.1,214.9 1457.4,216.0 1457.7,217.1 1458.1,218.1 1458.4,219.2 1458.7,220.3 1459.0,221.4 1459.3,222.4 1459.6,223.5 1460.0,224.6 1460.3,225.7 1460.6,226.7 1460.9,227.8 1461.2,228.9 1461.5,230.0 1461.7,231.1 1462.0,232.2 1462.3,233.3 1462.6,234.3 1462.9,235.4 1463.2,236.5 1463.5,237.6 1463.8,238.7 1464.0,239.8 1464.3,240.9 1464.6,241.9 1464.9,243.0 1465.2,244.1 1465.4,245.2 1465.7,246.3 1466.0,247.4 1466.2,248.5 1466.5,249.5 1466.8,250.6 1467.1,251.7 1467.3,252.8 1467.6,253.9 1467.9,255.0 1468.1,256.0 1468.4,257.1 1468.7,258.2 1469.0,259.3 1469.2,260.4 1469.5,261.4 1469.8,262.5 1470.0,263.6 1470.3,264.7 1470.6,265.7 1470.8,266.8 1471.1,267.9 1471.3,269.0 1471.6,270.1 1471.9,271.1 1472.1,272.2 1472.4,273.3 1472.7,274.3 1472.9,275.4 1473.2,276.5 1473.4,277.6 1473.7,278.6 1474.0,279.7 1474.2,280.8 1474.5,281.8 1474.7,282.9 1475.0,284.0 1475.3,285.1 1475.5,286.1 1475.8,287.2 1476.0,288.3 1476.3,289.3 1476.6,290.4 1476.8,291.5 1477.1,292.5 1477.3,293.6 1477.6,294.7 1477.9,295.7 1478.1,296.8 1478.4,297.9 1478.6,298.9 1478.9,300.0 1479.1,301.1 1479.4,302.1 1479.7,303.2 1479.9,304.3 1480.2,305.3 1480.4,306.4 1480.7,307.4 1481.0,308.5 1481.2,309.6 1481.5,310.6 1481.7,311.7 1482.0,312.8 1482.3,313.8 1482.5,314.9 1482.8,315.9 1483.0,317.0 1483.3,318.1 1483.5,319.1 1483.8,320.2 1484.1,321.2 1484.3,322.3 1484.6,323.4 1484.9,324.4 1485.1,325.5 1485.4,326.5 1485.6,327.6 1485.9,328.7 1486.2,329.7 1486.4,330.8 1486.7,331.8 1487.0,332.9 1487.2,334.0 1487.5,335.0 1487.7,336.1 1488.0,337.1 1488.3,338.2 1488.5,339.2 1488.8,340.3 1489.1,341.4 1489.3,342.4 1489.6,343.5 1489.9,344.5 1490.1,345.6 1490.4,346.6 1490.7,347.7 1491.0,348.8 1491.2,349.8 1491.5,350.9 1491.8,351.9 1492.0,353.0 1492.3,354.0 1492.6,355.1 1492.9,356.2 1493.1,357.2 1493.4,358.3 1493.7,359.3 1494.0,360.4 1494.3,361.4 1494.5,362.5 1494.8,363.6 1495.1,364.6 1495.4,365.7 1495.7,366.7 1495.9,367.8 1496.2,368.8 1496.5,369.9 1496.8,370.9 1497.1,372.0 1497.4,373.1 1497.7,374.1 1497.9,375.2 1498.2,376.2 1498.5,377.3 1498.8,378.3 1499.1,379.4 1499.4,380.5 1499.7,381.5 1500.0,382.6 1500.3,383.6 1500.6,384.7 1500.9,385.8 1501.2,386.8 1501.5,387.9 1501.8,388.9 1502.1,390.0 1502.4,391.0 1502.7,392.1 1503.0,393.2 1503.3,394.2 1503.6,395.3 1503.9,396.3 1504.3,397.4 1504.6,398.4 1504.9,399.5 1505.2,400.5 1505.6,401.6 1505.9,402.6 1506.2,403.7 1506.6,404.7 1506.9,405.8 1507.2,406.8 1507.6,407.9 1507.9,408.9 1508.3,410.0 1508.7,411.0 1509.0,412.1 1509.4,413.1 1509.8,414.1 1510.2,415.2 1510.6,416.2 1511.0,417.2 1511.3,418.3 1511.8,419.3 1512.2,420.3 1512.6,421.4 1513.0,422.4 1513.4,423.4 1513.9,424.4 1514.3,425.4 1514.7,426.4 1515.2,427.5 1515.7,428.5 1516.1,429.5 1516.6,430.5 1517.1,431.5 1517.6,432.5 1518.1,433.5 1518.6,434.5 1519.1,435.5 1519.6,436.4 1520.1,437.4 1520.7,438.4 1521.2,439.4 1521.8,440.4 1522.4,441.3 1522.9,442.3 1523.5,443.3 1524.1,444.2 1524.7,445.2 1525.3,446.1 1525.9,447.1 1526.6,448.0 1527.2,448.9 1527.9,449.8 1528.6,450.6 1529.4,451.4 1530.2,452.1 1531.0,452.8 1531.9,453.4 1532.9,453.9 1533.9,454.3 1534.9,454.6 1536.0,454.8 1537.1,455.0 1538.1,455.0 1539.2,455.0 1540.2,454.8 1541.1,454.6 1542.1,454.3 1542.9,453.9 1543.8,453.4 1544.6,452.9 1545.4,452.2 1546.1,451.6 1546.9,450.9 1547.6,450.1 1548.2,449.3 1548.9,448.4 1549.5,447.5 1550.1,446.6 1550.7,445.6 1551.3,444.6 1551.9,443.6 1552.4,442.6 1553.0,441.6 1553.5,440.6 1554.1,439.6 1554.6,438.5 1555.1,437.5 1555.6,436.5 1556.1,435.5 1556.6,434.5 1557.1,433.4 1557.6,432.4 1558.1,431.4 1558.6,430.4 1559.1,429.3 1559.5,428.3 1560.0,427.3 1560.5,426.2 1560.9,425.2 1561.4,424.2 1561.8,423.2 1562.3,422.1 1562.7,421.1 1563.1,420.1 1563.6,419.0 1564.0,418.0 1564.4,417.0 1564.8,415.9 1565.2,414.9 1565.6,413.9 1566.0,412.8 1566.4,411.8 1566.8,410.8 1567.2,409.7 1567.6,408.7 1567.9,407.7 1568.3,406.6 1568.7,405.6 1569.0,404.5 1569.4,403.5 1569.7,402.5 1570.1,401.4 1570.4,400.4 1570.8,399.3 1571.1,398.3 1571.5,397.3 1571.8,396.2 1572.1,395.2 1572.5,394.1 1572.8,393.1 1573.1,392.0 1573.4,391.0 1573.7,389.9 1574.1,388.9 1574.4,387.8 1574.7,386.8 1575.0,385.7 1575.3,384.7 1575.6,383.7 1575.9,382.6 1576.2,381.5 1576.5,380.5 1576.7,379.4 1577.0,378.4 1577.3,377.3 1577.6,376.3 1577.9,375.2 1578.1,374.2 1578.4,373.1 1578.7,372.1 1579.0,371.0 1579.2,370.0 1579.5,368.9 1579.8,367.9 1580.0,366.8 1580.3,365.7 1580.5,364.7 1580.8,363.6 1581.1,362.6 1581.3,361.5 1581.6,360.4 1581.8,359.4 1582.1,358.3 1582.3,357.3 1582.6,356.2 1582.8,355.1 1583.1,354.1 1583.3,353.0 1583.6,351.9 1583.8,350.9 1584.1,349.8 1584.3,348.7 1584.5,347.7 1584.8,346.6 1585.0,345.5 1585.3,344.5 1585.5,343.4 1585.8,342.3 1586.0,341.3 1586.2,340.2 1586.5,339.1 1586.7,338.1 1587.0,337.0 1587.2,335.9 1587.4,334.9 1587.7,333.8 1587.9,332.7 1588.2,331.6 1588.4,330.6 1588.6,329.5 1588.9,328.4 1589.1,327.4 1589.3,326.3 1589.6,325.2 1589.8,324.1 1590.0,323.1 1590.3,322.0 1590.5,320.9 1590.7,319.8 1591.0,318.8 1591.2,317.7 1591.5,316.6 1591.7,315.5 1591.9,314.4 1592.2,313.4 1592.4,312.3 1592.6,311.2 1592.9,310.1 1593.1,309.1 1593.3,308.0 1593.5,306.9 1593.8,305.8 1594.0,304.7 1594.2,303.7 1594.5,302.6 1594.7,301.5 1594.9,300.4 1595.2,299.4 1595.4,298.3 1595.6,297.2 1595.9,296.1 1596.1,295.0 1596.3,294.0 1596.6,292.9 1596.8,291.8 1597.0,290.7 1597.2,289.6 1597.5,288.5 1597.7,287.5 1597.9,286.4 1598.2,285.3 1598.4,284.2 1598.6,283.1 1598.9,282.1 1599.1,281.0 1599.3,279.9 1599.6,278.8 1599.8,277.7 1600.0,276.7 1600.2,275.6 1600.5,274.5 1600.7,273.4 1600.9,272.3 1601.2,271.2 1601.4,270.2 1601.6,269.1 1601.9,268.0 1602.1,266.9 1602.3,265.8 1602.6,264.8 1602.8,263.7 1603.0,262.6 1603.2,261.5 1603.5,260.4 1603.7,259.4 1603.9,258.3 1604.2,257.2 1604.4,256.1 1604.6,255.0 1604.9,254.0 1605.1,252.9 1605.3,251.8 1605.6,250.7 1605.8,249.6 1606.0,248.6 1606.3,247.5 1606.5,246.4 1606.8,245.3 1607.0,244.2 1607.2,243.2 1607.5,242.1 1607.7,241.0 1607.9,239.9 1608.2,238.8 1608.4,237.8 1608.6,236.7 1608.9,235.6 1609.1,234.5 1609.4,233.5 1609.6,232.4 1609.8,231.3 1610.1,230.2 1610.3,229.2 1610.6,228.1 1610.8,227.0 1611.0,225.9 1611.3,224.9 1611.5,223.8 1611.8,222.7 1612.0,221.6 1612.2,220.6 1612.5,219.5 1612.7,218.4 1613.0,217.3 1613.2,216.3 1613.5,215.2 1613.7,214.1 1614.0,213.1 1614.2,212.0 1614.5,210.9 1614.7,209.9 1615.0,208.8 1615.2,207.7 1615.4,206.7 1615.7,205.6 1615.9,204.5 1616.2,203.5 1616.5,202.4 1616.7,201.3 1617.0,200.3 1617.2,199.2 1617.5,198.1 1617.7,197.1 1618.0,196.0 1618.2,194.9 1618.5,193.9 1618.8,192.8 1619.0,191.8 1619.3,190.7 1619.6,189.6 1619.9,188.6 1620.1,187.5 1620.4,186.5 1620.7,185.4 1621.0,184.4 1621.3,183.3 1621.5,182.3 1621.8,181.2 1622.1,180.2 1622.4,179.1 1622.7,178.1 1623.1,177.0 1623.4,176.0 1623.7,174.9 1624.0,173.9 1624.3,172.9 1624.7,171.8 1625.0,170.8 1625.3,169.8 1625.7,168.7 1626.0,167.7 1626.4,166.7 1626.7,165.6 1627.1,164.6 1627.5,163.6 1627.9,162.6 1628.2,161.5 1628.6,160.5 1629.0,159.5 1629.4,158.5 1629.8,157.5 1630.3,156.4 1630.7,155.4 1631.1,154.4 1631.5,153.4 1632.0,152.4 1632.4,151.4 1632.9,150.4 1633.3,149.4 1633.8,148.4 1634.3,147.4 1634.8,146.4 1635.3,145.4 1635.8,144.4 1636.3,143.4 1636.8,142.5 1637.3,141.5 1637.9,140.5 1638.4,139.5 1639.0,138.6 1639.5,137.6 1640.1,136.6 1640.7,135.6 1641.3,134.7 1641.9,133.7 1642.5,132.8 1643.1,131.8 1643.7,130.9 1644.4,129.9 1645.0,129.0 1645.7,128.0 1646.4,127.1 1647.1,126.2 1647.8,125.3 1648.5,124.4 1649.2,123.6 1649.9,122.7 1650.7,121.8 1651.4,121.0 1652.2,120.2 1653.0,119.4 1653.8,118.6 1654.6,117.9 1655.4,117.2 1656.2,116.5 1657.1,115.8 1657.9,115.1 1658.8,114.5 1659.7,113.8 1660.6,113.2 1661.5,112.7 1662.4,112.1 1663.3,111.5 1664.3,111.0 1665.2,110.5 1666.2,110.0 1667.2,109.5 1668.1,109.1 1669.1,108.6 1670.1,108.2 1671.1,107.8 1672.1,107.4 1673.1,107.0 1674.1,106.6 1675.2,106.3 1676.2,105.9 1677.2,105.6 1678.3,105.3 1679.3,105.0 1680.4,104.7 1681.4,104.4 1682.5,104.1 1683.5,103.8 1684.6,103.6 1685.7,103.3 1686.7,103.0 1687.8,102.8 1688.9,102.6 1689.9,102.3 1691.0,102.1 1692.1,101.9 1693.1,101.7 1694.2,101.5 1695.3,101.3 1696.4,101.1 1697.4,100.9 1698.5,100.8 1699.6,100.6 1700.7,100.4 1701.8,100.3 1702.9,100.1 1703.9,100.0 1705.0,99.9 1706.1,99.7 1707.2,99.6 1708.3,99.5 1709.4,99.4 1710.5,99.3 1711.6,99.2 1712.7,99.0 1713.8,99.0 1714.9,98.9 1716.0,98.8 1717.1,98.7 1718.2,98.6 1719.3,98.5 1720.4,98.5 1721.5,98.4 1722.6,98.3 1723.7,98.3 1724.8,98.2 1725.9,98.2 1727.0,98.1 1728.1,98.1 1729.2,98.0 1730.3,98.0 1731.4,97.9 1732.5,97.9 1733.6,97.8 1734.7,97.8 1735.8,97.8 1736.9,97.8 1738.0,97.7 1739.1,97.7 1740.2,97.7 1741.4,97.7 1742.5,97.6 1743.6,97.6 1744.7,97.6 1745.8,97.6 1746.9,97.6 1748.0,97.5 1749.1,97.5 1750.2,97.5 1751.3,97.5 1752.4,97.5 1753.5,97.5 1754.7,97.5 1755.8,97.4 1756.9,97.4 1758.0,97.4 1759.1,97.4 1760.2,97.4 1761.3,97.4 1762.4,97.4 1763.5,97.3 1764.6,97.3 1765.7,97.3 1766.8,97.3 1767.9,97.3 1769.0,97.2 1770.1,97.2 1771.2,97.2 1772.3,97.2 1773.4,97.2 1774.5,97.1 1775.6,97.1 1776.7,97.1 1777.8,97.1 1778.9,97.0 1780.0,97.0 1781.1,97.0 1782.2,97.0 1783.3,96.9 1784.4,96.9 1785.5,96.9 1786.6,96.9 1787.7,96.8 1788.8,96.8 1789.9,96.8 1791.0,96.8 1792.1,96.7 1793.2,96.7 1794.3,96.7 1795.4,96.6 1796.5,96.6 1797.6,96.6 1798.7,96.6 1799.8,96.5 1800.9,96.5 1802.0,96.5 1803.1,96.5 1804.2,96.4 1805.3,96.4 1806.4,96.4 1807.5,96.4 1808.6,96.3 1809.7,96.3 1810.8,96.3 1811.9,96.3 1813.0,96.2 1814.1,96.2 1815.2,96.2 1816.3,96.2 1817.4,96.2 1818.5,96.1 1819.5,96.1 1820.6,96.1 1821.7,96.1 1822.8,96.1 1823.9,96.0 1825.0,96.0 1826.1,96.0 1827.2,96.0 1828.3,96.0 1829.4,96.0 1830.5,95.9 1831.6,95.9 1832.7,95.9 1833.8,95.9 1834.9,95.9 1836.0,95.9 1837.1,95.8 1838.2,95.8 1839.3,95.8 1840.4,95.8 1841.5,95.8 1842.6,95.8 1843.7,95.8 1844.8,95.8 1845.9,95.7 1847.0,95.7 1848.1,95.7 1849.2,95.7 1850.3,95.7 1851.4,95.7 1852.5,95.7 1853.6,95.7 1854.8,95.7 1855.9,95.7 1857.0,95.6 1858.1,95.6 1859.2,95.6 1860.3,95.6 1861.4,95.6 1862.5,95.6 1863.6,95.6 1864.7,95.6 1865.8,95.6 1866.9,95.6 1868.0,95.6 1869.1,95.6 1870.2,95.6 1871.3,95.6 1872.4,95.5 1873.5,95.5 1874.6,95.5 1875.7,95.5 1876.8,95.5 1877.9,95.5 1879.0,95.5 1880.1,95.5 1881.2,95.5 1882.3,95.5 1883.4,95.5 1884.5,95.5 1885.6,95.5 1886.7,95.5 1887.8,95.5 1888.9,95.5 1890.0,95.5 1891.1,95.5 1892.2,95.5 1893.3,95.5 1894.4,95.4 1895.5,95.4 1896.6,95.4 1897.7,95.4 1898.8,95.4 1899.9,95.4 1901.0,95.4 1902.1,95.4 1903.2,95.4 1904.3,95.4 1905.4,95.4 1906.6,95.4 1907.7,95.4 1908.8,95.4 1909.9,95.4 1911.0,95.4 1912.1,95.4 1913.2,95.4 1914.3,95.4 1915.4,95.4 1916.5,95.4 1917.6,95.4 1918.7,95.4 1919.8,95.4 1920.9,95.3 1922.0,95.3 1923.1,95.3 1924.2,95.3 1925.3,95.3 1926.4,95.3 1927.5,95.3 1928.6,95.3 1929.7,95.3 1930.8,95.3 1931.9,95.3 1933.0,95.3 1934.1,95.3 1935.2,95.3 1936.3,95.3 1937.4,95.3 1938.5,95.2 1939.6,95.2 1940.7,95.2 1941.8,95.2 1942.9,95.2 1944.0,95.2 1945.1,95.2 1946.2,95.2 1947.3,95.2 1948.4,95.2 1949.5,95.2 1950.6,95.2 1951.7,95.1 1952.8,95.1 1953.9,95.1 1955.0,95.1 1956.1,95.1 1957.2,95.1 1958.3,95.1 1959.4,95.1 1960.5,95.1 1961.6,95.0 1962.7,95.0 1963.8,95.0 1964.9,95.0 1966.0,95.0 1967.1,95.0 1968.2,95.0 1969.3,94.9 1970.4,94.9 1971.5,94.9 1972.6,94.9 1973.7,94.9 1974.8,94.9 1975.9,94.8 1977.0,94.8" stroke="#2A5EAA" stroke-width="2.3" fill="none" stroke-linejoin="round" stroke-linecap="round" clip-path="url(#cb)"/>
<path d="M1102.0,108.2 1102.5,108.2 1103.0,108.2 1103.6,108.2 1104.2,108.2 1105.0,108.2 1105.7,108.2 1106.5,108.2 1107.4,108.2 1108.3,108.2 1109.2,108.2 1110.1,108.2 1111.1,108.2 1112.0,108.2 1113.0,108.2 1114.0,108.2 1114.9,108.2 1115.8,108.2 1116.7,108.2 1117.6,108.2 1118.5,108.2 1119.3,108.2 1120.2,108.2 1121.1,108.2 1122.0,108.2 1123.0,108.2 1123.9,108.2 1124.9,108.2 1125.8,108.2 1126.8,108.2 1127.7,108.2 1128.6,108.2 1129.5,108.2 1130.4,108.2 1131.2,108.2 1132.0,108.2 1132.7,108.2 1133.4,108.2 1134.0,108.2 1134.5,108.2 1134.9,108.2 1136.0,108.1 1137.1,108.1 1138.3,108.0 1139.4,108.0 1140.5,107.9 1141.6,107.9 1142.7,107.9 1143.8,107.9 1144.9,108.0 1146.0,108.0 1147.1,108.0 1148.2,108.1 1149.2,108.1 1150.3,108.2 1151.4,108.3 1152.5,108.4 1153.6,108.5 1154.7,108.6 1155.8,108.7 1156.9,108.8 1158.0,109.0 1159.0,109.1 1160.1,109.2 1161.2,109.4 1162.3,109.6 1163.4,109.7 1164.5,109.9 1165.5,110.1 1166.6,110.3 1167.7,110.5 1168.8,110.7 1169.9,110.9 1170.9,111.1 1172.0,111.3 1173.1,111.6 1174.2,111.8 1175.2,112.0 1176.3,112.3 1177.4,112.5 1178.5,112.8 1179.5,113.0 1180.6,113.3 1181.7,113.6 1182.7,113.8 1183.8,114.1 1184.9,114.4 1186.0,114.6 1187.0,114.9 1188.1,115.2 1189.2,115.5 1190.2,115.8 1191.3,116.0 1192.4,116.3 1193.4,116.6 1194.5,116.9 1195.6,117.2 1196.6,117.5 1197.7,117.8 1198.8,118.1 1199.8,118.3 1200.9,118.6 1202.0,118.9 1203.1,119.2 1204.1,119.5 1205.2,119.8 1206.3,120.1 1207.3,120.4 1208.4,120.6 1209.5,120.9 1210.5,121.2 1211.6,121.5 1212.7,121.7 1213.7,122.0 1214.8,122.3 1215.9,122.5 1216.9,122.8 1218.0,123.0 1219.1,123.3 1220.1,123.5 1221.2,123.8 1222.3,124.0 1223.4,124.2 1224.4,124.5 1225.5,124.7 1226.6,124.9 1227.6,125.1 1228.7,125.3 1229.8,125.5 1230.9,125.7 1231.9,125.9 1233.0,126.1 1234.1,126.2 1235.2,126.4 1236.2,126.6 1237.3,126.7 1238.4,126.8 1239.5,127.0 1240.6,127.1 1241.6,127.2 1242.7,127.3 1243.8,127.4 1244.9,127.5 1246.0,127.6 1247.0,127.7 1248.1,127.7 1249.2,127.8 1250.3,127.8 1251.4,127.8 1252.5,127.9 1253.6,127.9 1254.7,127.9 1255.8,127.8 1256.8,127.8 1257.9,127.8 1259.0,127.8 1260.1,127.7 1261.2,127.7 1262.3,127.6 1263.4,127.5 1264.5,127.5 1265.6,127.4 1266.7,127.3 1267.8,127.2 1268.9,127.1 1270.0,127.0 1271.1,126.9 1272.2,126.7 1273.3,126.6 1274.4,126.5 1275.5,126.4 1276.6,126.2 1277.7,126.1 1278.8,126.0 1279.9,125.8 1281.0,125.7 1282.1,125.5 1283.2,125.4 1284.3,125.2 1285.4,125.1 1286.5,124.9 1287.7,124.7 1288.8,124.6 1289.9,124.4 1291.0,124.3 1292.1,124.1 1293.2,124.0 1294.3,123.8 1295.4,123.6 1296.5,123.5 1297.6,123.3 1298.7,123.2 1299.8,123.0 1300.9,122.9 1302.0,122.7 1303.1,122.6 1304.2,122.5 1305.4,122.3 1306.5,122.2 1307.6,122.1 1308.7,122.0 1309.8,121.8 1310.9,121.7 1312.0,121.6 1313.1,121.5 1314.2,121.4 1315.3,121.4 1316.4,121.3 1317.5,121.2 1318.6,121.1 1319.7,121.1 1320.8,121.0 1321.9,121.0 1323.0,120.9 1324.1,120.9 1325.2,120.9 1326.3,120.9 1327.4,120.9 1328.5,120.9 1329.6,120.9 1330.7,120.9 1331.8,121.0 1332.9,121.0 1334.0,121.1 1335.1,121.1 1336.2,121.2 1337.3,121.3 1338.4,121.4 1339.4,121.5 1340.5,121.6 1341.6,121.7 1342.7,121.8 1343.8,121.9 1344.9,122.1 1346.0,122.2 1347.0,122.4 1348.1,122.5 1349.2,122.7 1350.3,122.9 1351.4,123.1 1352.4,123.3 1353.5,123.5 1354.6,123.7 1355.7,123.9 1356.7,124.1 1357.8,124.4 1358.9,124.6 1359.9,124.9 1361.0,125.1 1362.1,125.4 1363.1,125.7 1364.2,125.9 1365.2,126.2 1366.3,126.5 1367.4,126.8 1368.4,127.2 1369.5,127.5 1370.5,127.8 1371.6,128.2 1372.6,128.5 1373.6,128.9 1374.7,129.2 1375.7,129.6 1376.8,130.0 1377.8,130.4 1378.8,130.7 1379.9,131.2 1380.9,131.6 1381.9,132.0 1382.9,132.4 1384.0,132.8 1385.0,133.3 1386.0,133.7 1387.0,134.2 1388.0,134.6 1389.0,135.1 1390.0,135.6 1391.0,136.1 1392.0,136.5 1393.0,137.0 1394.0,137.6 1395.0,138.1 1396.0,138.6 1397.0,139.1 1397.9,139.6 1398.9,140.2 1399.9,140.7 1400.8,141.3 1401.8,141.9 1402.7,142.4 1403.7,143.0 1404.6,143.6 1405.5,144.2 1406.5,144.8 1407.4,145.4 1408.3,146.1 1409.2,146.7 1410.1,147.3 1411.0,148.0 1411.9,148.6 1412.8,149.3 1413.7,149.9 1414.5,150.6 1415.4,151.3 1416.2,152.0 1417.1,152.7 1417.9,153.4 1418.8,154.1 1419.6,154.8 1420.4,155.6 1421.2,156.3 1422.0,157.0 1422.8,157.8 1423.6,158.5 1424.3,159.3 1425.1,160.1 1425.8,160.9 1426.6,161.7 1427.3,162.5 1428.0,163.3 1428.8,164.1 1429.5,164.9 1430.2,165.7 1430.8,166.6 1431.5,167.4 1432.2,168.3 1432.8,169.1 1433.5,170.0 1434.1,170.9 1434.7,171.8 1435.3,172.7 1435.9,173.6 1436.5,174.5 1437.1,175.4 1437.6,176.3 1438.2,177.3 1438.7,178.2 1439.2,179.1 1439.8,180.1 1440.3,181.1 1440.8,182.0 1441.3,183.0 1441.8,184.0 1442.3,184.9 1442.7,185.9 1443.2,186.9 1443.6,187.9 1444.1,188.9 1444.5,189.9 1445.0,190.9 1445.4,191.9 1445.8,193.0 1446.2,194.0 1446.7,195.0 1447.1,196.0 1447.5,197.1 1447.9,198.1 1448.3,199.1 1448.6,200.2 1449.0,201.2 1449.4,202.3 1449.8,203.3 1450.2,204.4 1450.5,205.4 1450.9,206.5 1451.3,207.5 1451.6,208.6 1452.0,209.6 1452.3,210.7 1452.7,211.7 1453.1,212.8 1453.4,213.9 1453.8,214.9 1454.1,216.0 1454.5,217.0 1454.8,218.1 1455.2,219.1 1455.5,220.2 1455.9,221.2 1456.2,222.3 1456.5,223.4 1456.9,224.4 1457.2,225.5 1457.6,226.5 1457.9,227.6 1458.3,228.6 1458.6,229.7 1458.9,230.8 1459.3,231.8 1459.6,232.9 1459.9,233.9 1460.3,235.0 1460.6,236.0 1460.9,237.1 1461.3,238.1 1461.6,239.2 1461.9,240.3 1462.3,241.3 1462.6,242.4 1462.9,243.4 1463.3,244.5 1463.6,245.5 1463.9,246.6 1464.2,247.7 1464.6,248.7 1464.9,249.8 1465.2,250.8 1465.5,251.9 1465.8,252.9 1466.2,254.0 1466.5,255.0 1466.8,256.1 1467.1,257.2 1467.4,258.2 1467.8,259.3 1468.1,260.3 1468.4,261.4 1468.7,262.4 1469.0,263.5 1469.3,264.6 1469.6,265.6 1470.0,266.7 1470.3,267.7 1470.6,268.8 1470.9,269.8 1471.2,270.9 1471.5,272.0 1471.8,273.0 1472.1,274.1 1472.4,275.1 1472.7,276.2 1473.0,277.2 1473.3,278.3 1473.6,279.4 1473.9,280.4 1474.2,281.5 1474.5,282.5 1474.9,283.6 1475.2,284.6 1475.5,285.7 1475.8,286.8 1476.1,287.8 1476.4,288.9 1476.7,289.9 1476.9,291.0 1477.2,292.1 1477.5,293.1 1477.8,294.2 1478.1,295.2 1478.4,296.3 1478.7,297.3 1479.0,298.4 1479.3,299.5 1479.6,300.5 1479.9,301.6 1480.2,302.6 1480.5,303.7 1480.8,304.8 1481.1,305.8 1481.4,306.9 1481.7,307.9 1481.9,309.0 1482.2,310.1 1482.5,311.1 1482.8,312.2 1483.1,313.2 1483.4,314.3 1483.7,315.3 1484.0,316.4 1484.2,317.5 1484.5,318.5 1484.8,319.6 1485.1,320.6 1485.4,321.7 1485.7,322.8 1486.0,323.8 1486.2,324.9 1486.5,325.9 1486.8,327.0 1487.1,328.1 1487.4,329.1 1487.7,330.2 1487.9,331.3 1488.2,332.3 1488.5,333.4 1488.8,334.4 1489.1,335.5 1489.4,336.6 1489.6,337.6 1489.9,338.7 1490.2,339.7 1490.5,340.8 1490.8,341.9 1491.0,342.9 1491.3,344.0 1491.6,345.1 1491.9,346.1 1492.2,347.2 1492.4,348.2 1492.7,349.3 1493.0,350.4 1493.3,351.4 1493.5,352.5 1493.8,353.6 1494.1,354.6 1494.4,355.7 1494.7,356.7 1494.9,357.8 1495.2,358.9 1495.5,359.9 1495.8,361.0 1496.0,362.1 1496.3,363.1 1496.6,364.2 1496.9,365.2 1497.2,366.3 1497.4,367.4 1497.7,368.4 1498.0,369.5 1498.3,370.6 1498.6,371.6 1498.9,372.7 1499.2,373.7 1499.5,374.8 1499.8,375.9 1500.1,376.9 1500.4,378.0 1500.7,379.0 1501.0,380.1 1501.3,381.1 1501.6,382.2 1501.9,383.2 1502.3,384.3 1502.6,385.3 1502.9,386.4 1503.3,387.4 1503.6,388.4 1504.0,389.5 1504.3,390.5 1504.7,391.5 1505.0,392.6 1505.4,393.6 1505.8,394.6 1506.2,395.7 1506.5,396.7 1506.9,397.7 1507.3,398.7 1507.7,399.8 1508.2,400.8 1508.6,401.8 1509.0,402.8 1509.4,403.8 1509.9,404.8 1510.3,405.8 1510.8,406.8 1511.3,407.8 1511.7,408.8 1512.2,409.8 1512.7,410.8 1513.2,411.7 1513.7,412.7 1514.2,413.7 1514.8,414.7 1515.3,415.6 1515.9,416.6 1516.4,417.6 1517.0,418.5 1517.6,419.5 1518.2,420.4 1518.8,421.4 1519.4,422.3 1520.0,423.2 1520.6,424.2 1521.3,425.1 1521.9,426.0 1522.6,427.0 1523.3,427.9 1524.0,428.8 1524.7,429.7 1525.4,430.6 1526.1,431.5 1526.9,432.4 1527.6,433.2 1528.4,434.0 1529.2,434.8 1530.0,435.5 1530.9,436.2 1531.8,436.8 1532.7,437.4 1533.6,437.8 1534.6,438.2 1535.5,438.5 1536.5,438.7 1537.5,438.8 1538.5,438.8 1539.4,438.8 1540.4,438.6 1541.3,438.4 1542.2,438.0 1543.1,437.6 1543.9,437.2 1544.7,436.6 1545.6,436.0 1546.3,435.4 1547.1,434.6 1547.9,433.9 1548.6,433.1 1549.4,432.2 1550.1,431.4 1550.8,430.5 1551.5,429.5 1552.2,428.6 1552.8,427.7 1553.5,426.7 1554.2,425.7 1554.8,424.8 1555.4,423.8 1556.1,422.9 1556.7,421.9 1557.3,420.9 1557.9,420.0 1558.5,419.0 1559.1,418.0 1559.6,417.0 1560.2,416.1 1560.8,415.1 1561.3,414.1 1561.9,413.1 1562.4,412.1 1562.9,411.1 1563.5,410.1 1564.0,409.1 1564.5,408.2 1565.0,407.2 1565.5,406.2 1566.0,405.2 1566.5,404.2 1566.9,403.1 1567.4,402.1 1567.9,401.1 1568.3,400.1 1568.8,399.1 1569.2,398.1 1569.6,397.1 1570.1,396.1 1570.5,395.1 1570.9,394.0 1571.3,393.0 1571.7,392.0 1572.1,391.0 1572.5,389.9 1572.9,388.9 1573.3,387.9 1573.7,386.9 1574.0,385.8 1574.4,384.8 1574.8,383.8 1575.1,382.7 1575.5,381.7 1575.8,380.7 1576.2,379.6 1576.5,378.6 1576.8,377.5 1577.2,376.5 1577.5,375.5 1577.8,374.4 1578.1,373.4 1578.4,372.3 1578.7,371.3 1579.0,370.2 1579.4,369.2 1579.6,368.1 1579.9,367.1 1580.2,366.0 1580.5,365.0 1580.8,363.9 1581.1,362.8 1581.4,361.8 1581.6,360.7 1581.9,359.7 1582.2,358.6 1582.5,357.5 1582.7,356.5 1583.0,355.4 1583.2,354.4 1583.5,353.3 1583.8,352.2 1584.0,351.2 1584.3,350.1 1584.5,349.0 1584.8,348.0 1585.0,346.9 1585.3,345.8 1585.5,344.8 1585.7,343.7 1586.0,342.6 1586.2,341.5 1586.5,340.5 1586.7,339.4 1586.9,338.3 1587.2,337.3 1587.4,336.2 1587.6,335.1 1587.9,334.0 1588.1,333.0 1588.3,331.9 1588.6,330.8 1588.8,329.7 1589.0,328.7 1589.3,327.6 1589.5,326.5 1589.7,325.4 1590.0,324.4 1590.2,323.3 1590.4,322.2 1590.7,321.1 1590.9,320.1 1591.1,319.0 1591.4,317.9 1591.6,316.8 1591.8,315.8 1592.0,314.7 1592.3,313.6 1592.5,312.5 1592.7,311.4 1592.9,310.4 1593.2,309.3 1593.4,308.2 1593.6,307.1 1593.9,306.0 1594.1,305.0 1594.3,303.9 1594.5,302.8 1594.8,301.7 1595.0,300.6 1595.2,299.6 1595.4,298.5 1595.7,297.4 1595.9,296.3 1596.1,295.2 1596.3,294.2 1596.6,293.1 1596.8,292.0 1597.0,290.9 1597.3,289.8 1597.5,288.8 1597.7,287.7 1597.9,286.6 1598.2,285.5 1598.4,284.4 1598.6,283.4 1598.8,282.3 1599.1,281.2 1599.3,280.1 1599.5,279.0 1599.7,277.9 1600.0,276.9 1600.2,275.8 1600.4,274.7 1600.6,273.6 1600.9,272.5 1601.1,271.5 1601.3,270.4 1601.6,269.3 1601.8,268.2 1602.0,267.1 1602.2,266.1 1602.5,265.0 1602.7,263.9 1602.9,262.8 1603.1,261.7 1603.4,260.6 1603.6,259.6 1603.8,258.5 1604.1,257.4 1604.3,256.3 1604.5,255.2 1604.8,254.2 1605.0,253.1 1605.2,252.0 1605.4,250.9 1605.7,249.8 1605.9,248.8 1606.1,247.7 1606.4,246.6 1606.6,245.5 1606.8,244.5 1607.1,243.4 1607.3,242.3 1607.5,241.2 1607.8,240.1 1608.0,239.1 1608.3,238.0 1608.5,236.9 1608.7,235.8 1609.0,234.8 1609.2,233.7 1609.4,232.6 1609.7,231.5 1609.9,230.4 1610.2,229.4 1610.4,228.3 1610.6,227.2 1610.9,226.1 1611.1,225.1 1611.4,224.0 1611.6,222.9 1611.8,221.9 1612.1,220.8 1612.3,219.7 1612.6,218.6 1612.8,217.6 1613.1,216.5 1613.3,215.4 1613.6,214.3 1613.8,213.3 1614.1,212.2 1614.3,211.1 1614.6,210.1 1614.8,209.0 1615.1,207.9 1615.3,206.9 1615.6,205.8 1615.8,204.7 1616.1,203.7 1616.3,202.6 1616.6,201.5 1616.8,200.5 1617.1,199.4 1617.4,198.3 1617.6,197.3 1617.9,196.2 1618.1,195.1 1618.4,194.1 1618.7,193.0 1618.9,192.0 1619.2,190.9 1619.5,189.8 1619.8,188.8 1620.0,187.7 1620.3,186.7 1620.6,185.6 1620.9,184.6 1621.2,183.5 1621.5,182.4 1621.8,181.4 1622.1,180.3 1622.4,179.3 1622.7,178.2 1623.0,177.2 1623.3,176.2 1623.7,175.1 1624.0,174.1 1624.3,173.0 1624.6,172.0 1625.0,171.0 1625.3,169.9 1625.7,168.9 1626.0,167.8 1626.4,166.8 1626.7,165.8 1627.1,164.8 1627.5,163.7 1627.9,162.7 1628.2,161.7 1628.6,160.7 1629.0,159.6 1629.4,158.6 1629.8,157.6 1630.3,156.6 1630.7,155.6 1631.1,154.6 1631.5,153.6 1632.0,152.5 1632.4,151.5 1632.9,150.5 1633.4,149.5 1633.8,148.5 1634.3,147.5 1634.8,146.5 1635.3,145.6 1635.8,144.6 1636.3,143.6 1636.8,142.6 1637.3,141.6 1637.9,140.6 1638.4,139.7 1639.0,138.7 1639.5,137.7 1640.1,136.7 1640.7,135.8 1641.3,134.8 1641.9,133.8 1642.5,132.9 1643.1,131.9 1643.7,131.0 1644.3,130.0 1645.0,129.1 1645.6,128.2 1646.3,127.3 1647.0,126.3 1647.7,125.4 1648.4,124.6 1649.1,123.7 1649.8,122.8 1650.5,122.0 1651.3,121.1 1652.1,120.3 1652.8,119.5 1653.6,118.8 1654.4,118.0 1655.2,117.3 1656.1,116.6 1656.9,115.9 1657.8,115.2 1658.6,114.6 1659.5,113.9 1660.4,113.3 1661.3,112.7 1662.2,112.2 1663.2,111.6 1664.1,111.1 1665.1,110.6 1666.0,110.1 1667.0,109.6 1668.0,109.2 1668.9,108.7 1669.9,108.3 1670.9,107.9 1671.9,107.5 1673.0,107.1 1674.0,106.7 1675.0,106.3 1676.0,106.0 1677.1,105.7 1678.1,105.3 1679.2,105.0 1680.2,104.7 1681.3,104.4 1682.3,104.1 1683.4,103.9 1684.5,103.6 1685.5,103.3 1686.6,103.1 1687.6,102.8 1688.7,102.6 1689.8,102.4 1690.9,102.1 1691.9,101.9 1693.0,101.7 1694.1,101.5 1695.2,101.3 1696.2,101.1 1697.3,101.0 1698.4,100.8 1699.5,100.6 1700.6,100.5 1701.7,100.3 1702.7,100.2 1703.8,100.0 1704.9,99.9 1706.0,99.7 1707.1,99.6 1708.2,99.5 1709.3,99.4 1710.4,99.3 1711.5,99.2 1712.6,99.1 1713.7,99.0 1714.8,98.9 1715.9,98.8 1716.9,98.7 1718.0,98.6 1719.1,98.5 1720.2,98.5 1721.4,98.4 1722.5,98.3 1723.6,98.3 1724.7,98.2 1725.8,98.2 1726.9,98.1 1728.0,98.1 1729.1,98.0 1730.2,98.0 1731.3,97.9 1732.4,97.9 1733.5,97.8 1734.6,97.8 1735.7,97.8 1736.8,97.8 1737.9,97.7 1739.0,97.7 1740.1,97.7 1741.3,97.7 1742.4,97.6 1743.5,97.6 1744.6,97.6 1745.7,97.6 1746.8,97.6 1747.9,97.6 1749.0,97.5 1750.1,97.5 1751.2,97.5 1752.3,97.5 1753.4,97.5 1754.5,97.5 1755.7,97.5 1756.8,97.4 1757.9,97.4 1759.0,97.4 1760.1,97.4 1761.2,97.4 1762.3,97.4 1763.4,97.3 1764.5,97.3 1765.6,97.3 1766.7,97.3 1767.8,97.3 1768.9,97.2 1770.0,97.2 1771.1,97.2 1772.2,97.2 1773.3,97.2 1774.4,97.1 1775.5,97.1 1776.6,97.1 1777.7,97.1 1778.8,97.0 1779.9,97.0 1781.0,97.0 1782.1,97.0 1783.2,96.9 1784.3,96.9 1785.4,96.9 1786.5,96.9 1787.6,96.8 1788.7,96.8 1789.8,96.8 1790.9,96.8 1792.0,96.7 1793.1,96.7 1794.2,96.7 1795.3,96.7 1796.4,96.6 1797.5,96.6 1798.6,96.6 1799.7,96.5 1800.8,96.5 1801.9,96.5 1803.0,96.5 1804.1,96.4 1805.2,96.4 1806.3,96.4 1807.4,96.4 1808.5,96.3 1809.6,96.3 1810.7,96.3 1811.8,96.3 1812.9,96.2 1814.0,96.2 1815.1,96.2 1816.2,96.2 1817.3,96.2 1818.4,96.1 1819.5,96.1 1820.6,96.1 1821.7,96.1 1822.8,96.1 1823.9,96.0 1825.0,96.0 1826.1,96.0 1827.2,96.0 1828.3,96.0 1829.4,96.0 1830.5,95.9 1831.6,95.9 1832.7,95.9 1833.8,95.9 1834.9,95.9 1836.0,95.9 1837.1,95.8 1838.2,95.8 1839.3,95.8 1840.4,95.8 1841.5,95.8 1842.6,95.8 1843.7,95.8 1844.8,95.8 1845.9,95.7 1847.0,95.7 1848.1,95.7 1849.2,95.7 1850.3,95.7 1851.4,95.7 1852.5,95.7 1853.6,95.7 1854.7,95.7 1855.8,95.7 1856.9,95.6 1858.0,95.6 1859.1,95.6 1860.2,95.6 1861.3,95.6 1862.4,95.6 1863.5,95.6 1864.6,95.6 1865.7,95.6 1866.8,95.6 1867.9,95.6 1869.0,95.6 1870.1,95.6 1871.2,95.6 1872.3,95.5 1873.4,95.5 1874.5,95.5 1875.6,95.5 1876.7,95.5 1877.8,95.5 1878.9,95.5 1880.1,95.5 1881.2,95.5 1882.3,95.5 1883.4,95.5 1884.5,95.5 1885.6,95.5 1886.7,95.5 1887.8,95.5 1888.9,95.5 1890.0,95.5 1891.1,95.5 1892.2,95.5 1893.3,95.5 1894.4,95.4 1895.5,95.4 1896.6,95.4 1897.7,95.4 1898.8,95.4 1899.9,95.4 1901.0,95.4 1902.1,95.4 1903.2,95.4 1904.3,95.4 1905.4,95.4 1906.5,95.4 1907.6,95.4 1908.7,95.4 1909.8,95.4 1910.9,95.4 1912.0,95.4 1913.1,95.4 1914.2,95.4 1915.3,95.4 1916.4,95.4 1917.5,95.4 1918.6,95.4 1919.7,95.4 1920.9,95.3 1922.0,95.3 1923.1,95.3 1924.2,95.3 1925.3,95.3 1926.4,95.3 1927.5,95.3 1928.6,95.3 1929.7,95.3 1930.8,95.3 1931.9,95.3 1933.0,95.3 1934.1,95.3 1935.2,95.3 1936.3,95.3 1937.4,95.3 1938.5,95.3 1939.6,95.2 1940.7,95.2 1941.8,95.2 1942.9,95.2 1944.0,95.2 1945.1,95.2 1946.2,95.2 1947.3,95.2 1948.4,95.2 1949.5,95.2 1950.6,95.2 1951.7,95.1 1952.8,95.1 1953.9,95.1 1955.0,95.1 1956.1,95.1 1957.2,95.1 1958.3,95.1 1959.4,95.1 1960.5,95.1 1961.6,95.0 1962.7,95.0 1963.8,95.0 1964.9,95.0 1966.0,95.0 1967.1,95.0 1968.2,95.0 1969.3,94.9 1970.4,94.9 1971.5,94.9 1972.6,94.9 1973.7,94.9 1974.8,94.9 1975.9,94.8 1977.0,94.8" stroke="#26A363" stroke-width="2.3" fill="none" stroke-linejoin="round" stroke-linecap="round" clip-path="url(#cb)"/>
<path d="M1102.0,123.0 1102.1,122.6 1102.3,122.2 1102.5,121.7 1102.7,121.2 1102.9,120.7 1103.1,120.0 1103.3,119.4 1103.6,118.7 1103.8,118.0 1104.1,117.3 1104.4,116.5 1104.7,115.8 1105.0,115.0 1105.3,114.3 1105.5,113.5 1105.8,112.8 1106.1,112.0 1106.4,111.3 1106.7,110.7 1107.0,110.0 1107.3,109.4 1107.5,108.8 1107.8,108.2 1108.0,107.5 1108.3,106.9 1108.5,106.2 1108.8,105.6 1109.0,104.9 1109.3,104.3 1109.6,103.6 1109.9,103.0 1110.1,102.4 1110.4,101.8 1110.7,101.3 1111.0,100.8 1111.3,100.3 1111.7,99.9 1112.0,99.5 1112.3,99.1 1112.7,98.8 1112.9,98.7 1113.1,98.7 1113.3,98.7 1113.5,98.8 1113.7,98.9 1113.9,99.1 1114.2,99.3 1114.4,99.5 1114.6,99.7 1114.9,100.0 1115.2,100.3 1115.4,100.5 1115.7,100.8 1116.0,101.0 1116.2,101.3 1116.5,101.5 1116.8,101.7 1117.1,101.8 1117.3,101.9 1117.6,102.0 1117.9,102.0 1118.3,102.0 1118.6,102.0 1119.0,102.0 1119.3,101.9 1119.7,101.8 1120.0,101.7 1120.4,101.6 1120.8,101.5 1121.1,101.4 1121.5,101.3 1121.9,101.2 1122.2,101.0 1122.6,100.9 1123.0,100.8 1123.3,100.7 1123.7,100.6 1124.1,100.5 1124.4,100.4 1124.8,100.4 1125.8,100.3 1126.8,100.2 1127.9,100.1 1128.9,100.0 1130.0,99.9 1131.1,99.9 1132.3,99.8 1133.4,99.7 1134.5,99.6 1135.6,99.6 1136.7,99.5 1137.7,99.4 1138.7,99.4 1139.6,99.3 1140.5,99.3 1141.4,99.3 1142.2,99.2 1142.9,99.2 1143.5,99.1 1144.0,99.1 1145.1,99.2 1146.2,99.3 1147.3,99.4 1148.4,99.5 1149.5,99.6 1150.6,99.7 1151.7,99.8 1152.8,100.0 1153.9,100.1 1155.0,100.2 1156.1,100.4 1157.2,100.5 1158.3,100.7 1159.4,100.8 1160.5,101.0 1161.6,101.2 1162.6,101.4 1163.7,101.5 1164.8,101.7 1165.9,101.9 1166.9,102.1 1168.0,102.4 1169.1,102.6 1170.1,102.8 1171.2,103.0 1172.3,103.3 1173.3,103.5 1174.4,103.8 1175.4,104.1 1176.5,104.4 1177.5,104.6 1178.6,104.9 1179.6,105.2 1180.6,105.6 1181.7,105.9 1182.7,106.2 1183.7,106.6 1184.7,106.9 1185.8,107.3 1186.8,107.6 1187.8,108.0 1188.8,108.4 1189.8,108.8 1190.8,109.2 1191.8,109.7 1192.8,110.1 1193.8,110.5 1194.8,111.0 1195.8,111.5 1196.7,112.0 1197.7,112.4 1198.7,113.0 1199.6,113.5 1200.6,114.0 1201.6,114.5 1202.5,115.1 1203.5,115.7 1204.4,116.3 1205.3,116.9 1206.3,117.5 1207.2,118.1 1208.1,118.7 1209.1,119.4 1210.0,120.0 1210.9,120.7 1211.8,121.4 1212.7,122.1 1213.6,122.8 1214.5,123.5 1215.4,124.2 1216.3,124.9 1217.2,125.6 1218.1,126.3 1219.0,127.0 1219.9,127.7 1220.8,128.4 1221.6,129.2 1222.5,129.9 1223.4,130.6 1224.3,131.2 1225.2,131.9 1226.1,132.6 1227.0,133.3 1227.9,133.9 1228.8,134.6 1229.7,135.2 1230.5,135.8 1231.4,136.4 1232.3,137.0 1233.3,137.6 1234.2,138.1 1235.1,138.7 1236.0,139.2 1236.9,139.7 1237.8,140.1 1238.8,140.6 1239.7,141.0 1240.6,141.4 1241.6,141.7 1242.5,142.1 1243.5,142.4 1244.4,142.6 1245.4,142.9 1246.4,143.1 1247.3,143.2 1248.3,143.4 1249.3,143.5 1250.3,143.5 1251.3,143.6 1252.4,143.5 1253.4,143.5 1254.4,143.4 1255.5,143.2 1256.5,143.0 1257.6,142.8 1258.7,142.5 1259.7,142.2 1260.8,141.8 1261.9,141.4 1263.0,141.0 1264.1,140.5 1265.2,140.0 1266.3,139.5 1267.4,138.9 1268.5,138.3 1269.5,137.7 1270.6,137.0 1271.7,136.4 1272.7,135.7 1273.7,135.0 1274.8,134.3 1275.8,133.6 1276.7,132.8 1277.7,132.1 1278.7,131.3 1279.6,130.5 1280.5,129.8 1281.3,129.0 1282.2,128.3 1283.0,127.5 1283.8,126.7 1284.6,126.0 1285.4,125.3 1286.2,124.6 1287.0,123.9 1287.8,123.3 1288.6,122.7 1289.4,122.1 1290.2,121.6 1291.1,121.1 1292.0,120.6 1292.9,120.2 1293.8,119.9 1294.8,119.6 1295.7,119.3 1296.7,119.0 1297.8,118.8 1298.8,118.7 1299.8,118.5 1300.9,118.4 1302.0,118.3 1303.1,118.2 1304.1,118.2 1305.3,118.1 1306.4,118.1 1307.5,118.1 1308.6,118.1 1309.7,118.2 1310.9,118.2 1312.0,118.2 1313.1,118.3 1314.3,118.4 1315.4,118.4 1316.5,118.5 1317.7,118.6 1318.8,118.6 1319.9,118.7 1321.1,118.8 1322.2,118.9 1323.3,119.0 1324.4,119.1 1325.6,119.2 1326.7,119.3 1327.8,119.4 1328.9,119.6 1330.1,119.7 1331.2,119.9 1332.3,120.0 1333.4,120.1 1334.5,120.3 1335.6,120.5 1336.7,120.6 1337.8,120.8 1338.9,121.0 1340.0,121.2 1341.1,121.4 1342.2,121.6 1343.3,121.8 1344.3,122.0 1345.4,122.2 1346.5,122.5 1347.6,122.7 1348.6,123.0 1349.7,123.2 1350.7,123.5 1351.8,123.8 1352.8,124.0 1353.9,124.3 1354.9,124.6 1356.0,124.9 1357.0,125.2 1358.0,125.5 1359.0,125.8 1360.0,126.2 1361.1,126.5 1362.1,126.8 1363.1,127.2 1364.1,127.5 1365.1,127.9 1366.1,128.3 1367.1,128.6 1368.1,129.0 1369.1,129.3 1370.1,129.7 1371.1,130.1 1372.1,130.4 1373.1,130.8 1374.1,131.2 1375.2,131.5 1376.2,131.9 1377.2,132.2 1378.2,132.6 1379.3,132.9 1380.3,133.2 1381.4,133.6 1382.4,133.9 1383.5,134.2 1384.5,134.5 1385.6,134.8 1386.7,135.1 1387.8,135.4 1388.9,135.7 1390.0,135.9 1391.2,136.2 1392.3,136.4 1393.5,136.6 1394.6,136.9 1395.8,137.1 1396.9,137.3 1398.1,137.5 1399.3,137.8 1400.4,138.0 1401.6,138.2 1402.8,138.4 1403.9,138.7 1405.1,138.9 1406.2,139.2 1407.3,139.4 1408.5,139.7 1409.6,140.0 1410.7,140.3 1411.8,140.6 1412.8,141.0 1413.9,141.4 1414.9,141.8 1415.9,142.2 1416.9,142.6 1417.9,143.1 1418.9,143.5 1419.8,144.0 1420.8,144.5 1421.7,145.1 1422.6,145.6 1423.5,146.2 1424.4,146.8 1425.2,147.4 1426.1,148.0 1426.9,148.6 1427.8,149.3 1428.6,149.9 1429.4,150.6 1430.1,151.3 1430.9,152.0 1431.7,152.8 1432.4,153.5 1433.1,154.3 1433.8,155.0 1434.6,155.8 1435.3,156.6 1435.9,157.4 1436.6,158.2 1437.3,159.1 1437.9,159.9 1438.6,160.8 1439.2,161.6 1439.8,162.5 1440.4,163.4 1441.0,164.3 1441.6,165.2 1442.2,166.1 1442.8,167.0 1443.4,167.9 1443.9,168.9 1444.5,169.8 1445.0,170.8 1445.5,171.7 1446.1,172.7 1446.6,173.7 1447.1,174.6 1447.6,175.6 1448.1,176.6 1448.6,177.6 1449.1,178.6 1449.6,179.6 1450.1,180.6 1450.5,181.6 1451.0,182.6 1451.5,183.6 1451.9,184.7 1452.4,185.7 1452.8,186.7 1453.3,187.7 1453.7,188.7 1454.2,189.8 1454.6,190.8 1455.1,191.8 1455.5,192.8 1455.9,193.8 1456.3,194.9 1456.8,195.9 1457.2,196.9 1457.6,198.0 1458.0,199.0 1458.4,200.0 1458.8,201.0 1459.2,202.1 1459.6,203.1 1460.0,204.1 1460.4,205.2 1460.8,206.2 1461.2,207.3 1461.6,208.3 1461.9,209.3 1462.3,210.4 1462.7,211.4 1463.1,212.5 1463.4,213.5 1463.8,214.5 1464.2,215.6 1464.5,216.6 1464.9,217.7 1465.2,218.7 1465.6,219.8 1465.9,220.8 1466.3,221.9 1466.6,222.9 1467.0,223.9 1467.3,225.0 1467.6,226.0 1468.0,227.1 1468.3,228.2 1468.6,229.2 1468.9,230.3 1469.3,231.3 1469.6,232.4 1469.9,233.4 1470.2,234.5 1470.5,235.5 1470.9,236.6 1471.2,237.6 1471.5,238.7 1471.8,239.8 1472.1,240.8 1472.4,241.9 1472.7,242.9 1473.0,244.0 1473.3,245.1 1473.6,246.1 1473.9,247.2 1474.2,248.2 1474.5,249.3 1474.7,250.4 1475.0,251.4 1475.3,252.5 1475.6,253.6 1475.9,254.6 1476.1,255.7 1476.4,256.8 1476.7,257.8 1477.0,258.9 1477.2,260.0 1477.5,261.0 1477.8,262.1 1478.1,263.2 1478.3,264.2 1478.6,265.3 1478.9,266.4 1479.1,267.4 1479.4,268.5 1479.6,269.6 1479.9,270.6 1480.2,271.7 1480.4,272.8 1480.7,273.9 1480.9,274.9 1481.2,276.0 1481.4,277.1 1481.7,278.2 1481.9,279.2 1482.2,280.3 1482.4,281.4 1482.7,282.4 1482.9,283.5 1483.2,284.6 1483.4,285.7 1483.7,286.7 1483.9,287.8 1484.2,288.9 1484.4,290.0 1484.6,291.0 1484.9,292.1 1485.1,293.2 1485.4,294.3 1485.6,295.3 1485.8,296.4 1486.1,297.5 1486.3,298.6 1486.6,299.6 1486.8,300.7 1487.0,301.8 1487.3,302.9 1487.5,303.9 1487.7,305.0 1488.0,306.1 1488.2,307.2 1488.5,308.2 1488.7,309.3 1488.9,310.4 1489.2,311.5 1489.4,312.5 1489.6,313.6 1489.9,314.7 1490.1,315.8 1490.3,316.8 1490.6,317.9 1490.8,319.0 1491.0,320.1 1491.3,321.1 1491.5,322.2 1491.7,323.3 1492.0,324.4 1492.2,325.5 1492.4,326.5 1492.6,327.6 1492.9,328.7 1493.1,329.8 1493.3,330.8 1493.6,331.9 1493.8,333.0 1494.0,334.1 1494.2,335.1 1494.5,336.2 1494.7,337.3 1494.9,338.4 1495.1,339.5 1495.4,340.5 1495.6,341.6 1495.8,342.7 1496.0,343.8 1496.3,344.8 1496.5,345.9 1496.7,347.0 1496.9,348.1 1497.1,349.2 1497.4,350.2 1497.6,351.3 1497.8,352.4 1498.0,353.5 1498.2,354.5 1498.4,355.6 1498.7,356.7 1498.9,357.8 1499.1,358.9 1499.3,359.9 1499.5,361.0 1499.7,362.1 1499.9,363.2 1500.1,364.3 1500.4,365.3 1500.6,366.4 1500.8,367.5 1501.0,368.6 1501.2,369.7 1501.4,370.7 1501.6,371.8 1501.8,372.9 1502.0,374.0 1502.2,375.1 1502.4,376.1 1502.6,377.2 1502.8,378.3 1503.0,379.4 1503.2,380.5 1503.4,381.6 1503.6,382.6 1503.8,383.7 1504.0,384.8 1504.2,385.9 1504.4,387.0 1504.6,388.0 1504.8,389.1 1505.0,390.2 1505.2,391.3 1505.4,392.4 1505.5,393.5 1505.7,394.5 1505.9,395.6 1506.1,396.7 1506.3,397.8 1506.5,398.9 1506.7,400.0 1506.8,401.1 1507.0,402.1 1507.2,403.2 1507.4,404.3 1507.6,405.4 1507.7,406.5 1507.9,407.6 1508.1,408.7 1508.3,409.7 1508.4,410.8 1508.6,411.9 1508.8,413.0 1509.0,414.1 1509.1,415.2 1509.3,416.3 1509.5,417.4 1509.6,418.4 1509.8,419.5 1510.0,420.6 1510.1,421.7 1510.3,422.8 1510.4,423.9 1510.6,425.0 1510.8,426.1 1510.9,427.2 1511.1,428.2 1511.2,429.3 1511.4,430.4 1511.5,431.5 1511.7,432.6 1511.8,433.7 1512.0,434.8 1512.1,435.9 1512.3,437.0 1512.4,438.1 1512.6,439.2 1512.7,440.2 1512.9,441.3 1513.0,442.4 1513.1,443.5 1513.3,444.6 1513.4,445.7 1513.5,446.8 1513.7,447.9 1513.8,449.0 1513.9,450.1 1514.1,451.2 1514.2,452.3 1514.3,453.4 1514.5,454.5 1514.6,455.6 1514.7,456.7 1514.8,457.8 1514.9,458.8 1515.1,459.9 1515.2,461.0 1515.3,462.1 1515.4,463.2 1515.5,464.3 1515.7,465.4 1515.8,466.5 1515.9,467.6 1516.0,468.7 1516.1,469.8 1516.2,470.9 1516.3,472.0 1516.4,473.1 1516.5,474.2 1516.6,475.3 1516.7,476.4 1516.9,477.5 1517.0,478.6 1517.1,479.7 1517.2,480.8 1517.3,481.9 1517.4,483.0 1517.5,484.1 1517.6,485.2 1517.7,486.3 1517.8,487.4 1517.9,488.5 1518.0,489.6 1518.1,490.7 1518.2,491.8 1518.3,492.9 1518.4,494.0 1518.5,495.1 1518.6,496.2 1518.7,497.3 1518.8,498.4 1518.9,499.5 1519.0,500.6 1519.1,501.7 1519.3,502.8 1519.4,503.9 1519.5,505.0 1519.6,506.1 1519.7,507.2 1519.8,508.3 1519.9,509.4 1520.0,510.5 1520.1,511.6 1520.2,512.7 1520.4,513.8 1520.5,514.9 1520.6,516.0 1520.7,517.0 1520.8,518.1 1520.9,519.2 1521.1,520.3 1521.2,521.4 1521.3,522.5 1521.4,523.6 1521.6,524.7 1521.7,525.8 1521.8,526.9 1522.0,528.0 1522.1,529.1 1522.2,530.2 1522.4,531.2 1522.5,532.3 1522.6,533.4 1522.8,534.5 1522.9,535.6 1523.1,536.7 1523.2,537.8 1523.4,538.9 1523.5,539.9 1523.7,541.0 1523.8,542.1 1524.0,543.2 1524.2,544.3 1524.3,545.4 1524.5,546.5 1524.7,547.5 1524.8,548.6 1525.0,549.7 1525.2,550.8 1525.3,551.9 1525.5,552.9 1525.7,554.0 1525.9,555.1 1526.0,556.2 1526.2,557.3 1526.4,558.3 1526.6,559.4 1526.8,560.5 1526.9,561.6 1527.1,562.7 1527.3,563.8 1527.5,564.8 1527.7,565.9 1527.8,567.0 1528.0,568.1 1528.2,569.2 1528.4,570.3 1528.6,571.4 1528.7,572.4 1528.9,573.5 1529.1,574.6 1529.3,575.7 1529.4,576.8 1529.6,577.9 1529.8,579.0 1529.9,580.1 1530.1,581.2 1530.3,582.3 1530.4,583.4 1530.6,584.5 1530.7,585.6 1530.9,586.7 1531.0,587.8 1531.2,588.9 1531.3,590.0 1531.5,591.1 1531.6,592.3 1531.8,593.4 1531.9,594.5 1532.0,595.6 1532.2,596.7 1532.3,597.8 1532.5,598.9 1532.6,600.1 1532.8,601.2 1533.0,602.3 1533.3,603.4 1533.5,604.5 1533.8,605.5 1534.1,606.6 1534.4,607.7 1534.8,608.8 1535.2,609.8 1535.6,610.8 1536.1,611.9 1536.7,612.9 1537.2,613.8 1537.8,614.6 1538.5,615.3 1539.1,615.8 1539.8,616.2 1540.5,616.3 1541.1,616.2 1541.8,616.0 1542.3,615.6 1542.9,615.0 1543.3,614.3 1543.8,613.4 1544.1,612.5 1544.5,611.5 1544.8,610.4 1545.1,609.2 1545.4,608.1 1545.6,606.9 1545.9,605.7 1546.2,604.6 1546.4,603.4 1546.6,602.3 1546.9,601.1 1547.1,600.0 1547.3,598.8 1547.6,597.7 1547.8,596.5 1548.0,595.4 1548.2,594.3 1548.4,593.1 1548.6,592.0 1548.8,590.9 1549.0,589.8 1549.1,588.7 1549.3,587.5 1549.5,586.4 1549.7,585.3 1549.8,584.2 1550.0,583.1 1550.2,582.0 1550.3,580.9 1550.5,579.8 1550.6,578.7 1550.8,577.6 1550.9,576.5 1551.0,575.4 1551.2,574.3 1551.3,573.2 1551.4,572.1 1551.6,571.0 1551.7,569.9 1551.8,568.8 1552.0,567.8 1552.1,566.7 1552.2,565.6 1552.3,564.5 1552.5,563.4 1552.6,562.3 1552.7,561.2 1552.8,560.2 1552.9,559.1 1553.1,558.0 1553.2,556.9 1553.3,555.8 1553.4,554.7 1553.5,553.6 1553.6,552.6 1553.8,551.5 1553.9,550.4 1554.0,549.3 1554.1,548.2 1554.2,547.1 1554.4,546.0 1554.5,545.0 1554.6,543.9 1554.7,542.8 1554.8,541.7 1554.9,540.6 1555.1,539.5 1555.2,538.4 1555.3,537.3 1555.4,536.2 1555.5,535.2 1555.6,534.1 1555.8,533.0 1555.9,531.9 1556.0,530.8 1556.1,529.7 1556.2,528.6 1556.3,527.5 1556.5,526.4 1556.6,525.4 1556.7,524.3 1556.8,523.2 1556.9,522.1 1557.0,521.0 1557.2,519.9 1557.3,518.8 1557.4,517.7 1557.5,516.6 1557.6,515.5 1557.7,514.5 1557.9,513.4 1558.0,512.3 1558.1,511.2 1558.2,510.1 1558.3,509.0 1558.4,507.9 1558.6,506.8 1558.7,505.7 1558.8,504.6 1558.9,503.5 1559.0,502.4 1559.1,501.4 1559.2,500.3 1559.4,499.2 1559.5,498.1 1559.6,497.0 1559.7,495.9 1559.8,494.8 1559.9,493.7 1560.1,492.6 1560.2,491.5 1560.3,490.4 1560.4,489.3 1560.5,488.2 1560.6,487.1 1560.7,486.1 1560.9,485.0 1561.0,483.9 1561.1,482.8 1561.2,481.7 1561.3,480.6 1561.4,479.5 1561.5,478.4 1561.7,477.3 1561.8,476.2 1561.9,475.1 1562.0,474.0 1562.1,472.9 1562.2,471.8 1562.3,470.7 1562.5,469.6 1562.6,468.5 1562.7,467.5 1562.8,466.4 1562.9,465.3 1563.0,464.2 1563.2,463.1 1563.3,462.0 1563.4,460.9 1563.5,459.8 1563.6,458.7 1563.7,457.6 1563.8,456.5 1564.0,455.4 1564.1,454.3 1564.2,453.2 1564.3,452.1 1564.4,451.0 1564.5,449.9 1564.6,448.8 1564.8,447.7 1564.9,446.6 1565.0,445.5 1565.1,444.4 1565.2,443.3 1565.3,442.2 1565.4,441.2 1565.6,440.1 1565.7,439.0 1565.8,437.9 1565.9,436.8 1566.0,435.7 1566.1,434.6 1566.3,433.5 1566.4,432.4 1566.5,431.3 1566.6,430.2 1566.7,429.1 1566.8,428.0 1566.9,426.9 1567.1,425.8 1567.2,424.7 1567.3,423.6 1567.4,422.5 1567.5,421.4 1567.6,420.3 1567.8,419.2 1567.9,418.1 1568.0,417.0 1568.1,415.9 1568.2,414.8 1568.3,413.7 1568.4,412.6 1568.6,411.5 1568.7,410.4 1568.8,409.3 1568.9,408.2 1569.0,407.1 1569.1,406.0 1569.3,404.9 1569.4,403.8 1569.5,402.8 1569.6,401.7 1569.7,400.6 1569.8,399.5 1570.0,398.4 1570.1,397.3 1570.2,396.2 1570.3,395.1 1570.4,394.0 1570.5,392.9 1570.7,391.8 1570.8,390.7 1570.9,389.6 1571.0,388.5 1571.1,387.4 1571.2,386.3 1571.4,385.2 1571.5,384.1 1571.6,383.0 1571.7,381.9 1571.8,380.8 1571.9,379.7 1572.1,378.6 1572.2,377.5 1572.3,376.4 1572.4,375.3 1572.5,374.2 1572.7,373.1 1572.8,372.0 1572.9,370.9 1573.0,369.8 1573.1,368.7 1573.2,367.6 1573.4,366.5 1573.5,365.4 1573.6,364.3 1573.7,363.2 1573.8,362.1 1574.0,361.0 1574.1,359.9 1574.2,358.8 1574.3,357.7 1574.4,356.6 1574.6,355.5 1574.7,354.5 1574.8,353.4 1574.9,352.3 1575.0,351.2 1575.2,350.1 1575.3,349.0 1575.4,347.9 1575.5,346.8 1575.6,345.7 1575.8,344.6 1575.9,343.5 1576.0,342.4 1576.1,341.3 1576.2,340.2 1576.4,339.1 1576.5,338.0 1576.6,336.9 1576.7,335.8 1576.9,334.7 1577.0,333.6 1577.1,332.5 1577.2,331.4 1577.3,330.3 1577.5,329.2 1577.6,328.1 1577.7,327.0 1577.8,325.9 1578.0,324.8 1578.1,323.7 1578.2,322.6 1578.3,321.6 1578.5,320.5 1578.6,319.4 1578.7,318.3 1578.8,317.2 1579.0,316.1 1579.1,315.0 1579.2,313.9 1579.3,312.8 1579.5,311.7 1579.6,310.6 1579.7,309.5 1579.9,308.4 1580.0,307.3 1580.1,306.2 1580.2,305.1 1580.4,304.0 1580.5,302.9 1580.6,301.8 1580.8,300.7 1580.9,299.7 1581.0,298.6 1581.2,297.5 1581.3,296.4 1581.4,295.3 1581.6,294.2 1581.7,293.1 1581.8,292.0 1582.0,290.9 1582.1,289.8 1582.2,288.7 1582.4,287.6 1582.5,286.5 1582.6,285.4 1582.8,284.4 1582.9,283.3 1583.1,282.2 1583.2,281.1 1583.3,280.0 1583.5,278.9 1583.6,277.8 1583.8,276.7 1583.9,275.6 1584.1,274.5 1584.2,273.4 1584.3,272.4 1584.5,271.3 1584.6,270.2 1584.8,269.1 1584.9,268.0 1585.1,266.9 1585.2,265.8 1585.4,264.7 1585.5,263.6 1585.7,262.6 1585.8,261.5 1586.0,260.4 1586.1,259.3 1586.3,258.2 1586.4,257.1 1586.6,256.0 1586.7,254.9 1586.9,253.8 1587.0,252.8 1587.2,251.7 1587.4,250.6 1587.5,249.5 1587.7,248.4 1587.8,247.3 1588.0,246.2 1588.2,245.2 1588.3,244.1 1588.5,243.0 1588.7,241.9 1588.8,240.8 1589.0,239.7 1589.2,238.7 1589.3,237.6 1589.5,236.5 1589.7,235.4 1589.8,234.3 1590.0,233.2 1590.2,232.2 1590.3,231.1 1590.5,230.0 1590.7,228.9 1590.9,227.8 1591.0,226.7 1591.2,225.7 1591.4,224.6 1591.6,223.5 1591.8,222.4 1591.9,221.3 1592.1,220.3 1592.3,219.2 1592.5,218.1 1592.7,217.0 1592.9,215.9 1593.0,214.9 1593.2,213.8 1593.4,212.7 1593.6,211.6 1593.8,210.6 1594.0,209.5 1594.2,208.4 1594.4,207.3 1594.6,206.3 1594.8,205.2 1595.0,204.1 1595.2,203.0 1595.4,202.0 1595.6,200.9 1595.8,199.8 1596.0,198.7 1596.2,197.7 1596.4,196.6 1596.6,195.5 1596.8,194.4 1597.0,193.4 1597.2,192.3 1597.4,191.2 1597.6,190.1 1597.9,189.1 1598.1,188.0 1598.3,186.9 1598.5,185.9 1598.7,184.8 1599.0,183.7 1599.2,182.6 1599.4,181.6 1599.7,180.5 1599.9,179.4 1600.2,178.3 1600.4,177.3 1600.7,176.2 1600.9,175.1 1601.2,174.0 1601.4,173.0 1601.7,171.9 1602.0,170.8 1602.2,169.7 1602.5,168.6 1602.8,167.6 1603.1,166.5 1603.4,165.4 1603.6,164.3 1603.9,163.2 1604.2,162.2 1604.6,161.1 1604.9,160.0 1605.2,158.9 1605.5,157.8 1605.8,156.7 1606.2,155.6 1606.5,154.5 1606.8,153.5 1607.2,152.4 1607.5,151.3 1607.9,150.2 1608.3,149.1 1608.7,148.0 1609.0,147.0 1609.4,145.9 1609.9,144.8 1610.3,143.8 1610.7,142.7 1611.1,141.7 1611.6,140.6 1612.0,139.6 1612.5,138.6 1613.0,137.6 1613.5,136.6 1614.0,135.6 1614.6,134.7 1615.1,133.7 1615.7,132.8 1616.2,131.9 1616.8,131.0 1617.5,130.1 1618.1,129.2 1618.7,128.4 1619.4,127.5 1620.1,126.7 1620.8,125.9 1621.5,125.1 1622.2,124.4 1622.9,123.6 1623.7,122.9 1624.4,122.2 1625.2,121.4 1626.0,120.8 1626.8,120.1 1627.7,119.4 1628.5,118.8 1629.3,118.1 1630.2,117.5 1631.1,116.9 1631.9,116.3 1632.8,115.8 1633.7,115.2 1634.7,114.7 1635.6,114.1 1636.5,113.6 1637.5,113.1 1638.4,112.6 1639.4,112.1 1640.4,111.6 1641.3,111.2 1642.3,110.7 1643.3,110.3 1644.3,109.9 1645.4,109.4 1646.4,109.0 1647.4,108.6 1648.4,108.3 1649.5,107.9 1650.5,107.5 1651.6,107.2 1652.6,106.8 1653.7,106.5 1654.8,106.2 1655.8,105.8 1656.9,105.5 1658.0,105.2 1659.1,104.9 1660.1,104.6 1661.2,104.4 1662.3,104.1 1663.4,103.8 1664.5,103.6 1665.6,103.3 1666.7,103.1 1667.8,102.9 1668.9,102.6 1670.0,102.4 1671.1,102.2 1672.2,102.0 1673.3,101.8 1674.4,101.6 1675.5,101.4 1676.6,101.2 1677.6,101.0 1678.7,100.8 1679.8,100.7 1680.9,100.5 1682.0,100.3 1683.1,100.2 1684.2,100.0 1685.3,99.9 1686.4,99.7 1687.5,99.6 1688.6,99.5 1689.7,99.3 1690.8,99.2 1691.9,99.1 1693.0,99.0 1694.1,98.9 1695.2,98.8 1696.3,98.7 1697.4,98.6 1698.5,98.5 1699.6,98.4 1700.7,98.3 1701.8,98.2 1702.9,98.1 1704.0,98.0 1705.1,98.0 1706.2,97.9 1707.3,97.8 1708.4,97.8 1709.5,97.7 1710.6,97.6 1711.6,97.6 1712.7,97.5 1713.8,97.5 1714.9,97.4 1716.0,97.4 1717.1,97.3 1718.2,97.3 1719.3,97.3 1720.4,97.2 1721.5,97.2 1722.6,97.2 1723.7,97.1 1724.8,97.1 1725.9,97.1 1727.0,97.0 1728.1,97.0 1729.2,97.0 1730.3,97.0 1731.4,97.0 1732.5,96.9 1733.6,96.9 1734.7,96.9 1735.8,96.9 1736.9,96.9 1738.0,96.9 1739.1,96.9 1740.2,96.8 1741.3,96.8 1742.4,96.8 1743.5,96.8 1744.6,96.8 1745.7,96.8 1746.8,96.8 1747.9,96.8 1749.0,96.8 1750.1,96.7 1751.2,96.7 1752.3,96.7 1753.4,96.7 1754.5,96.7 1755.6,96.7 1756.7,96.7 1757.8,96.7 1758.9,96.7 1760.0,96.6 1761.1,96.6 1762.2,96.6 1763.3,96.6 1764.4,96.6 1765.5,96.6 1766.6,96.6 1767.7,96.5 1768.8,96.5 1769.9,96.5 1771.0,96.5 1772.1,96.5 1773.2,96.5 1774.3,96.5 1775.4,96.5 1776.5,96.4 1777.6,96.4 1778.7,96.4 1779.8,96.4 1780.9,96.4 1782.0,96.4 1783.1,96.4 1784.2,96.3 1785.3,96.3 1786.4,96.3 1787.5,96.3 1788.6,96.3 1789.7,96.3 1790.8,96.2 1791.9,96.2 1793.0,96.2 1794.1,96.2 1795.3,96.2 1796.4,96.2 1797.5,96.2 1798.6,96.1 1799.7,96.1 1800.8,96.1 1801.9,96.1 1803.0,96.1 1804.1,96.1 1805.2,96.1 1806.3,96.0 1807.4,96.0 1808.5,96.0 1809.6,96.0 1810.7,96.0 1811.8,96.0 1812.9,96.0 1814.0,95.9 1815.1,95.9 1816.2,95.9 1817.3,95.9 1818.4,95.9 1819.5,95.9 1820.6,95.9 1821.7,95.9 1822.8,95.8 1823.9,95.8 1825.0,95.8 1826.1,95.8 1827.2,95.8 1828.3,95.8 1829.4,95.8 1830.5,95.8 1831.6,95.8 1832.7,95.7 1833.8,95.7 1834.9,95.7 1836.0,95.7 1837.1,95.7 1838.2,95.7 1839.3,95.7 1840.4,95.7 1841.5,95.7 1842.6,95.7 1843.7,95.7 1844.9,95.6 1846.0,95.6 1847.1,95.6 1848.2,95.6 1849.3,95.6 1850.4,95.6 1851.5,95.6 1852.6,95.6 1853.7,95.6 1854.8,95.6 1855.9,95.6 1857.0,95.6 1858.1,95.6 1859.2,95.5 1860.3,95.5 1861.4,95.5 1862.5,95.5 1863.6,95.5 1864.7,95.5 1865.8,95.5 1866.9,95.5 1868.0,95.5 1869.1,95.5 1870.2,95.5 1871.3,95.5 1872.4,95.5 1873.5,95.5 1874.6,95.5 1875.7,95.5 1876.8,95.4 1877.9,95.4 1879.0,95.4 1880.1,95.4 1881.2,95.4 1882.3,95.4 1883.4,95.4 1884.5,95.4 1885.6,95.4 1886.7,95.4 1887.8,95.4 1888.9,95.4 1890.0,95.4 1891.1,95.4 1892.2,95.4 1893.3,95.4 1894.4,95.4 1895.5,95.4 1896.6,95.3 1897.7,95.3 1898.8,95.3 1899.9,95.3 1901.0,95.3 1902.1,95.3 1903.2,95.3 1904.3,95.3 1905.4,95.3 1906.5,95.3 1907.6,95.3 1908.7,95.3 1909.8,95.3 1910.9,95.3 1912.0,95.3 1913.1,95.3 1914.2,95.3 1915.3,95.3 1916.4,95.2 1917.5,95.2 1918.6,95.2 1919.7,95.2 1920.8,95.2 1921.9,95.2 1923.0,95.2 1924.1,95.2 1925.2,95.2 1926.3,95.2 1927.4,95.2 1928.5,95.2 1929.6,95.2 1930.7,95.2 1931.8,95.2 1932.9,95.2 1934.0,95.1 1935.1,95.1 1936.2,95.1 1937.3,95.1 1938.4,95.1 1939.5,95.1 1940.6,95.1 1941.7,95.1 1942.8,95.1 1943.9,95.1 1945.0,95.1 1946.1,95.1 1947.3,95.0 1948.4,95.0 1949.5,95.0 1950.6,95.0 1951.7,95.0 1952.8,95.0 1953.9,95.0 1955.0,95.0 1956.1,95.0 1957.2,95.0 1958.3,95.0 1959.4,94.9 1960.5,94.9 1961.6,94.9 1962.7,94.9 1963.8,94.9 1964.9,94.9 1966.0,94.9 1967.1,94.9 1968.2,94.9 1969.3,94.8 1970.4,94.8 1971.5,94.8 1972.6,94.8 1973.7,94.8 1974.8,94.8 1975.9,94.8 1977.0,94.8" stroke="#9A6CB4" stroke-width="2.3" fill="none" stroke-linejoin="round" stroke-linecap="round" clip-path="url(#cb)"/>
<path d="M1102.0,108.1 1102.0,108.1 1102.1,108.1 1102.1,108.2 1102.2,108.2 1102.2,108.3 1102.3,108.3 1102.4,108.4 1102.4,108.4 1102.5,108.5 1102.6,108.5 1102.7,108.6 1102.7,108.6 1102.8,108.7 1102.9,108.7 1103.0,108.7 1103.0,108.7 1103.1,108.8 1103.2,108.7 1103.2,108.7 1103.3,108.7 1103.8,108.4 1104.2,108.0 1104.7,107.6 1105.2,107.2 1105.6,106.8 1106.1,106.4 1106.5,106.0 1107.0,105.6 1107.4,105.1 1107.9,104.7 1108.3,104.2 1108.8,103.8 1109.3,103.4 1109.7,103.0 1110.2,102.6 1110.7,102.2 1111.2,101.9 1111.7,101.6 1112.2,101.3 1112.7,101.0 1113.1,100.8 1113.5,100.7 1114.0,100.5 1114.4,100.4 1114.9,100.3 1115.3,100.3 1115.8,100.2 1116.3,100.2 1116.7,100.1 1117.2,100.1 1117.7,100.1 1118.2,100.1 1118.7,100.1 1119.1,100.0 1119.6,100.0 1120.1,100.0 1120.6,100.0 1121.1,100.0 1121.5,99.9 1122.0,99.9 1122.8,99.8 1123.7,99.7 1124.6,99.6 1125.6,99.5 1126.5,99.4 1127.5,99.3 1128.4,99.2 1129.4,99.1 1130.3,99.0 1131.3,98.9 1132.2,98.8 1133.1,98.7 1133.9,98.7 1134.8,98.6 1135.5,98.5 1136.3,98.4 1136.9,98.4 1137.5,98.3 1138.0,98.2 1138.5,98.2 1139.6,98.2 1140.7,98.2 1141.8,98.2 1142.9,98.2 1144.0,98.2 1145.1,98.2 1146.2,98.2 1147.3,98.2 1148.4,98.3 1149.5,98.3 1150.6,98.3 1151.7,98.4 1152.8,98.4 1153.9,98.5 1155.0,98.6 1156.1,98.6 1157.2,98.7 1158.3,98.8 1159.4,98.9 1160.5,99.0 1161.6,99.1 1162.7,99.2 1163.9,99.3 1165.0,99.5 1166.1,99.6 1167.2,99.8 1168.3,99.9 1169.4,100.1 1170.5,100.2 1171.6,100.4 1172.6,100.6 1173.7,100.8 1174.8,101.0 1175.9,101.2 1177.0,101.4 1178.1,101.6 1179.2,101.8 1180.2,102.1 1181.3,102.3 1182.4,102.6 1183.5,102.8 1184.5,103.1 1185.6,103.4 1186.6,103.7 1187.7,104.0 1188.7,104.3 1189.8,104.6 1190.8,104.9 1191.9,105.2 1192.9,105.6 1193.9,105.9 1194.9,106.3 1196.0,106.7 1197.0,107.1 1198.0,107.5 1199.0,107.9 1200.0,108.3 1201.0,108.7 1202.0,109.1 1202.9,109.6 1203.9,110.0 1204.9,110.5 1205.9,111.0 1206.8,111.5 1207.8,111.9 1208.7,112.5 1209.6,113.0 1210.6,113.5 1211.5,114.0 1212.4,114.6 1213.3,115.1 1214.2,115.7 1215.1,116.3 1216.0,116.9 1216.9,117.5 1217.8,118.1 1218.7,118.7 1219.6,119.3 1220.5,119.9 1221.3,120.6 1222.2,121.2 1223.1,121.9 1223.9,122.5 1224.8,123.2 1225.7,123.9 1226.5,124.6 1227.4,125.2 1228.2,125.9 1229.1,126.6 1229.9,127.3 1230.8,128.1 1231.7,128.8 1232.5,129.5 1233.4,130.2 1234.2,131.0 1235.1,131.7 1235.9,132.4 1236.8,133.2 1237.6,133.9 1238.5,134.7 1239.4,135.5 1240.2,136.2 1241.1,137.0 1242.0,137.8 1242.9,138.5 1243.7,139.3 1244.6,140.1 1245.5,140.9 1246.4,141.6 1247.3,142.4 1248.2,143.2 1249.1,143.9 1250.0,144.7 1250.9,145.4 1251.8,146.2 1252.7,146.9 1253.6,147.6 1254.5,148.3 1255.5,148.9 1256.4,149.5 1257.3,150.2 1258.3,150.7 1259.2,151.3 1260.1,151.8 1261.1,152.3 1262.0,152.7 1263.0,153.1 1264.0,153.5 1264.9,153.8 1265.9,154.1 1266.9,154.4 1267.8,154.5 1268.8,154.7 1269.8,154.8 1270.8,154.8 1271.8,154.8 1272.8,154.7 1273.8,154.6 1274.8,154.4 1275.8,154.2 1276.8,153.9 1277.8,153.6 1278.9,153.2 1279.9,152.8 1280.9,152.4 1281.9,152.0 1282.9,151.5 1283.9,151.0 1284.9,150.5 1286.0,150.0 1287.0,149.5 1288.0,148.9 1289.0,148.4 1290.0,147.8 1291.0,147.3 1292.0,146.7 1293.0,146.2 1293.9,145.7 1294.9,145.1 1295.9,144.6 1296.9,144.0 1297.9,143.5 1298.8,143.0 1299.8,142.5 1300.8,141.9 1301.7,141.4 1302.7,140.9 1303.7,140.4 1304.6,139.9 1305.6,139.4 1306.6,138.9 1307.5,138.4 1308.5,137.9 1309.5,137.5 1310.5,137.0 1311.4,136.5 1312.4,136.1 1313.4,135.6 1314.4,135.2 1315.3,134.8 1316.3,134.4 1317.3,134.0 1318.3,133.6 1319.3,133.2 1320.3,132.8 1321.3,132.4 1322.3,132.1 1323.3,131.7 1324.4,131.4 1325.4,131.1 1326.4,130.7 1327.4,130.4 1328.5,130.2 1329.5,129.9 1330.6,129.6 1331.7,129.4 1332.7,129.1 1333.8,128.9 1334.9,128.7 1336.0,128.5 1337.1,128.3 1338.2,128.2 1339.3,128.0 1340.4,127.9 1341.5,127.8 1342.6,127.7 1343.7,127.6 1344.8,127.5 1345.9,127.5 1347.1,127.4 1348.2,127.4 1349.3,127.4 1350.4,127.4 1351.5,127.4 1352.7,127.4 1353.8,127.5 1354.9,127.6 1356.0,127.7 1357.1,127.8 1358.3,127.9 1359.4,128.0 1360.5,128.2 1361.6,128.3 1362.7,128.5 1363.8,128.7 1364.9,128.9 1365.9,129.2 1367.0,129.4 1368.1,129.7 1369.1,130.0 1370.2,130.3 1371.3,130.6 1372.3,131.0 1373.3,131.4 1374.3,131.7 1375.4,132.1 1376.4,132.6 1377.4,133.0 1378.3,133.5 1379.3,133.9 1380.3,134.4 1381.2,135.0 1382.2,135.5 1383.1,136.1 1384.0,136.6 1384.9,137.2 1385.8,137.8 1386.7,138.5 1387.5,139.1 1388.4,139.8 1389.2,140.5 1390.0,141.2 1390.8,141.9 1391.6,142.7 1392.4,143.4 1393.2,144.2 1394.0,145.0 1394.7,145.7 1395.5,146.5 1396.3,147.3 1397.0,148.1 1397.8,148.9 1398.6,149.7 1399.3,150.5 1400.1,151.3 1400.9,152.0 1401.7,152.8 1402.4,153.6 1403.2,154.4 1404.0,155.1 1404.9,155.9 1405.7,156.6 1406.5,157.3 1407.4,158.0 1408.2,158.7 1409.1,159.3 1410.0,160.0 1410.9,160.6 1411.9,161.2 1412.8,161.8 1413.8,162.3 1414.8,162.8 1415.8,163.3 1416.8,163.8 1417.9,164.3 1418.9,164.8 1420.0,165.2 1421.0,165.7 1422.1,166.1 1423.2,166.5 1424.2,167.0 1425.3,167.4 1426.4,167.8 1427.5,168.2 1428.5,168.6 1429.6,169.1 1430.7,169.5 1431.7,169.9 1432.7,170.4 1433.8,170.8 1434.8,171.3 1435.8,171.8 1436.8,172.3 1437.8,172.8 1438.7,173.3 1439.7,173.9 1440.6,174.5 1441.5,175.1 1442.4,175.7 1443.3,176.3 1444.1,176.9 1445.0,177.6 1445.8,178.2 1446.6,178.9 1447.4,179.6 1448.2,180.3 1449.0,181.0 1449.7,181.8 1450.5,182.5 1451.2,183.3 1451.9,184.1 1452.6,184.9 1453.3,185.7 1454.0,186.5 1454.7,187.3 1455.4,188.1 1456.0,189.0 1456.6,189.8 1457.3,190.7 1457.9,191.6 1458.5,192.5 1459.1,193.4 1459.7,194.3 1460.2,195.2 1460.8,196.1 1461.3,197.1 1461.9,198.0 1462.4,199.0 1462.9,199.9 1463.5,200.9 1464.0,201.8 1464.5,202.8 1465.0,203.8 1465.5,204.8 1465.9,205.8 1466.4,206.8 1466.9,207.8 1467.3,208.8 1467.8,209.8 1468.2,210.9 1468.6,211.9 1469.1,212.9 1469.5,213.9 1469.9,215.0 1470.3,216.0 1470.7,217.1 1471.1,218.1 1471.5,219.1 1471.9,220.2 1472.3,221.2 1472.7,222.3 1473.1,223.3 1473.5,224.4 1473.9,225.4 1474.2,226.5 1474.6,227.5 1475.0,228.6 1475.3,229.6 1475.7,230.7 1476.1,231.8 1476.4,232.8 1476.8,233.9 1477.1,234.9 1477.5,236.0 1477.8,237.0 1478.1,238.1 1478.5,239.1 1478.8,240.2 1479.2,241.2 1479.5,242.3 1479.8,243.3 1480.1,244.4 1480.5,245.5 1480.8,246.5 1481.1,247.6 1481.4,248.6 1481.7,249.7 1482.0,250.7 1482.4,251.8 1482.7,252.9 1483.0,253.9 1483.3,255.0 1483.6,256.0 1483.9,257.1 1484.2,258.2 1484.5,259.2 1484.8,260.3 1485.1,261.3 1485.4,262.4 1485.6,263.5 1485.9,264.5 1486.2,265.6 1486.5,266.6 1486.8,267.7 1487.1,268.8 1487.4,269.8 1487.6,270.9 1487.9,271.9 1488.2,273.0 1488.5,274.1 1488.8,275.1 1489.0,276.2 1489.3,277.3 1489.6,278.3 1489.8,279.4 1490.1,280.5 1490.4,281.5 1490.6,282.6 1490.9,283.7 1491.2,284.7 1491.4,285.8 1491.7,286.9 1492.0,287.9 1492.2,289.0 1492.5,290.1 1492.8,291.1 1493.0,292.2 1493.3,293.3 1493.5,294.3 1493.8,295.4 1494.0,296.5 1494.3,297.5 1494.5,298.6 1494.8,299.7 1495.0,300.7 1495.3,301.8 1495.5,302.9 1495.8,303.9 1496.0,305.0 1496.3,306.1 1496.5,307.2 1496.8,308.2 1497.0,309.3 1497.2,310.4 1497.5,311.4 1497.7,312.5 1498.0,313.6 1498.2,314.7 1498.4,315.7 1498.7,316.8 1498.9,317.9 1499.1,318.9 1499.4,320.0 1499.6,321.1 1499.8,322.2 1500.0,323.2 1500.3,324.3 1500.5,325.4 1500.7,326.5 1501.0,327.5 1501.2,328.6 1501.4,329.7 1501.6,330.8 1501.9,331.8 1502.1,332.9 1502.3,334.0 1502.5,335.1 1502.7,336.1 1503.0,337.2 1503.2,338.3 1503.4,339.4 1503.6,340.5 1503.8,341.5 1504.0,342.6 1504.2,343.7 1504.5,344.8 1504.7,345.8 1504.9,346.9 1505.1,348.0 1505.3,349.1 1505.5,350.2 1505.7,351.2 1505.9,352.3 1506.1,353.4 1506.3,354.5 1506.5,355.6 1506.7,356.6 1506.9,357.7 1507.2,358.8 1507.4,359.9 1507.6,361.0 1507.8,362.0 1508.0,363.1 1508.2,364.2 1508.4,365.3 1508.6,366.4 1508.7,367.4 1508.9,368.5 1509.1,369.6 1509.3,370.7 1509.5,371.8 1509.7,372.9 1509.9,373.9 1510.1,375.0 1510.3,376.1 1510.5,377.2 1510.7,378.3 1510.9,379.3 1511.1,380.4 1511.3,381.5 1511.4,382.6 1511.6,383.7 1511.8,384.8 1512.0,385.9 1512.2,386.9 1512.4,388.0 1512.6,389.1 1512.7,390.2 1512.9,391.3 1513.1,392.4 1513.3,393.4 1513.5,394.5 1513.7,395.6 1513.8,396.7 1514.0,397.8 1514.2,398.9 1514.4,400.0 1514.6,401.0 1514.7,402.1 1514.9,403.2 1515.1,404.3 1515.3,405.4 1515.4,406.5 1515.6,407.6 1515.8,408.7 1516.0,409.7 1516.1,410.8 1516.3,411.9 1516.5,413.0 1516.7,414.1 1516.8,415.2 1517.0,416.3 1517.2,417.4 1517.4,418.4 1517.5,419.5 1517.7,420.6 1517.9,421.7 1518.0,422.8 1518.2,423.9 1518.4,425.0 1518.6,426.1 1518.7,427.1 1518.9,428.2 1519.1,429.3 1519.2,430.4 1519.4,431.5 1519.6,432.6 1519.7,433.7 1519.9,434.8 1520.1,435.9 1520.2,436.9 1520.4,438.0 1520.6,439.1 1520.7,440.2 1520.9,441.3 1521.1,442.4 1521.2,443.5 1521.4,444.6 1521.5,445.7 1521.7,446.8 1521.9,447.8 1522.0,448.9 1522.2,450.0 1522.4,451.1 1522.5,452.2 1522.7,453.3 1522.8,454.4 1523.0,455.5 1523.2,456.6 1523.3,457.7 1523.5,458.8 1523.7,459.9 1523.8,460.9 1524.0,462.0 1524.1,463.1 1524.3,464.2 1524.5,465.3 1524.6,466.4 1524.8,467.5 1524.9,468.6 1525.1,469.7 1525.2,470.8 1525.4,471.9 1525.6,473.0 1525.7,474.0 1525.9,475.1 1526.0,476.2 1526.2,477.3 1526.4,478.4 1526.5,479.5 1526.7,480.6 1526.8,481.7 1527.0,482.8 1527.1,483.9 1527.3,485.0 1527.5,486.1 1527.6,487.2 1527.8,488.2 1527.9,489.3 1528.1,490.4 1528.2,491.5 1528.4,492.6 1528.6,493.7 1528.7,494.8 1528.9,495.9 1529.0,497.0 1529.2,498.1 1529.4,499.2 1529.5,500.3 1529.7,501.4 1529.8,502.5 1530.0,503.5 1530.1,504.6 1530.3,505.7 1530.5,506.8 1530.6,507.9 1530.8,509.0 1530.9,510.1 1531.1,511.2 1531.2,512.3 1531.4,513.4 1531.6,514.5 1531.7,515.6 1531.9,516.7 1532.0,517.7 1532.2,518.8 1532.3,519.9 1532.5,521.0 1532.7,522.1 1532.8,523.2 1533.0,524.3 1533.1,525.4 1533.3,526.5 1533.5,527.5 1533.6,528.6 1533.8,529.7 1533.9,530.8 1534.1,531.9 1534.2,533.0 1534.4,534.1 1534.6,535.1 1534.7,536.2 1534.9,537.3 1535.0,538.4 1535.2,539.4 1535.3,540.5 1535.5,541.6 1535.7,542.7 1535.8,543.7 1536.0,544.8 1536.1,545.9 1536.3,547.0 1536.4,548.0 1536.6,549.1 1536.7,550.2 1536.9,551.2 1537.1,552.3 1537.2,553.4 1537.4,554.4 1537.5,555.5 1537.7,556.6 1537.9,557.6 1538.1,558.7 1538.3,559.8 1538.5,560.8 1538.7,561.9 1538.9,563.0 1539.1,564.1 1539.3,565.2 1539.6,566.3 1539.8,567.4 1540.1,568.5 1540.4,569.6 1540.7,570.7 1541.0,571.9 1541.4,573.0 1541.7,574.2 1542.1,575.3 1542.5,576.5 1542.9,577.7 1543.4,578.9 1543.9,580.1 1544.4,581.2 1544.9,582.3 1545.4,583.2 1545.9,583.9 1546.5,584.3 1547.1,584.3 1547.6,584.0 1548.0,583.5 1548.5,582.6 1548.9,581.7 1549.3,580.7 1549.6,579.7 1550.0,578.7 1550.3,577.6 1550.6,576.6 1551.0,575.6 1551.3,574.6 1551.6,573.5 1551.9,572.5 1552.1,571.4 1552.4,570.4 1552.7,569.3 1552.9,568.3 1553.2,567.2 1553.4,566.2 1553.6,565.1 1553.9,564.0 1554.1,563.0 1554.3,561.9 1554.5,560.8 1554.7,559.7 1554.8,558.7 1555.0,557.6 1555.2,556.5 1555.4,555.4 1555.5,554.3 1555.7,553.2 1555.9,552.1 1556.0,551.0 1556.1,549.9 1556.3,548.9 1556.4,547.8 1556.6,546.7 1556.7,545.6 1556.8,544.5 1557.0,543.4 1557.1,542.3 1557.2,541.2 1557.4,540.1 1557.5,539.0 1557.6,537.9 1557.7,536.8 1557.9,535.7 1558.0,534.6 1558.1,533.5 1558.3,532.4 1558.4,531.3 1558.5,530.2 1558.6,529.1 1558.8,528.0 1558.9,526.9 1559.0,525.8 1559.1,524.7 1559.3,523.6 1559.4,522.5 1559.5,521.4 1559.6,520.3 1559.8,519.2 1559.9,518.1 1560.0,517.0 1560.1,515.9 1560.3,514.8 1560.4,513.7 1560.5,512.6 1560.6,511.5 1560.8,510.4 1560.9,509.3 1561.0,508.2 1561.1,507.1 1561.3,506.0 1561.4,504.9 1561.5,503.8 1561.6,502.7 1561.8,501.6 1561.9,500.5 1562.0,499.4 1562.1,498.3 1562.3,497.2 1562.4,496.1 1562.5,495.0 1562.6,493.9 1562.8,492.8 1562.9,491.7 1563.0,490.7 1563.1,489.6 1563.2,488.5 1563.4,487.4 1563.5,486.3 1563.6,485.2 1563.7,484.1 1563.9,483.0 1564.0,481.9 1564.1,480.8 1564.2,479.7 1564.3,478.6 1564.5,477.5 1564.6,476.4 1564.7,475.3 1564.8,474.2 1564.9,473.1 1565.1,472.0 1565.2,470.9 1565.3,469.8 1565.4,468.7 1565.6,467.6 1565.7,466.6 1565.8,465.5 1565.9,464.4 1566.0,463.3 1566.2,462.2 1566.3,461.1 1566.4,460.0 1566.5,458.9 1566.6,457.8 1566.8,456.7 1566.9,455.6 1567.0,454.5 1567.1,453.4 1567.2,452.3 1567.4,451.2 1567.5,450.1 1567.6,449.0 1567.7,447.9 1567.8,446.9 1568.0,445.8 1568.1,444.7 1568.2,443.6 1568.3,442.5 1568.4,441.4 1568.6,440.3 1568.7,439.2 1568.8,438.1 1568.9,437.0 1569.0,435.9 1569.2,434.8 1569.3,433.7 1569.4,432.6 1569.5,431.5 1569.6,430.4 1569.7,429.4 1569.9,428.3 1570.0,427.2 1570.1,426.1 1570.2,425.0 1570.3,423.9 1570.5,422.8 1570.6,421.7 1570.7,420.6 1570.8,419.5 1570.9,418.4 1571.1,417.3 1571.2,416.2 1571.3,415.1 1571.4,414.0 1571.5,413.0 1571.6,411.9 1571.8,410.8 1571.9,409.7 1572.0,408.6 1572.1,407.5 1572.2,406.4 1572.4,405.3 1572.5,404.2 1572.6,403.1 1572.7,402.0 1572.8,400.9 1572.9,399.8 1573.1,398.7 1573.2,397.7 1573.3,396.6 1573.4,395.5 1573.5,394.4 1573.7,393.3 1573.8,392.2 1573.9,391.1 1574.0,390.0 1574.1,388.9 1574.2,387.8 1574.4,386.7 1574.5,385.6 1574.6,384.5 1574.7,383.4 1574.8,382.4 1575.0,381.3 1575.1,380.2 1575.2,379.1 1575.3,378.0 1575.4,376.9 1575.5,375.8 1575.7,374.7 1575.8,373.6 1575.9,372.5 1576.0,371.4 1576.1,370.3 1576.3,369.2 1576.4,368.1 1576.5,367.0 1576.6,366.0 1576.7,364.9 1576.8,363.8 1577.0,362.7 1577.1,361.6 1577.2,360.5 1577.3,359.4 1577.4,358.3 1577.6,357.2 1577.7,356.1 1577.8,355.0 1577.9,353.9 1578.0,352.8 1578.1,351.7 1578.3,350.6 1578.4,349.6 1578.5,348.5 1578.6,347.4 1578.7,346.3 1578.9,345.2 1579.0,344.1 1579.1,343.0 1579.2,341.9 1579.3,340.8 1579.5,339.7 1579.6,338.6 1579.7,337.5 1579.8,336.4 1579.9,335.3 1580.1,334.2 1580.2,333.2 1580.3,332.1 1580.4,331.0 1580.5,329.9 1580.7,328.8 1580.8,327.7 1580.9,326.6 1581.0,325.5 1581.2,324.4 1581.3,323.3 1581.4,322.2 1581.5,321.1 1581.7,320.0 1581.8,318.9 1581.9,317.8 1582.0,316.8 1582.2,315.7 1582.3,314.6 1582.4,313.5 1582.5,312.4 1582.7,311.3 1582.8,310.2 1582.9,309.1 1583.0,308.0 1583.2,306.9 1583.3,305.8 1583.4,304.7 1583.6,303.6 1583.7,302.5 1583.8,301.4 1584.0,300.4 1584.1,299.3 1584.2,298.2 1584.4,297.1 1584.5,296.0 1584.6,294.9 1584.8,293.8 1584.9,292.7 1585.0,291.6 1585.2,290.5 1585.3,289.4 1585.4,288.3 1585.6,287.2 1585.7,286.1 1585.8,285.1 1586.0,284.0 1586.1,282.9 1586.3,281.8 1586.4,280.7 1586.5,279.6 1586.7,278.5 1586.8,277.4 1587.0,276.3 1587.1,275.2 1587.3,274.1 1587.4,273.0 1587.6,271.9 1587.7,270.9 1587.8,269.8 1588.0,268.7 1588.1,267.6 1588.3,266.5 1588.4,265.4 1588.6,264.3 1588.7,263.2 1588.9,262.1 1589.0,261.0 1589.2,259.9 1589.4,258.8 1589.5,257.8 1589.7,256.7 1589.8,255.6 1590.0,254.5 1590.1,253.4 1590.3,252.3 1590.5,251.2 1590.6,250.1 1590.8,249.0 1590.9,247.9 1591.1,246.8 1591.3,245.8 1591.4,244.7 1591.6,243.6 1591.8,242.5 1591.9,241.4 1592.1,240.3 1592.3,239.2 1592.4,238.1 1592.6,237.0 1592.8,235.9 1592.9,234.9 1593.1,233.8 1593.3,232.7 1593.5,231.6 1593.6,230.5 1593.8,229.4 1594.0,228.3 1594.2,227.2 1594.4,226.1 1594.5,225.1 1594.7,224.0 1594.9,222.9 1595.1,221.8 1595.3,220.7 1595.5,219.6 1595.6,218.5 1595.8,217.4 1596.0,216.3 1596.2,215.3 1596.4,214.2 1596.6,213.1 1596.8,212.0 1597.0,210.9 1597.2,209.8 1597.4,208.7 1597.6,207.6 1597.8,206.6 1598.0,205.5 1598.2,204.4 1598.4,203.3 1598.6,202.2 1598.8,201.1 1599.0,200.0 1599.2,199.0 1599.5,197.9 1599.7,196.8 1599.9,195.7 1600.1,194.6 1600.3,193.6 1600.6,192.5 1600.8,191.4 1601.1,190.3 1601.3,189.3 1601.5,188.2 1601.8,187.1 1602.0,186.0 1602.3,185.0 1602.5,183.9 1602.8,182.8 1603.1,181.8 1603.3,180.7 1603.6,179.6 1603.9,178.6 1604.2,177.5 1604.4,176.4 1604.7,175.4 1605.0,174.3 1605.3,173.3 1605.6,172.2 1605.9,171.2 1606.3,170.1 1606.6,169.1 1606.9,168.0 1607.2,167.0 1607.5,165.9 1607.9,164.9 1608.2,163.9 1608.6,162.8 1608.9,161.8 1609.3,160.7 1609.7,159.7 1610.0,158.7 1610.4,157.7 1610.8,156.6 1611.2,155.6 1611.6,154.6 1612.0,153.6 1612.4,152.5 1612.8,151.5 1613.2,150.5 1613.6,149.5 1614.1,148.5 1614.5,147.5 1615.0,146.5 1615.4,145.5 1615.9,144.5 1616.3,143.5 1616.8,142.5 1617.3,141.5 1617.8,140.5 1618.3,139.6 1618.8,138.6 1619.3,137.6 1619.8,136.6 1620.4,135.7 1620.9,134.7 1621.4,133.7 1622.0,132.8 1622.6,131.8 1623.1,130.9 1623.7,129.9 1624.3,129.0 1624.9,128.1 1625.5,127.2 1626.1,126.3 1626.8,125.4 1627.4,124.5 1628.1,123.6 1628.8,122.8 1629.4,121.9 1630.1,121.1 1630.8,120.3 1631.6,119.5 1632.3,118.7 1633.1,117.9 1633.8,117.2 1634.6,116.5 1635.4,115.7 1636.2,115.1 1637.0,114.4 1637.9,113.7 1638.8,113.1 1639.6,112.5 1640.5,112.0 1641.4,111.4 1642.4,110.9 1643.3,110.4 1644.3,109.9 1645.2,109.4 1646.2,109.0 1647.2,108.5 1648.2,108.1 1649.3,107.7 1650.3,107.4 1651.3,107.0 1652.4,106.7 1653.4,106.3 1654.5,106.0 1655.6,105.7 1656.7,105.4 1657.8,105.2 1658.9,104.9 1660.0,104.6 1661.1,104.4 1662.2,104.2 1663.3,103.9 1664.4,103.7 1665.5,103.5 1666.7,103.3 1667.8,103.1 1668.9,102.9 1670.0,102.7 1671.1,102.6 1672.2,102.4 1673.4,102.2 1674.5,102.0 1675.6,101.9 1676.7,101.7 1677.8,101.5 1678.9,101.4 1680.0,101.2 1681.2,101.1 1682.3,100.9 1683.4,100.8 1684.5,100.6 1685.6,100.5 1686.7,100.4 1687.8,100.2 1688.9,100.1 1690.0,100.0 1691.1,99.8 1692.2,99.7 1693.3,99.6 1694.4,99.5 1695.5,99.4 1696.6,99.3 1697.7,99.2 1698.8,99.1 1699.9,99.0 1701.0,98.9 1702.1,98.8 1703.2,98.7 1704.3,98.6 1705.4,98.5 1706.5,98.4 1707.6,98.3 1708.6,98.3 1709.7,98.2 1710.8,98.1 1711.9,98.0 1713.0,98.0 1714.1,97.9 1715.2,97.8 1716.3,97.8 1717.4,97.7 1718.5,97.6 1719.6,97.6 1720.7,97.5 1721.7,97.5 1722.8,97.4 1723.9,97.4 1725.0,97.3 1726.1,97.3 1727.2,97.2 1728.3,97.2 1729.4,97.1 1730.5,97.1 1731.6,97.0 1732.6,97.0 1733.7,97.0 1734.8,96.9 1735.9,96.9 1737.0,96.9 1738.1,96.8 1739.2,96.8 1740.3,96.8 1741.4,96.7 1742.5,96.7 1743.6,96.7 1744.6,96.7 1745.7,96.6 1746.8,96.6 1747.9,96.6 1749.0,96.6 1750.1,96.5 1751.2,96.5 1752.3,96.5 1753.4,96.5 1754.5,96.5 1755.6,96.4 1756.7,96.4 1757.8,96.4 1758.9,96.4 1760.0,96.4 1761.1,96.3 1762.2,96.3 1763.3,96.3 1764.4,96.3 1765.5,96.3 1766.6,96.3 1767.7,96.3 1768.8,96.2 1769.9,96.2 1771.0,96.2 1772.1,96.2 1773.2,96.2 1774.3,96.2 1775.4,96.2 1776.5,96.2 1777.6,96.2 1778.7,96.1 1779.8,96.1 1780.9,96.1 1782.0,96.1 1783.1,96.1 1784.2,96.1 1785.3,96.1 1786.4,96.1 1787.5,96.1 1788.6,96.1 1789.7,96.1 1790.8,96.1 1792.0,96.1 1793.1,96.0 1794.2,96.0 1795.3,96.0 1796.4,96.0 1797.5,96.0 1798.6,96.0 1799.7,96.0 1800.8,96.0 1801.9,96.0 1803.0,96.0 1804.1,96.0 1805.2,96.0 1806.3,96.0 1807.4,96.0 1808.5,96.0 1809.6,96.0 1810.7,96.0 1811.9,96.0 1813.0,96.0 1814.1,96.0 1815.2,96.0 1816.3,95.9 1817.4,95.9 1818.5,95.9 1819.6,95.9 1820.7,95.9 1821.8,95.9 1822.9,95.9 1824.0,95.9 1825.1,95.9 1826.2,95.9 1827.3,95.9 1828.4,95.9 1829.5,95.9 1830.6,95.9 1831.7,95.9 1832.8,95.9 1833.9,95.9 1835.0,95.9 1836.1,95.8 1837.2,95.8 1838.3,95.8 1839.4,95.8 1840.5,95.8 1841.7,95.8 1842.8,95.8 1843.9,95.8 1845.0,95.8 1846.1,95.8 1847.2,95.8 1848.3,95.8 1849.4,95.8 1850.5,95.7 1851.6,95.7 1852.7,95.7 1853.8,95.7 1854.9,95.7 1856.0,95.7 1857.1,95.7 1858.2,95.7 1859.3,95.7 1860.4,95.7 1861.5,95.7 1862.6,95.7 1863.7,95.6 1864.8,95.6 1865.9,95.6 1867.0,95.6 1868.1,95.6 1869.2,95.6 1870.3,95.6 1871.4,95.6 1872.5,95.6 1873.6,95.6 1874.7,95.5 1875.8,95.5 1876.9,95.5 1878.0,95.5 1879.1,95.5 1880.2,95.5 1881.3,95.5 1882.4,95.5 1883.4,95.5 1884.5,95.5 1885.6,95.5 1886.7,95.4 1887.8,95.4 1888.9,95.4 1890.0,95.4 1891.1,95.4 1892.2,95.4 1893.3,95.4 1894.4,95.4 1895.5,95.4 1896.6,95.4 1897.7,95.3 1898.8,95.3 1899.9,95.3 1901.0,95.3 1902.1,95.3 1903.2,95.3 1904.3,95.3 1905.4,95.3 1906.5,95.3 1907.6,95.3 1908.7,95.2 1909.8,95.2 1910.9,95.2 1912.0,95.2 1913.1,95.2 1914.2,95.2 1915.3,95.2 1916.4,95.2 1917.5,95.2 1918.6,95.2 1919.7,95.2 1920.8,95.1 1921.9,95.1 1923.0,95.1 1924.1,95.1 1925.2,95.1 1926.3,95.1 1927.4,95.1 1928.5,95.1 1929.6,95.1 1930.7,95.1 1931.8,95.1 1932.9,95.1 1934.0,95.0 1935.1,95.0 1936.2,95.0 1937.3,95.0 1938.4,95.0 1939.5,95.0 1940.6,95.0 1941.7,95.0 1942.8,95.0 1943.9,95.0 1945.0,95.0 1946.1,95.0 1947.2,95.0 1948.3,95.0 1949.4,94.9 1950.5,94.9 1951.6,94.9 1952.7,94.9 1953.8,94.9 1954.9,94.9 1956.1,94.9 1957.2,94.9 1958.3,94.9 1959.4,94.9 1960.5,94.9 1961.6,94.9 1962.7,94.9 1963.8,94.9 1964.9,94.9 1966.0,94.9 1967.1,94.9 1968.2,94.9 1969.3,94.9 1970.4,94.9 1971.5,94.9 1972.6,94.9 1973.7,94.8 1974.8,94.8 1975.9,94.8 1977.0,94.8" stroke="#C39416" stroke-width="2.3" fill="none" stroke-linejoin="round" stroke-linecap="round" clip-path="url(#cb)"/>
</g>
<g id="inset">
<rect x="1152.7" y="413.5" width="339.2" height="271.3" fill="#fff" stroke="#666" stroke-width="1.3"/>
<path d="M1152.6,455.2 1153.8,455.5 1154.9,455.8 1156.0,456.2 1157.0,456.6 1158.1,457.0 1159.2,457.4 1160.2,457.8 1161.2,458.3 1162.2,458.8 1163.2,459.3 1164.2,459.8 1165.2,460.3 1166.1,460.8 1167.1,461.4 1168.0,461.9 1168.9,462.5 1169.9,463.1 1170.8,463.7 1171.7,464.3 1172.6,464.9 1173.5,465.5 1174.4,466.2 1175.2,466.8 1176.1,467.5 1177.0,468.1 1177.8,468.8 1178.7,469.5 1179.6,470.1 1180.4,470.8 1181.3,471.5 1182.1,472.2 1183.0,472.9 1183.8,473.6 1184.7,474.3 1185.5,475.0 1186.3,475.7 1187.2,476.4 1188.0,477.1 1188.9,477.8 1189.7,478.5 1190.6,479.2 1191.5,479.9 1192.3,480.6 1193.2,481.3 1194.0,482.0 1194.9,482.7 1195.8,483.4 1196.6,484.1 1197.5,484.8 1198.3,485.5 1199.2,486.2 1200.1,486.9 1200.9,487.6 1201.8,488.3 1202.6,489.0 1203.5,489.7 1204.3,490.4 1205.2,491.1 1206.0,491.8 1206.9,492.5 1207.7,493.3 1208.6,494.0 1209.4,494.7 1210.2,495.4 1211.1,496.2 1211.9,496.9 1212.7,497.7 1213.5,498.4 1214.3,499.1 1215.1,499.9 1215.9,500.7 1216.7,501.4 1217.5,502.2 1218.3,503.0 1219.1,503.7 1219.8,504.5 1220.6,505.3 1221.4,506.1 1222.1,506.9 1222.9,507.7 1223.6,508.5 1224.4,509.3 1225.1,510.1 1225.9,510.9 1226.6,511.7 1227.3,512.5 1228.0,513.4 1228.8,514.2 1229.5,515.0 1230.2,515.9 1230.9,516.7 1231.6,517.6 1232.3,518.4 1233.0,519.3 1233.6,520.1 1234.3,521.0 1235.0,521.8 1235.7,522.7 1236.3,523.6 1237.0,524.4 1237.7,525.3 1238.3,526.2 1239.0,527.1 1239.6,528.0 1240.3,528.9 1240.9,529.8 1241.6,530.6 1242.2,531.5 1242.8,532.5 1243.4,533.4 1244.1,534.3 1244.7,535.2 1245.3,536.1 1245.9,537.0 1246.5,537.9 1247.1,538.9 1247.7,539.8 1248.3,540.7 1248.9,541.7 1249.5,542.6 1250.1,543.5 1250.7,544.5 1251.2,545.4 1251.8,546.4 1252.4,547.3 1253.0,548.3 1253.5,549.2 1254.1,550.2 1254.6,551.1 1255.2,552.1 1255.8,553.1 1256.3,554.0 1256.9,555.0 1257.4,556.0 1257.9,556.9 1258.5,557.9 1259.0,558.9 1259.6,559.8 1260.1,560.8 1260.6,561.8 1261.2,562.8 1261.7,563.8 1262.2,564.7 1262.7,565.7 1263.2,566.7 1263.8,567.7 1264.3,568.7 1264.8,569.7 1265.3,570.7 1265.8,571.6 1266.3,572.6 1266.8,573.6 1267.3,574.6 1267.8,575.6 1268.3,576.6 1268.8,577.6 1269.3,578.6 1269.8,579.6 1270.3,580.6 1270.8,581.6 1271.2,582.6 1271.7,583.6 1272.2,584.6 1272.7,585.6 1273.2,586.5 1273.7,587.5 1274.1,588.5 1274.6,589.5 1275.1,590.5 1275.6,591.5 1276.0,592.5 1276.5,593.5 1277.0,594.5 1277.4,595.5 1277.9,596.5 1278.4,597.4 1278.8,598.4 1279.3,599.4 1279.8,600.4 1280.2,601.4 1280.7,602.4 1281.2,603.3 1281.6,604.3 1282.1,605.3 1282.5,606.3 1283.0,607.2 1283.5,608.2 1283.9,609.2 1284.4,610.2 1284.9,611.1 1285.3,612.1 1285.8,613.1 1286.3,614.1 1286.7,615.0 1287.2,616.0 1287.7,617.0 1288.1,618.0 1288.6,618.9 1289.1,619.9 1289.6,620.9 1290.1,621.9 1290.6,622.8 1291.1,623.8 1291.5,624.8 1292.0,625.8 1292.6,626.8 1293.1,627.8 1293.6,628.8 1294.1,629.7 1294.6,630.7 1295.1,631.7 1295.7,632.7 1296.2,633.7 1296.8,634.7 1297.3,635.8 1297.9,636.8 1298.4,637.8 1299.0,638.8 1299.6,639.8 1300.2,640.8 1300.8,641.9 1301.3,642.9 1302.0,643.9 1302.6,645.0 1303.2,646.0 1303.8,647.0 1304.5,648.0 1305.1,648.9 1305.8,649.9 1306.5,650.8 1307.2,651.7 1307.9,652.6 1308.7,653.4 1309.4,654.2 1310.2,655.0 1311.0,655.7 1311.8,656.4 1312.6,657.0 1313.5,657.6 1314.4,658.1 1315.3,658.6 1316.2,658.9 1317.1,659.3 1318.1,659.5 1319.1,659.7 1320.0,659.9 1321.0,659.9 1322.0,660.0 1323.0,659.9 1324.0,659.8 1324.9,659.6 1325.9,659.3 1326.8,659.0 1327.8,658.6 1328.7,658.1 1329.5,657.6 1330.4,657.0 1331.2,656.3 1332.0,655.6 1332.7,654.8 1333.5,654.0 1334.2,653.1 1334.9,652.3 1335.6,651.4 1336.2,650.4 1336.9,649.5 1337.5,648.6 1338.1,647.6 1338.7,646.6 1339.2,645.7 1339.8,644.7 1340.3,643.7 1340.8,642.7 1341.3,641.7 1341.8,640.6 1342.3,639.6 1342.8,638.6 1343.2,637.5 1343.6,636.5 1344.1,635.4 1344.5,634.4 1344.9,633.3 1345.3,632.3 1345.7,631.2 1346.1,630.1 1346.5,629.0 1346.9,628.0 1347.2,626.9 1347.6,625.8 1348.0,624.7 1348.3,623.7 1348.7,622.6 1349.1,621.5 1349.4,620.4 1349.8,619.4 1350.2,618.3 1350.5,617.2 1350.9,616.1 1351.3,615.1 1351.6,614.0 1352.0,613.0 1352.4,611.9 1352.8,610.9 1353.2,609.8 1353.6,608.8 1354.0,607.8 1354.4,606.7 1354.8,605.7 1355.2,604.7 1355.6,603.6 1356.1,602.6 1356.5,601.6 1356.9,600.6 1357.4,599.6 1357.8,598.6 1358.2,597.6 1358.7,596.6 1359.1,595.6 1359.6,594.6 1360.0,593.6 1360.5,592.6 1360.9,591.6 1361.4,590.6 1361.8,589.6 1362.3,588.6 1362.8,587.6 1363.3,586.7 1363.7,585.7 1364.2,584.7 1364.7,583.7 1365.2,582.8 1365.7,581.8 1366.2,580.8 1366.6,579.9 1367.1,578.9 1367.6,577.9 1368.1,577.0 1368.6,576.0 1369.1,575.0 1369.6,574.1 1370.2,573.1 1370.7,572.2 1371.2,571.2 1371.7,570.3 1372.2,569.3 1372.7,568.3 1373.2,567.4 1373.8,566.4 1374.3,565.5 1374.8,564.5 1375.3,563.6 1375.9,562.6 1376.4,561.7 1376.9,560.7 1377.5,559.8 1378.0,558.8 1378.5,557.9 1379.1,556.9 1379.6,556.0 1380.2,555.0 1380.7,554.1 1381.3,553.2 1381.8,552.2 1382.3,551.3 1382.9,550.3 1383.4,549.3 1384.0,548.4 1384.5,547.4 1385.1,546.5 1385.6,545.5 1386.2,544.6 1386.7,543.6 1387.3,542.7 1387.9,541.7 1388.4,540.7 1389.0,539.8 1389.5,538.8 1390.1,537.9 1390.6,536.9 1391.2,535.9 1391.8,535.0 1392.3,534.0 1392.9,533.0 1393.4,532.1 1394.0,531.1 1394.6,530.1 1395.1,529.2 1395.7,528.2 1396.3,527.2 1396.8,526.3 1397.4,525.3 1398.0,524.3 1398.6,523.4 1399.1,522.4 1399.7,521.4 1400.3,520.5 1400.9,519.5 1401.5,518.5 1402.0,517.6 1402.6,516.6 1403.2,515.6 1403.8,514.7 1404.4,513.7 1405.0,512.8 1405.6,511.8 1406.2,510.9 1406.8,509.9 1407.4,509.0 1408.0,508.0 1408.6,507.1 1409.2,506.1 1409.9,505.2 1410.5,504.3 1411.1,503.3 1411.7,502.4 1412.4,501.5 1413.0,500.5 1413.6,499.6 1414.3,498.7 1414.9,497.8 1415.5,496.9 1416.2,496.0 1416.8,495.1 1417.5,494.2 1418.1,493.3 1418.8,492.4 1419.5,491.5 1420.1,490.6 1420.8,489.7 1421.5,488.8 1422.2,488.0 1422.9,487.1 1423.5,486.2 1424.2,485.4 1424.9,484.5 1425.6,483.7 1426.3,482.9 1427.1,482.0 1427.8,481.2 1428.5,480.4 1429.2,479.5 1429.9,478.7 1430.7,477.9 1431.4,477.1 1432.2,476.3 1432.9,475.5 1433.7,474.7 1434.4,474.0 1435.2,473.2 1435.9,472.4 1436.7,471.7 1437.5,470.9 1438.3,470.2 1439.1,469.4 1439.9,468.7 1440.7,468.0 1441.5,467.3 1442.3,466.6 1443.1,465.9 1443.9,465.2 1444.7,464.5 1445.6,463.8 1446.4,463.1 1447.3,462.5 1448.1,461.8 1449.0,461.2 1449.8,460.5 1450.7,459.9 1451.6,459.3 1452.5,458.7 1453.4,458.1 1454.3,457.5 1455.2,456.9 1456.1,456.3 1457.0,455.7 1457.9,455.2 1458.9,454.6 1459.8,454.1 1460.7,453.6 1461.7,453.0 1462.6,452.5 1463.6,452.0 1464.6,451.6 1465.6,451.1 1466.6,450.6 1467.6,450.1 1468.6,449.7 1469.6,449.3 1470.6,448.8 1471.6,448.4 1472.6,448.0 1473.7,447.6 1474.7,447.2 1475.8,446.9 1476.9,446.5 1477.9,446.2 1479.0,445.8 1480.1,445.5 1481.2,445.2 1482.3,444.9 1483.4,444.6 1484.5,444.3 1485.7,444.1 1486.8,443.8 1488.0,443.6 1489.1,443.3 1490.3,443.1 1491.5,442.9" stroke="#666666" stroke-width="1.3" fill="none" stroke-linejoin="round" stroke-linecap="round" clip-path="url(#ci)"/>
<path d="M1152.9,470.6 1153.9,471.1 1154.9,471.6 1155.9,472.2 1156.9,472.7 1157.9,473.2 1158.8,473.7 1159.8,474.3 1160.8,474.8 1161.8,475.4 1162.7,475.9 1163.7,476.5 1164.6,477.1 1165.6,477.6 1166.5,478.2 1167.5,478.8 1168.4,479.4 1169.3,480.0 1170.3,480.6 1171.2,481.2 1172.1,481.8 1173.0,482.4 1173.9,483.0 1174.9,483.6 1175.8,484.2 1176.7,484.9 1177.6,485.5 1178.5,486.1 1179.4,486.8 1180.2,487.4 1181.1,488.1 1182.0,488.7 1182.9,489.4 1183.8,490.0 1184.6,490.7 1185.5,491.3 1186.4,492.0 1187.3,492.7 1188.1,493.4 1189.0,494.0 1189.8,494.7 1190.7,495.4 1191.6,496.1 1192.4,496.8 1193.3,497.5 1194.1,498.1 1195.0,498.8 1195.8,499.5 1196.6,500.2 1197.5,500.9 1198.3,501.6 1199.2,502.3 1200.0,503.1 1200.8,503.8 1201.7,504.5 1202.5,505.2 1203.3,505.9 1204.2,506.6 1205.0,507.3 1205.8,508.1 1206.7,508.8 1207.5,509.5 1208.3,510.2 1209.1,510.9 1210.0,511.7 1210.8,512.4 1211.6,513.1 1212.4,513.9 1213.3,514.6 1214.1,515.3 1214.9,516.0 1215.7,516.8 1216.6,517.5 1217.4,518.2 1218.2,519.0 1219.0,519.7 1219.9,520.4 1220.7,521.2 1221.5,521.9 1222.4,522.6 1223.2,523.4 1224.0,524.1 1224.8,524.8 1225.7,525.6 1226.5,526.3 1227.3,527.0 1228.2,527.7 1229.0,528.5 1229.9,529.2 1230.7,529.9 1231.5,530.7 1232.4,531.4 1233.2,532.1 1234.1,532.8 1234.9,533.5 1235.8,534.3 1236.6,535.0 1237.5,535.7 1238.3,536.4 1239.2,537.1 1240.0,537.8 1240.9,538.6 1241.8,539.3 1242.6,540.0 1243.5,540.7 1244.4,541.4 1245.3,542.1 1246.1,542.8 1247.0,543.5 1247.9,544.2 1248.8,544.9 1249.7,545.5 1250.6,546.2 1251.5,546.9 1252.4,547.6 1253.3,548.2 1254.2,548.9 1255.1,549.6 1256.0,550.2 1256.9,550.9 1257.8,551.5 1258.7,552.2 1259.7,552.8 1260.6,553.4 1261.5,554.1 1262.4,554.7 1263.4,555.3 1264.3,555.9 1265.2,556.5 1266.2,557.1 1267.1,557.7 1268.1,558.3 1269.0,558.9 1270.0,559.4 1271.0,560.0 1271.9,560.5 1272.9,561.1 1273.9,561.6 1274.8,562.1 1275.8,562.7 1276.8,563.2 1277.8,563.7 1278.8,564.2 1279.7,564.6 1280.7,565.1 1281.7,565.6 1282.7,566.0 1283.7,566.5 1284.7,566.9 1285.8,567.3 1286.8,567.8 1287.8,568.2 1288.8,568.5 1289.8,568.9 1290.9,569.3 1291.9,569.6 1292.9,570.0 1294.0,570.3 1295.0,570.6 1296.1,571.0 1297.1,571.3 1298.2,571.5 1299.2,571.8 1300.3,572.1 1301.4,572.3 1302.4,572.5 1303.5,572.8 1304.6,573.0 1305.7,573.2 1306.8,573.3 1307.8,573.5 1308.9,573.6 1310.0,573.8 1311.1,573.9 1312.2,574.0 1313.3,574.1 1314.4,574.2 1315.5,574.3 1316.6,574.3 1317.7,574.4 1318.9,574.4 1320.0,574.4 1321.1,574.4 1322.2,574.4 1323.3,574.4 1324.4,574.3 1325.5,574.3 1326.6,574.2 1327.7,574.2 1328.8,574.1 1329.9,574.0 1331.1,573.9 1332.2,573.8 1333.3,573.6 1334.4,573.5 1335.5,573.3 1336.5,573.1 1337.6,572.9 1338.7,572.7 1339.8,572.5 1340.9,572.3 1342.0,572.1 1343.1,571.8 1344.1,571.6 1345.2,571.3 1346.3,571.0 1347.3,570.7 1348.4,570.4 1349.4,570.1 1350.5,569.8 1351.5,569.4 1352.5,569.1 1353.6,568.7 1354.6,568.3 1355.6,567.9 1356.6,567.5 1357.6,567.1 1358.6,566.7 1359.6,566.3 1360.6,565.8 1361.6,565.4 1362.6,564.9 1363.6,564.4 1364.5,564.0 1365.5,563.5 1366.4,563.0 1367.4,562.4 1368.4,561.9 1369.3,561.4 1370.2,560.8 1371.2,560.3 1372.1,559.7 1373.0,559.2 1374.0,558.6 1374.9,558.0 1375.8,557.4 1376.7,556.8 1377.6,556.2 1378.5,555.6 1379.4,555.0 1380.3,554.3 1381.2,553.7 1382.1,553.1 1383.0,552.4 1383.9,551.8 1384.7,551.1 1385.6,550.4 1386.5,549.7 1387.4,549.1 1388.2,548.4 1389.1,547.7 1389.9,547.0 1390.8,546.3 1391.6,545.6 1392.5,544.8 1393.3,544.1 1394.2,543.4 1395.0,542.7 1395.9,541.9 1396.7,541.2 1397.5,540.4 1398.4,539.7 1399.2,538.9 1400.0,538.2 1400.8,537.4 1401.6,536.6 1402.5,535.9 1403.3,535.1 1404.1,534.3 1404.9,533.6 1405.7,532.8 1406.5,532.0 1407.3,531.2 1408.1,530.4 1408.9,529.6 1409.7,528.8 1410.5,528.0 1411.3,527.2 1412.1,526.5 1412.9,525.7 1413.7,524.9 1414.5,524.1 1415.3,523.3 1416.0,522.4 1416.8,521.6 1417.6,520.8 1418.4,520.0 1419.2,519.2 1420.0,518.4 1420.7,517.6 1421.5,516.8 1422.3,516.0 1423.1,515.2 1423.9,514.4 1424.6,513.6 1425.4,512.8 1426.2,512.0 1427.0,511.2 1427.7,510.4 1428.5,509.6 1429.3,508.8 1430.1,508.0 1430.8,507.2 1431.6,506.5 1432.4,505.7 1433.2,504.9 1433.9,504.1 1434.7,503.3 1435.5,502.5 1436.3,501.8 1437.1,501.0 1437.8,500.2 1438.6,499.4 1439.4,498.7 1440.2,497.9 1441.0,497.1 1441.8,496.4 1442.6,495.6 1443.4,494.8 1444.1,494.1 1444.9,493.3 1445.7,492.6 1446.5,491.8 1447.3,491.1 1448.1,490.4 1448.9,489.6 1449.8,488.9 1450.6,488.1 1451.4,487.4 1452.2,486.7 1453.0,486.0 1453.8,485.3 1454.7,484.5 1455.5,483.8 1456.3,483.1 1457.1,482.4 1458.0,481.7 1458.8,481.0 1459.7,480.3 1460.5,479.7 1461.4,479.0 1462.2,478.3 1463.1,477.6 1463.9,477.0 1464.8,476.3 1465.7,475.6 1466.6,475.0 1467.4,474.3 1468.3,473.7 1469.2,473.1 1470.1,472.4 1471.0,471.8 1471.9,471.2 1472.8,470.6 1473.7,469.9 1474.7,469.3 1475.6,468.7 1476.5,468.1 1477.5,467.5 1478.4,467.0 1479.3,466.4 1480.3,465.8 1481.2,465.2 1482.2,464.7 1483.2,464.1 1484.2,463.6 1485.1,463.0 1486.1,462.5 1487.1,462.0 1488.1,461.4 1489.1,460.9 1490.1,460.4 1491.2,459.9" stroke="#E8343F" stroke-width="1.3" fill="none" stroke-linejoin="round" stroke-linecap="round" clip-path="url(#ci)"/>
<path d="M1152.9,473.2 1153.9,473.7 1154.9,474.2 1155.9,474.7 1156.9,475.3 1157.9,475.8 1158.9,476.3 1159.9,476.9 1160.8,477.4 1161.8,477.9 1162.8,478.5 1163.7,479.1 1164.7,479.6 1165.6,480.2 1166.6,480.8 1167.5,481.4 1168.4,482.0 1169.4,482.6 1170.3,483.2 1171.2,483.8 1172.1,484.4 1173.0,485.0 1173.9,485.6 1174.8,486.3 1175.7,486.9 1176.6,487.5 1177.5,488.2 1178.4,488.8 1179.2,489.5 1180.1,490.1 1181.0,490.8 1181.8,491.5 1182.7,492.1 1183.6,492.8 1184.4,493.5 1185.3,494.2 1186.1,494.9 1187.0,495.6 1187.8,496.3 1188.6,497.0 1189.5,497.7 1190.3,498.4 1191.1,499.1 1192.0,499.8 1192.8,500.5 1193.6,501.2 1194.4,501.9 1195.3,502.7 1196.1,503.4 1196.9,504.1 1197.7,504.8 1198.5,505.6 1199.3,506.3 1200.1,507.0 1200.9,507.8 1201.8,508.5 1202.6,509.3 1203.4,510.0 1204.2,510.7 1205.0,511.5 1205.8,512.2 1206.6,513.0 1207.4,513.7 1208.2,514.5 1209.0,515.2 1209.8,516.0 1210.6,516.7 1211.4,517.5 1212.2,518.3 1213.0,519.0 1213.8,519.8 1214.6,520.5 1215.4,521.3 1216.2,522.0 1217.0,522.8 1217.8,523.5 1218.6,524.3 1219.4,525.0 1220.2,525.8 1221.0,526.6 1221.8,527.3 1222.6,528.1 1223.4,528.8 1224.2,529.6 1225.0,530.3 1225.8,531.1 1226.6,531.8 1227.4,532.5 1228.3,533.3 1229.1,534.0 1229.9,534.8 1230.7,535.5 1231.6,536.2 1232.4,537.0 1233.2,537.7 1234.1,538.4 1234.9,539.2 1235.7,539.9 1236.6,540.6 1237.4,541.3 1238.3,542.0 1239.1,542.8 1240.0,543.5 1240.9,544.2 1241.7,544.9 1242.6,545.6 1243.5,546.3 1244.3,547.0 1245.2,547.7 1246.1,548.3 1247.0,549.0 1247.9,549.7 1248.8,550.4 1249.7,551.0 1250.6,551.7 1251.5,552.4 1252.4,553.0 1253.3,553.7 1254.2,554.3 1255.1,555.0 1256.1,555.6 1257.0,556.2 1257.9,556.8 1258.9,557.5 1259.8,558.1 1260.7,558.7 1261.7,559.3 1262.6,559.9 1263.6,560.4 1264.5,561.0 1265.5,561.6 1266.5,562.2 1267.4,562.7 1268.4,563.3 1269.4,563.8 1270.4,564.3 1271.3,564.8 1272.3,565.4 1273.3,565.9 1274.3,566.4 1275.3,566.9 1276.3,567.3 1277.3,567.8 1278.3,568.3 1279.3,568.7 1280.3,569.2 1281.3,569.6 1282.4,570.0 1283.4,570.4 1284.4,570.8 1285.4,571.2 1286.5,571.6 1287.5,572.0 1288.5,572.4 1289.6,572.7 1290.6,573.0 1291.7,573.4 1292.7,573.7 1293.8,574.0 1294.8,574.3 1295.9,574.6 1297.0,574.8 1298.0,575.1 1299.1,575.3 1300.2,575.6 1301.2,575.8 1302.3,576.0 1303.4,576.2 1304.5,576.4 1305.6,576.5 1306.6,576.7 1307.7,576.8 1308.8,577.0 1309.9,577.1 1311.0,577.2 1312.1,577.3 1313.2,577.3 1314.3,577.4 1315.4,577.5 1316.5,577.5 1317.6,577.5 1318.7,577.5 1319.8,577.5 1320.9,577.5 1322.0,577.5 1323.1,577.5 1324.2,577.4 1325.3,577.4 1326.4,577.3 1327.5,577.2 1328.6,577.1 1329.7,577.0 1330.8,576.8 1331.9,576.7 1333.0,576.6 1334.1,576.4 1335.1,576.2 1336.2,576.0 1337.3,575.8 1338.4,575.6 1339.4,575.4 1340.5,575.2 1341.6,574.9 1342.6,574.6 1343.7,574.4 1344.7,574.1 1345.8,573.8 1346.8,573.5 1347.9,573.2 1348.9,572.8 1349.9,572.5 1351.0,572.1 1352.0,571.8 1353.0,571.4 1354.0,571.0 1355.0,570.6 1356.0,570.2 1357.0,569.7 1358.0,569.3 1359.0,568.8 1359.9,568.4 1360.9,567.9 1361.9,567.4 1362.8,566.9 1363.8,566.4 1364.7,565.9 1365.7,565.4 1366.6,564.9 1367.5,564.3 1368.5,563.8 1369.4,563.2 1370.3,562.7 1371.2,562.1 1372.2,561.5 1373.1,560.9 1374.0,560.3 1374.9,559.7 1375.8,559.1 1376.7,558.5 1377.5,557.8 1378.4,557.2 1379.3,556.5 1380.2,555.9 1381.1,555.2 1381.9,554.5 1382.8,553.9 1383.7,553.2 1384.5,552.5 1385.4,551.8 1386.2,551.1 1387.1,550.4 1387.9,549.7 1388.8,549.0 1389.6,548.2 1390.4,547.5 1391.3,546.8 1392.1,546.0 1392.9,545.3 1393.8,544.5 1394.6,543.8 1395.4,543.0 1396.2,542.3 1397.0,541.5 1397.8,540.7 1398.7,540.0 1399.5,539.2 1400.3,538.4 1401.1,537.6 1401.9,536.8 1402.7,536.0 1403.5,535.2 1404.3,534.4 1405.1,533.6 1405.8,532.8 1406.6,532.0 1407.4,531.2 1408.2,530.4 1409.0,529.6 1409.8,528.8 1410.6,528.0 1411.3,527.2 1412.1,526.4 1412.9,525.6 1413.7,524.8 1414.5,523.9 1415.2,523.1 1416.0,522.3 1416.8,521.5 1417.5,520.7 1418.3,519.9 1419.1,519.1 1419.9,518.2 1420.6,517.4 1421.4,516.6 1422.2,515.8 1422.9,515.0 1423.7,514.2 1424.5,513.4 1425.2,512.6 1426.0,511.8 1426.8,511.0 1427.5,510.2 1428.3,509.4 1429.1,508.6 1429.8,507.8 1430.6,507.0 1431.4,506.2 1432.1,505.4 1432.9,504.6 1433.7,503.8 1434.4,503.1 1435.2,502.3 1436.0,501.5 1436.8,500.7 1437.5,500.0 1438.3,499.2 1439.1,498.4 1439.9,497.6 1440.6,496.9 1441.4,496.1 1442.2,495.4 1443.0,494.6 1443.8,493.8 1444.6,493.1 1445.3,492.3 1446.1,491.6 1446.9,490.8 1447.7,490.1 1448.5,489.4 1449.3,488.6 1450.1,487.9 1450.9,487.1 1451.7,486.4 1452.5,485.7 1453.4,485.0 1454.2,484.2 1455.0,483.5 1455.8,482.8 1456.6,482.1 1457.5,481.4 1458.3,480.7 1459.1,480.0 1459.9,479.3 1460.8,478.6 1461.6,477.9 1462.5,477.2 1463.3,476.5 1464.2,475.8 1465.0,475.2 1465.9,474.5 1466.8,473.8 1467.6,473.2 1468.5,472.5 1469.4,471.8 1470.3,471.2 1471.2,470.6 1472.1,469.9 1472.9,469.3 1473.9,468.7 1474.8,468.0 1475.7,467.4 1476.6,466.8 1477.5,466.2 1478.5,465.6 1479.4,465.0 1480.3,464.5 1481.3,463.9 1482.2,463.3 1483.2,462.8 1484.2,462.2 1485.1,461.7 1486.1,461.2 1487.1,460.6 1488.1,460.1 1489.1,459.6 1490.1,459.1 1491.1,458.6" stroke="#2A5EAA" stroke-width="1.3" fill="none" stroke-linejoin="round" stroke-linecap="round" clip-path="url(#ci)"/>
<path d="M1152.8,475.4 1153.9,475.8 1154.9,476.3 1156.0,476.7 1157.0,477.2 1158.0,477.6 1159.0,478.1 1160.0,478.6 1161.0,479.0 1162.0,479.5 1163.0,480.0 1164.0,480.5 1165.0,481.0 1165.9,481.6 1166.9,482.1 1167.9,482.6 1168.8,483.2 1169.8,483.7 1170.7,484.3 1171.7,484.8 1172.6,485.4 1173.5,485.9 1174.5,486.5 1175.4,487.1 1176.3,487.7 1177.2,488.3 1178.2,488.9 1179.1,489.5 1180.0,490.1 1180.9,490.7 1181.8,491.3 1182.7,491.9 1183.6,492.6 1184.5,493.2 1185.4,493.8 1186.2,494.5 1187.1,495.1 1188.0,495.8 1188.9,496.4 1189.8,497.1 1190.6,497.7 1191.5,498.4 1192.4,499.1 1193.2,499.7 1194.1,500.4 1194.9,501.1 1195.8,501.8 1196.7,502.4 1197.5,503.1 1198.4,503.8 1199.2,504.5 1200.1,505.2 1200.9,505.9 1201.8,506.6 1202.6,507.3 1203.4,508.0 1204.3,508.7 1205.1,509.4 1206.0,510.1 1206.8,510.8 1207.6,511.5 1208.5,512.3 1209.3,513.0 1210.2,513.7 1211.0,514.4 1211.8,515.1 1212.7,515.8 1213.5,516.6 1214.3,517.3 1215.2,518.0 1216.0,518.7 1216.9,519.4 1217.7,520.1 1218.5,520.9 1219.4,521.6 1220.2,522.3 1221.1,523.0 1221.9,523.7 1222.7,524.5 1223.6,525.2 1224.4,525.9 1225.3,526.6 1226.1,527.3 1227.0,528.0 1227.8,528.7 1228.7,529.5 1229.5,530.2 1230.4,530.9 1231.3,531.6 1232.1,532.3 1233.0,533.0 1233.8,533.7 1234.7,534.4 1235.6,535.1 1236.4,535.8 1237.3,536.4 1238.2,537.1 1239.1,537.8 1240.0,538.5 1240.9,539.2 1241.7,539.8 1242.6,540.5 1243.5,541.2 1244.4,541.8 1245.3,542.5 1246.2,543.2 1247.1,543.8 1248.1,544.5 1249.0,545.1 1249.9,545.7 1250.8,546.4 1251.7,547.0 1252.7,547.6 1253.6,548.2 1254.5,548.9 1255.5,549.5 1256.4,550.1 1257.4,550.7 1258.3,551.3 1259.3,551.9 1260.2,552.4 1261.2,553.0 1262.1,553.6 1263.1,554.1 1264.1,554.7 1265.0,555.2 1266.0,555.8 1267.0,556.3 1268.0,556.8 1269.0,557.4 1269.9,557.9 1270.9,558.4 1271.9,558.9 1272.9,559.4 1273.9,559.8 1274.9,560.3 1275.9,560.8 1276.9,561.2 1278.0,561.7 1279.0,562.1 1280.0,562.5 1281.0,563.0 1282.0,563.4 1283.1,563.8 1284.1,564.2 1285.1,564.5 1286.2,564.9 1287.2,565.3 1288.3,565.6 1289.3,566.0 1290.3,566.3 1291.4,566.6 1292.5,566.9 1293.5,567.2 1294.6,567.5 1295.6,567.8 1296.7,568.0 1297.8,568.3 1298.8,568.5 1299.9,568.8 1301.0,569.0 1302.1,569.2 1303.2,569.4 1304.3,569.5 1305.3,569.7 1306.4,569.9 1307.5,570.0 1308.6,570.1 1309.7,570.3 1310.8,570.4 1311.9,570.5 1313.0,570.5 1314.1,570.6 1315.2,570.7 1316.4,570.7 1317.5,570.8 1318.6,570.8 1319.7,570.8 1320.8,570.8 1321.9,570.8 1323.0,570.7 1324.1,570.7 1325.2,570.7 1326.3,570.6 1327.4,570.5 1328.5,570.4 1329.6,570.3 1330.7,570.2 1331.9,570.1 1332.9,570.0 1334.0,569.8 1335.1,569.7 1336.2,569.5 1337.3,569.4 1338.4,569.2 1339.5,569.0 1340.6,568.8 1341.7,568.5 1342.7,568.3 1343.8,568.1 1344.9,567.8 1345.9,567.5 1347.0,567.3 1348.0,567.0 1349.1,566.7 1350.1,566.4 1351.2,566.1 1352.2,565.7 1353.2,565.4 1354.3,565.0 1355.3,564.7 1356.3,564.3 1357.3,563.9 1358.3,563.5 1359.3,563.1 1360.3,562.7 1361.3,562.3 1362.3,561.9 1363.3,561.4 1364.2,561.0 1365.2,560.5 1366.2,560.0 1367.1,559.6 1368.1,559.1 1369.1,558.6 1370.0,558.1 1371.0,557.6 1371.9,557.0 1372.8,556.5 1373.8,556.0 1374.7,555.4 1375.6,554.9 1376.6,554.3 1377.5,553.7 1378.4,553.2 1379.3,552.6 1380.2,552.0 1381.1,551.4 1382.0,550.8 1382.9,550.2 1383.8,549.6 1384.7,548.9 1385.6,548.3 1386.5,547.7 1387.4,547.0 1388.2,546.4 1389.1,545.7 1390.0,545.1 1390.9,544.4 1391.7,543.7 1392.6,543.0 1393.5,542.4 1394.3,541.7 1395.2,541.0 1396.0,540.3 1396.9,539.6 1397.7,538.9 1398.6,538.2 1399.4,537.4 1400.3,536.7 1401.1,536.0 1402.0,535.3 1402.8,534.5 1403.6,533.8 1404.5,533.1 1405.3,532.3 1406.1,531.6 1407.0,530.8 1407.8,530.1 1408.6,529.3 1409.4,528.5 1410.3,527.8 1411.1,527.0 1411.9,526.3 1412.7,525.5 1413.5,524.7 1414.4,523.9 1415.2,523.2 1416.0,522.4 1416.8,521.6 1417.6,520.8 1418.4,520.0 1419.2,519.3 1420.1,518.5 1420.9,517.7 1421.7,516.9 1422.5,516.1 1423.3,515.3 1424.1,514.5 1424.9,513.7 1425.7,513.0 1426.5,512.2 1427.3,511.4 1428.1,510.6 1428.9,509.8 1429.7,509.0 1430.5,508.2 1431.3,507.4 1432.2,506.6 1433.0,505.9 1433.8,505.1 1434.6,504.3 1435.4,503.5 1436.2,502.7 1437.0,501.9 1437.8,501.2 1438.6,500.4 1439.4,499.6 1440.2,498.8 1441.0,498.1 1441.9,497.3 1442.7,496.5 1443.5,495.8 1444.3,495.0 1445.1,494.2 1445.9,493.5 1446.7,492.7 1447.6,492.0 1448.4,491.2 1449.2,490.5 1450.0,489.7 1450.9,489.0 1451.7,488.3 1452.5,487.5 1453.3,486.8 1454.2,486.1 1455.0,485.4 1455.8,484.7 1456.7,483.9 1457.5,483.2 1458.4,482.5 1459.2,481.8 1460.0,481.2 1460.9,480.5 1461.7,479.8 1462.6,479.1 1463.4,478.5 1464.3,477.8 1465.2,477.1 1466.0,476.5 1466.9,475.8 1467.7,475.2 1468.6,474.6 1469.5,473.9 1470.4,473.3 1471.2,472.7 1472.1,472.1 1473.0,471.5 1473.9,470.9 1474.8,470.3 1475.7,469.7 1476.6,469.2 1477.5,468.6 1478.4,468.1 1479.3,467.5 1480.2,467.0 1481.1,466.4 1482.0,465.9 1482.9,465.4 1483.9,464.9 1484.8,464.4 1485.7,463.9 1486.7,463.4 1487.6,463.0 1488.5,462.5 1489.5,462.0 1490.4,461.6" stroke="#26A363" stroke-width="1.3" fill="none" stroke-linejoin="round" stroke-linecap="round" clip-path="url(#ci)"/>
<path d="M1152.6,468.0 1153.8,468.2 1155.0,468.4 1156.1,468.7 1157.2,469.1 1158.3,469.4 1159.4,469.8 1160.5,470.1 1161.5,470.6 1162.5,471.0 1163.5,471.4 1164.5,471.9 1165.5,472.4 1166.5,472.9 1167.4,473.5 1168.4,474.0 1169.3,474.6 1170.2,475.1 1171.1,475.7 1172.0,476.3 1172.9,476.9 1173.8,477.5 1174.7,478.2 1175.6,478.8 1176.5,479.5 1177.3,480.1 1178.2,480.8 1179.0,481.4 1179.9,482.1 1180.8,482.8 1181.6,483.5 1182.5,484.1 1183.3,484.8 1184.2,485.5 1185.1,486.1 1185.9,486.8 1186.8,487.5 1187.7,488.1 1188.6,488.8 1189.5,489.4 1190.4,490.1 1191.3,490.7 1192.2,491.4 1193.1,492.0 1194.0,492.6 1194.9,493.2 1195.8,493.8 1196.8,494.5 1197.7,495.1 1198.6,495.7 1199.6,496.3 1200.5,496.9 1201.5,497.5 1202.4,498.1 1203.3,498.7 1204.3,499.3 1205.2,499.9 1206.2,500.5 1207.1,501.1 1208.1,501.7 1209.0,502.3 1210.0,502.9 1210.9,503.5 1211.8,504.1 1212.8,504.7 1213.7,505.3 1214.6,505.9 1215.6,506.5 1216.5,507.1 1217.4,507.8 1218.3,508.4 1219.2,509.0 1220.1,509.7 1221.0,510.3 1221.9,511.0 1222.8,511.6 1223.7,512.3 1224.6,513.0 1225.4,513.6 1226.3,514.3 1227.1,515.0 1228.0,515.7 1228.8,516.4 1229.6,517.1 1230.5,517.9 1231.3,518.6 1232.1,519.4 1232.8,520.1 1233.6,520.9 1234.4,521.6 1235.1,522.4 1235.9,523.2 1236.6,524.0 1237.4,524.8 1238.1,525.6 1238.8,526.4 1239.5,527.2 1240.3,528.1 1241.0,528.9 1241.6,529.8 1242.3,530.6 1243.0,531.5 1243.7,532.3 1244.4,533.2 1245.0,534.0 1245.7,534.9 1246.3,535.8 1247.0,536.7 1247.6,537.6 1248.3,538.5 1248.9,539.4 1249.5,540.3 1250.1,541.2 1250.8,542.1 1251.4,543.0 1252.0,543.9 1252.6,544.9 1253.2,545.8 1253.8,546.7 1254.4,547.6 1255.0,548.6 1255.6,549.5 1256.2,550.4 1256.7,551.4 1257.3,552.3 1257.9,553.3 1258.5,554.2 1259.1,555.2 1259.6,556.1 1260.2,557.0 1260.8,558.0 1261.4,558.9 1261.9,559.9 1262.5,560.8 1263.1,561.8 1263.6,562.7 1264.2,563.7 1264.8,564.6 1265.3,565.6 1265.9,566.5 1266.5,567.5 1267.0,568.4 1267.6,569.4 1268.2,570.3 1268.7,571.3 1269.3,572.2 1269.8,573.2 1270.4,574.1 1271.0,575.1 1271.5,576.0 1272.1,577.0 1272.6,578.0 1273.2,578.9 1273.7,579.9 1274.3,580.8 1274.8,581.8 1275.4,582.7 1275.9,583.7 1276.5,584.6 1277.0,585.6 1277.6,586.5 1278.1,587.5 1278.7,588.5 1279.2,589.4 1279.8,590.4 1280.3,591.3 1280.9,592.3 1281.4,593.2 1281.9,594.2 1282.5,595.2 1283.0,596.1 1283.6,597.1 1284.1,598.1 1284.6,599.0 1285.2,600.0 1285.7,600.9 1286.2,601.9 1286.8,602.9 1287.3,603.8 1287.8,604.8 1288.4,605.8 1288.9,606.7 1289.4,607.7 1290.0,608.7 1290.5,609.6 1291.0,610.6 1291.5,611.6 1292.1,612.5 1292.6,613.5 1293.1,614.5 1293.7,615.4 1294.2,616.4 1294.7,617.3 1295.3,618.3 1295.9,619.2 1296.4,620.2 1297.0,621.1 1297.6,622.1 1298.2,623.0 1298.8,623.9 1299.4,624.8 1300.0,625.7 1300.6,626.6 1301.3,627.5 1301.9,628.4 1302.6,629.3 1303.3,630.2 1304.0,631.0 1304.7,631.9 1305.4,632.7 1306.2,633.5 1307.0,634.4 1307.8,635.2 1308.6,636.0 1309.4,636.7 1310.2,637.5 1311.1,638.3 1312.0,639.0 1312.9,639.7 1313.9,640.5 1314.8,641.2 1315.8,641.8 1316.8,642.5 1317.8,643.1 1318.9,643.7 1319.9,644.2 1321.0,644.7 1322.0,645.1 1323.0,645.3 1324.0,645.5 1325.0,645.5 1326.0,645.3 1326.9,645.1 1327.8,644.7 1328.7,644.1 1329.5,643.5 1330.3,642.9 1331.1,642.1 1331.9,641.3 1332.7,640.5 1333.4,639.7 1334.2,638.9 1334.9,638.0 1335.6,637.2 1336.3,636.3 1337.0,635.5 1337.7,634.6 1338.4,633.7 1339.1,632.9 1339.8,632.0 1340.4,631.1 1341.1,630.2 1341.7,629.3 1342.3,628.4 1343.0,627.5 1343.6,626.6 1344.2,625.6 1344.8,624.7 1345.4,623.8 1345.9,622.9 1346.5,621.9 1347.1,621.0 1347.6,620.0 1348.2,619.1 1348.7,618.1 1349.3,617.1 1349.8,616.2 1350.3,615.2 1350.9,614.2 1351.4,613.3 1351.9,612.3 1352.4,611.3 1352.9,610.3 1353.4,609.3 1353.9,608.3 1354.4,607.3 1354.9,606.3 1355.3,605.3 1355.8,604.3 1356.3,603.3 1356.7,602.3 1357.2,601.3 1357.7,600.3 1358.1,599.3 1358.6,598.3 1359.0,597.3 1359.5,596.3 1359.9,595.2 1360.4,594.2 1360.8,593.2 1361.2,592.2 1361.7,591.2 1362.1,590.1 1362.5,589.1 1363.0,588.1 1363.4,587.1 1363.8,586.0 1364.3,585.0 1364.7,584.0 1365.1,583.0 1365.6,581.9 1366.0,580.9 1366.4,579.9 1366.9,578.9 1367.3,577.9 1367.7,576.8 1368.1,575.8 1368.6,574.8 1369.0,573.8 1369.5,572.8 1369.9,571.8 1370.3,570.8 1370.8,569.7 1371.2,568.7 1371.7,567.7 1372.1,566.7 1372.6,565.7 1373.0,564.7 1373.5,563.7 1374.0,562.7 1374.4,561.8 1374.9,560.8 1375.4,559.8 1375.8,558.8 1376.3,557.8 1376.8,556.8 1377.2,555.8 1377.7,554.8 1378.2,553.9 1378.7,552.9 1379.2,551.9 1379.7,550.9 1380.2,550.0 1380.6,549.0 1381.1,548.0 1381.6,547.0 1382.1,546.1 1382.6,545.1 1383.1,544.1 1383.6,543.2 1384.1,542.2 1384.7,541.2 1385.2,540.3 1385.7,539.3 1386.2,538.3 1386.7,537.4 1387.2,536.4 1387.7,535.4 1388.3,534.5 1388.8,533.5 1389.3,532.6 1389.8,531.6 1390.4,530.6 1390.9,529.7 1391.4,528.7 1392.0,527.7 1392.5,526.8 1393.0,525.8 1393.6,524.9 1394.1,523.9 1394.7,522.9 1395.2,522.0 1395.8,521.0 1396.3,520.1 1396.9,519.1 1397.4,518.1 1398.0,517.2 1398.5,516.2 1399.1,515.3 1399.6,514.3 1400.2,513.3 1400.8,512.4 1401.3,511.4 1401.9,510.4 1402.5,509.5 1403.0,508.5 1403.6,507.6 1404.2,506.6 1404.8,505.6 1405.3,504.7 1405.9,503.7 1406.5,502.7 1407.1,501.8 1407.7,500.8 1408.3,499.9 1408.8,498.9 1409.4,498.0 1410.0,497.0 1410.6,496.1 1411.3,495.1 1411.9,494.2 1412.5,493.2 1413.1,492.3 1413.7,491.4 1414.3,490.5 1415.0,489.5 1415.6,488.6 1416.2,487.7 1416.9,486.8 1417.5,485.9 1418.2,485.0 1418.8,484.1 1419.5,483.2 1420.1,482.3 1420.8,481.4 1421.4,480.5 1422.1,479.6 1422.8,478.7 1423.5,477.9 1424.2,477.0 1424.9,476.2 1425.6,475.3 1426.3,474.5 1427.0,473.6 1427.7,472.8 1428.4,472.0 1429.1,471.2 1429.9,470.4 1430.6,469.6 1431.3,468.8 1432.1,468.0 1432.8,467.2 1433.6,466.4 1434.4,465.7 1435.1,464.9 1435.9,464.2 1436.7,463.4 1437.5,462.7 1438.3,462.0 1439.1,461.3 1439.9,460.6 1440.7,459.9 1441.5,459.2 1442.4,458.5 1443.2,457.9 1444.0,457.2 1444.9,456.6 1445.8,455.9 1446.6,455.3 1447.5,454.7 1448.4,454.1 1449.3,453.5 1450.2,452.9 1451.1,452.4 1452.0,451.8 1452.9,451.3 1453.8,450.7 1454.8,450.2 1455.7,449.7 1456.7,449.2 1457.6,448.7 1458.6,448.3 1459.6,447.8 1460.6,447.4 1461.6,446.9 1462.6,446.5 1463.6,446.1 1464.6,445.7 1465.6,445.3 1466.7,445.0 1467.7,444.6 1468.8,444.3 1469.9,444.0 1470.9,443.7 1472.0,443.4 1473.1,443.1 1474.2,442.9 1475.4,442.6 1476.5,442.4 1477.6,442.2 1478.8,442.0 1479.9,441.8 1481.1,441.6 1482.3,441.5 1483.5,441.3 1484.7,441.2 1485.9,441.1 1487.1,441.0 1488.4,441.0 1489.6,440.9 1490.9,440.9 1492.1,440.9" stroke="#9A6CB4" stroke-width="1.3" fill="none" stroke-linejoin="round" stroke-linecap="round" clip-path="url(#ci)"/>
<path d="M1152.8,466.0 1153.9,466.3 1154.9,466.6 1156.0,466.9 1157.1,467.2 1158.1,467.5 1159.2,467.9 1160.2,468.2 1161.2,468.6 1162.3,469.0 1163.3,469.3 1164.3,469.7 1165.3,470.1 1166.4,470.5 1167.4,470.9 1168.4,471.3 1169.4,471.7 1170.4,472.2 1171.4,472.6 1172.4,473.1 1173.4,473.5 1174.4,474.0 1175.4,474.4 1176.4,474.9 1177.4,475.4 1178.4,475.9 1179.3,476.4 1180.3,476.9 1181.3,477.4 1182.2,477.9 1183.2,478.4 1184.2,478.9 1185.1,479.4 1186.1,480.0 1187.1,480.5 1188.0,481.0 1189.0,481.6 1189.9,482.1 1190.9,482.7 1191.8,483.2 1192.8,483.8 1193.7,484.4 1194.6,484.9 1195.6,485.5 1196.5,486.1 1197.5,486.7 1198.4,487.3 1199.3,487.9 1200.2,488.5 1201.2,489.1 1202.1,489.7 1203.0,490.3 1203.9,490.9 1204.9,491.5 1205.8,492.1 1206.7,492.7 1207.6,493.4 1208.5,494.0 1209.4,494.6 1210.4,495.2 1211.3,495.9 1212.2,496.5 1213.1,497.1 1214.0,497.8 1214.9,498.4 1215.8,499.0 1216.7,499.7 1217.6,500.3 1218.5,500.9 1219.4,501.6 1220.3,502.2 1221.2,502.9 1222.1,503.5 1223.0,504.2 1223.9,504.8 1224.8,505.5 1225.7,506.1 1226.6,506.8 1227.5,507.5 1228.4,508.1 1229.2,508.8 1230.1,509.5 1231.0,510.1 1231.9,510.8 1232.8,511.5 1233.6,512.2 1234.5,512.8 1235.4,513.5 1236.2,514.2 1237.1,514.9 1238.0,515.6 1238.8,516.3 1239.7,517.0 1240.5,517.7 1241.4,518.4 1242.2,519.1 1243.1,519.8 1243.9,520.5 1244.7,521.2 1245.6,521.9 1246.4,522.6 1247.2,523.4 1248.0,524.1 1248.9,524.8 1249.7,525.6 1250.5,526.3 1251.3,527.0 1252.1,527.8 1252.9,528.5 1253.7,529.3 1254.5,530.0 1255.3,530.8 1256.0,531.6 1256.8,532.3 1257.6,533.1 1258.4,533.9 1259.1,534.7 1259.9,535.4 1260.6,536.2 1261.4,537.0 1262.1,537.8 1262.9,538.6 1263.6,539.4 1264.3,540.2 1265.0,541.1 1265.8,541.9 1266.5,542.7 1267.2,543.5 1267.9,544.4 1268.6,545.2 1269.3,546.0 1270.0,546.9 1270.6,547.7 1271.3,548.6 1272.0,549.5 1272.7,550.3 1273.3,551.2 1274.0,552.1 1274.6,553.0 1275.3,553.8 1275.9,554.7 1276.5,555.6 1277.2,556.5 1277.8,557.4 1278.4,558.3 1279.0,559.2 1279.6,560.2 1280.2,561.1 1280.8,562.0 1281.5,562.9 1282.1,563.8 1282.6,564.8 1283.2,565.7 1283.8,566.6 1284.4,567.6 1285.0,568.5 1285.6,569.4 1286.2,570.4 1286.8,571.3 1287.3,572.3 1287.9,573.2 1288.5,574.2 1289.1,575.1 1289.6,576.1 1290.2,577.0 1290.8,578.0 1291.3,578.9 1291.9,579.9 1292.5,580.8 1293.1,581.8 1293.6,582.7 1294.2,583.7 1294.8,584.6 1295.3,585.6 1295.9,586.6 1296.5,587.5 1297.0,588.5 1297.6,589.4 1298.2,590.4 1298.8,591.3 1299.3,592.3 1299.9,593.3 1300.5,594.2 1301.1,595.2 1301.7,596.1 1302.3,597.1 1302.8,598.0 1303.4,599.0 1304.0,599.9 1304.6,600.8 1305.2,601.8 1305.8,602.7 1306.4,603.7 1307.0,604.6 1307.7,605.5 1308.3,606.5 1308.9,607.4 1309.5,608.3 1310.2,609.2 1310.8,610.1 1311.5,611.0 1312.1,611.9 1312.8,612.8 1313.5,613.7 1314.1,614.6 1314.8,615.5 1315.6,616.3 1316.3,617.2 1317.0,618.0 1317.8,618.8 1318.5,619.7 1319.3,620.5 1320.1,621.3 1320.9,622.0 1321.7,622.8 1322.6,623.6 1323.5,624.3 1324.3,625.0 1325.2,625.7 1326.1,626.4 1327.1,627.0 1328.0,627.6 1328.9,628.1 1329.9,628.6 1330.8,629.1 1331.8,629.5 1332.7,629.8 1333.7,630.1 1334.7,630.3 1335.6,630.5 1336.6,630.5 1337.5,630.5 1338.4,630.4 1339.4,630.2 1340.3,630.0 1341.2,629.6 1342.1,629.3 1343.0,628.8 1343.9,628.3 1344.7,627.7 1345.6,627.1 1346.4,626.4 1347.2,625.7 1348.0,625.0 1348.7,624.2 1349.5,623.3 1350.2,622.5 1350.9,621.6 1351.6,620.7 1352.2,619.7 1352.8,618.8 1353.4,617.8 1354.0,616.8 1354.5,615.8 1355.1,614.8 1355.6,613.7 1356.1,612.7 1356.6,611.6 1357.1,610.6 1357.6,609.5 1358.1,608.5 1358.6,607.4 1359.1,606.4 1359.5,605.3 1360.0,604.3 1360.5,603.3 1361.0,602.2 1361.5,601.2 1362.0,600.2 1362.5,599.2 1363.0,598.2 1363.5,597.2 1364.0,596.2 1364.5,595.2 1365.0,594.2 1365.5,593.2 1366.0,592.2 1366.5,591.2 1367.0,590.2 1367.5,589.2 1368.0,588.2 1368.5,587.2 1369.1,586.3 1369.6,585.3 1370.1,584.3 1370.6,583.3 1371.1,582.4 1371.6,581.4 1372.1,580.4 1372.6,579.5 1373.1,578.5 1373.6,577.5 1374.1,576.5 1374.6,575.6 1375.1,574.6 1375.6,573.6 1376.1,572.7 1376.6,571.7 1377.1,570.7 1377.6,569.8 1378.1,568.8 1378.6,567.8 1379.1,566.8 1379.6,565.9 1380.0,564.9 1380.5,563.9 1381.0,563.0 1381.5,562.0 1382.0,561.0 1382.5,560.0 1383.0,559.1 1383.5,558.1 1384.0,557.1 1384.5,556.2 1385.0,555.2 1385.5,554.2 1386.0,553.2 1386.4,552.3 1386.9,551.3 1387.4,550.3 1387.9,549.4 1388.4,548.4 1388.9,547.4 1389.4,546.4 1389.9,545.5 1390.4,544.5 1390.9,543.5 1391.4,542.6 1391.9,541.6 1392.4,540.6 1392.9,539.6 1393.4,538.7 1393.9,537.7 1394.4,536.7 1395.0,535.8 1395.5,534.8 1396.0,533.8 1396.5,532.8 1397.0,531.9 1397.5,530.9 1398.1,529.9 1398.6,529.0 1399.1,528.0 1399.6,527.0 1400.1,526.1 1400.7,525.1 1401.2,524.1 1401.7,523.2 1402.3,522.2 1402.8,521.2 1403.4,520.3 1403.9,519.3 1404.4,518.3 1405.0,517.4 1405.5,516.4 1406.1,515.4 1406.7,514.5 1407.2,513.5 1407.8,512.5 1408.3,511.6 1408.9,510.6 1409.5,509.7 1410.1,508.7 1410.6,507.7 1411.2,506.8 1411.8,505.8 1412.4,504.9 1413.0,503.9 1413.6,503.0 1414.2,502.0 1414.8,501.1 1415.4,500.1 1416.0,499.2 1416.6,498.3 1417.2,497.3 1417.8,496.4 1418.5,495.5 1419.1,494.5 1419.7,493.6 1420.4,492.7 1421.0,491.8 1421.7,490.9 1422.3,490.0 1423.0,489.1 1423.6,488.2 1424.3,487.3 1425.0,486.4 1425.6,485.5 1426.3,484.6 1427.0,483.8 1427.7,482.9 1428.4,482.0 1429.1,481.2 1429.8,480.3 1430.5,479.5 1431.2,478.6 1431.9,477.8 1432.6,477.0 1433.4,476.1 1434.1,475.3 1434.8,474.5 1435.6,473.7 1436.3,472.9 1437.1,472.1 1437.8,471.3 1438.6,470.6 1439.4,469.8 1440.2,469.0 1441.0,468.3 1441.7,467.5 1442.5,466.8 1443.3,466.1 1444.2,465.4 1445.0,464.7 1445.8,464.0 1446.6,463.3 1447.5,462.6 1448.3,461.9 1449.1,461.2 1450.0,460.6 1450.9,459.9 1451.7,459.3 1452.6,458.7 1453.5,458.0 1454.4,457.4 1455.3,456.8 1456.2,456.3 1457.1,455.7 1458.0,455.1 1458.9,454.6 1459.9,454.0 1460.8,453.5 1461.7,453.0 1462.7,452.4 1463.7,451.9 1464.6,451.5 1465.6,451.0 1466.6,450.5 1467.6,450.1 1468.6,449.6 1469.6,449.2 1470.6,448.8 1471.6,448.4 1472.7,448.0 1473.7,447.6 1474.7,447.2 1475.8,446.9 1476.9,446.6 1477.9,446.2 1479.0,445.9 1480.1,445.6 1481.2,445.3 1482.3,445.1 1483.4,444.8 1484.6,444.6 1485.7,444.3 1486.8,444.1 1488.0,443.9 1489.1,443.8 1490.3,443.6 1491.5,443.4" stroke="#C39416" stroke-width="1.3" fill="none" stroke-linejoin="round" stroke-linecap="round" clip-path="url(#ci)"/>
<g stroke="#333" stroke-width="1.1">
<line x1="1175.31" y1="684.8" x2="1175.31" y2="679.3" />
<line x1="1197.93" y1="684.8" x2="1197.93" y2="682.0" />
<line x1="1220.54" y1="684.8" x2="1220.54" y2="679.3" />
<line x1="1243.15" y1="684.8" x2="1243.15" y2="682.0" />
<line x1="1265.77" y1="684.8" x2="1265.77" y2="679.3" />
<line x1="1288.38" y1="684.8" x2="1288.38" y2="682.0" />
<line x1="1310.99" y1="684.8" x2="1310.99" y2="679.3" />
<line x1="1333.60" y1="684.8" x2="1333.60" y2="682.0" />
<line x1="1356.22" y1="684.8" x2="1356.22" y2="679.3" />
<line x1="1378.83" y1="684.8" x2="1378.83" y2="682.0" />
<line x1="1401.44" y1="684.8" x2="1401.44" y2="679.3" />
<line x1="1424.06" y1="684.8" x2="1424.06" y2="682.0" />
<line x1="1446.67" y1="684.8" x2="1446.67" y2="679.3" />
<line x1="1469.28" y1="684.8" x2="1469.28" y2="682.0" />
<line x1="1152.7" y1="429.30" x2="1158.2" y2="429.30" />
<line x1="1152.7" y1="445.30" x2="1155.5" y2="445.30" />
<line x1="1152.7" y1="461.30" x2="1158.2" y2="461.30" />
<line x1="1152.7" y1="477.30" x2="1155.5" y2="477.30" />
<line x1="1152.7" y1="493.30" x2="1158.2" y2="493.30" />
<line x1="1152.7" y1="509.30" x2="1155.5" y2="509.30" />
<line x1="1152.7" y1="525.30" x2="1158.2" y2="525.30" />
<line x1="1152.7" y1="541.30" x2="1155.5" y2="541.30" />
<line x1="1152.7" y1="557.30" x2="1158.2" y2="557.30" />
<line x1="1152.7" y1="573.30" x2="1155.5" y2="573.30" />
<line x1="1152.7" y1="589.30" x2="1158.2" y2="589.30" />
<line x1="1152.7" y1="605.30" x2="1155.5" y2="605.30" />
<line x1="1152.7" y1="621.30" x2="1158.2" y2="621.30" />
<line x1="1152.7" y1="637.30" x2="1155.5" y2="637.30" />
<line x1="1152.7" y1="653.30" x2="1158.2" y2="653.30" />
<line x1="1152.7" y1="669.30" x2="1155.5" y2="669.30" />
</g>
</g>
<g fill="none" stroke="#F0141E" stroke-width="2.3" stroke-dasharray="11 6 3.6 5.8 3.6 5.9"><path d="M1502.3,407.7 H1574.6 L1579.4,413.4 V655.5 L1577.5,663.1"/><path d="M1502.3,407.7 V663.1"/><path d="M1502.3,663.1 H1577.5" stroke-dashoffset="-2"/></g><rect x="1501.15" y="406.55" width="2.3" height="2.3" fill="#F0141E"/><rect x="1501.15" y="661.95" width="2.3" height="2.3" fill="#F0141E"/>
<g fill="none" stroke="#111" stroke-width="2.2">
<rect x="82.7" y="23.4" width="823.8" height="678.2"/>
<rect x="1102" y="15.9" width="875.5" height="697.6"/>
</g>
<g stroke="#111" stroke-width="2.2">
<line x1="104.33" y1="701.6" x2="104.33" y2="695.4" />
<line x1="157.80" y1="701.6" x2="157.80" y2="688.3000000000001" />
<line x1="211.28" y1="701.6" x2="211.28" y2="695.4" />
<line x1="264.75" y1="701.6" x2="264.75" y2="688.3000000000001" />
<line x1="318.23" y1="701.6" x2="318.23" y2="695.4" />
<line x1="371.70" y1="701.6" x2="371.70" y2="688.3000000000001" />
<line x1="425.18" y1="701.6" x2="425.18" y2="695.4" />
<line x1="478.65" y1="701.6" x2="478.65" y2="688.3000000000001" />
<line x1="532.12" y1="701.6" x2="532.12" y2="695.4" />
<line x1="585.60" y1="701.6" x2="585.60" y2="688.3000000000001" />
<line x1="639.08" y1="701.6" x2="639.08" y2="695.4" />
<line x1="692.55" y1="701.6" x2="692.55" y2="688.3000000000001" />
<line x1="746.02" y1="701.6" x2="746.02" y2="695.4" />
<line x1="799.50" y1="701.6" x2="799.50" y2="688.3000000000001" />
<line x1="852.97" y1="701.6" x2="852.97" y2="695.4" />
<line x1="906.45" y1="701.6" x2="906.45" y2="688.3000000000001" />
<line x1="82.7" y1="647.40" x2="95.2" y2="647.40" />
<line x1="82.7" y1="538.75" x2="95.2" y2="538.75" />
<line x1="82.7" y1="430.10" x2="95.2" y2="430.10" />
<line x1="82.7" y1="321.45" x2="95.2" y2="321.45" />
<line x1="82.7" y1="212.80" x2="95.2" y2="212.80" />
<line x1="82.7" y1="104.15" x2="95.2" y2="104.15" />
<line x1="1160.10" y1="713.5" x2="1160.10" y2="701.0" />
<line x1="1218.50" y1="713.5" x2="1218.50" y2="707.7" />
<line x1="1276.90" y1="713.5" x2="1276.90" y2="701.0" />
<line x1="1335.30" y1="713.5" x2="1335.30" y2="707.7" />
<line x1="1393.70" y1="713.5" x2="1393.70" y2="701.0" />
<line x1="1452.10" y1="713.5" x2="1452.10" y2="707.7" />
<line x1="1510.50" y1="713.5" x2="1510.50" y2="701.0" />
<line x1="1568.90" y1="713.5" x2="1568.90" y2="707.7" />
<line x1="1627.30" y1="713.5" x2="1627.30" y2="701.0" />
<line x1="1685.70" y1="713.5" x2="1685.70" y2="707.7" />
<line x1="1744.10" y1="713.5" x2="1744.10" y2="701.0" />
<line x1="1802.50" y1="713.5" x2="1802.50" y2="707.7" />
<line x1="1860.90" y1="713.5" x2="1860.90" y2="701.0" />
<line x1="1919.30" y1="713.5" x2="1919.30" y2="707.7" />
<line x1="1977.70" y1="713.5" x2="1977.70" y2="701.0" />
<line x1="1102" y1="54.75" x2="1108" y2="54.75" />
<line x1="1102" y1="93.50" x2="1115" y2="93.50" />
<line x1="1102" y1="132.25" x2="1108" y2="132.25" />
<line x1="1102" y1="171.00" x2="1115" y2="171.00" />
<line x1="1102" y1="209.75" x2="1108" y2="209.75" />
<line x1="1102" y1="248.50" x2="1115" y2="248.50" />
<line x1="1102" y1="287.25" x2="1108" y2="287.25" />
<line x1="1102" y1="326.00" x2="1115" y2="326.00" />
<line x1="1102" y1="364.75" x2="1108" y2="364.75" />
<line x1="1102" y1="403.50" x2="1115" y2="403.50" />
<line x1="1102" y1="442.25" x2="1108" y2="442.25" />
<line x1="1102" y1="481.00" x2="1115" y2="481.00" />
<line x1="1102" y1="519.75" x2="1108" y2="519.75" />
<line x1="1102" y1="558.50" x2="1115" y2="558.50" />
<line x1="1102" y1="597.25" x2="1108" y2="597.25" />
<line x1="1102" y1="636.00" x2="1115" y2="636.00" />
<line x1="1102" y1="674.75" x2="1108" y2="674.75" />
</g>
<g fill="#1a1a1a" font-family="'Liberation Serif', serif">
<text transform="translate(157.80,739.00) scale(0.9350,1)" font-size="30.6" text-anchor="middle">100</text>
<text transform="translate(264.75,739.00) scale(0.9350,1)" font-size="30.6" text-anchor="middle">200</text>
<text transform="translate(371.70,739.00) scale(0.9350,1)" font-size="30.6" text-anchor="middle">300</text>
<text transform="translate(478.65,739.00) scale(0.9350,1)" font-size="30.6" text-anchor="middle">400</text>
<text transform="translate(585.60,739.00) scale(0.9350,1)" font-size="30.6" text-anchor="middle">500</text>
<text transform="translate(692.55,739.00) scale(0.9350,1)" font-size="30.6" text-anchor="middle">600</text>
<text transform="translate(799.50,739.00) scale(0.9350,1)" font-size="30.6" text-anchor="middle">700</text>
<text transform="translate(906.45,739.00) scale(0.9350,1)" font-size="30.6" text-anchor="middle">800</text>
<text transform="translate(68.60,656.00) scale(0.9350,1)" font-size="30.6" text-anchor="end">0</text>
<text transform="translate(68.60,547.35) scale(0.9350,1)" font-size="30.6" text-anchor="end">20</text>
<text transform="translate(68.60,438.70) scale(0.9350,1)" font-size="30.6" text-anchor="end">40</text>
<text transform="translate(68.60,330.05) scale(0.9350,1)" font-size="30.6" text-anchor="end">60</text>
<text transform="translate(68.60,221.40) scale(0.9350,1)" font-size="30.6" text-anchor="end">80</text>
<text transform="translate(68.60,112.75) scale(0.9350,1)" font-size="30.6" text-anchor="end">100</text>
<text transform="translate(1160.10,751.70) scale(0.9450,1)" font-size="31.7" text-anchor="middle">100</text>
<text transform="translate(1276.90,751.70) scale(0.9450,1)" font-size="31.7" text-anchor="middle">200</text>
<text transform="translate(1393.70,751.70) scale(0.9450,1)" font-size="31.7" text-anchor="middle">300</text>
<text transform="translate(1510.50,751.70) scale(0.9450,1)" font-size="31.7" text-anchor="middle">400</text>
<text transform="translate(1627.30,751.70) scale(0.9450,1)" font-size="31.7" text-anchor="middle">500</text>
<text transform="translate(1744.10,751.70) scale(0.9450,1)" font-size="31.7" text-anchor="middle">600</text>
<text transform="translate(1860.90,751.70) scale(0.9450,1)" font-size="31.7" text-anchor="middle">700</text>
<text transform="translate(1977.70,751.70) scale(0.9450,1)" font-size="31.7" text-anchor="middle">800</text>
<text transform="translate(1085.30,24.70) scale(0.9550,1)" font-size="31.0" text-anchor="end">0.0005</text>
<text transform="translate(1085.30,102.20) scale(0.9550,1)" font-size="31.0" text-anchor="end">0.0000</text>
<text transform="translate(1085.30,179.70) scale(0.9550,1)" font-size="31.0" text-anchor="end">-0.0005</text>
<text transform="translate(1085.30,257.20) scale(0.9550,1)" font-size="31.0" text-anchor="end">-0.0010</text>
<text transform="translate(1085.30,334.70) scale(0.9550,1)" font-size="31.0" text-anchor="end">-0.0015</text>
<text transform="translate(1085.30,412.20) scale(0.9550,1)" font-size="31.0" text-anchor="end">-0.0020</text>
<text transform="translate(1085.30,489.70) scale(0.9550,1)" font-size="31.0" text-anchor="end">-0.0025</text>
<text transform="translate(1085.30,567.20) scale(0.9550,1)" font-size="31.0" text-anchor="end">-0.0030</text>
<text transform="translate(1085.30,644.70) scale(0.9550,1)" font-size="31.0" text-anchor="end">-0.0035</text>
<text transform="translate(1085.30,722.20) scale(0.9550,1)" font-size="31.0" text-anchor="end">-0.0040</text>
<text transform="translate(1175.31,700.60) scale(1.0800,1)" font-size="11" text-anchor="middle">360</text>
<text transform="translate(1220.54,700.60) scale(1.0800,1)" font-size="11" text-anchor="middle">380</text>
<text transform="translate(1265.77,700.60) scale(1.0800,1)" font-size="11" text-anchor="middle">400</text>
<text transform="translate(1310.99,700.60) scale(1.0800,1)" font-size="11" text-anchor="middle">420</text>
<text transform="translate(1356.22,700.60) scale(1.0800,1)" font-size="11" text-anchor="middle">440</text>
<text transform="translate(1401.44,700.60) scale(1.0800,1)" font-size="11" text-anchor="middle">460</text>
<text transform="translate(1446.67,700.60) scale(1.0800,1)" font-size="11" text-anchor="middle">480</text>
<text transform="translate(1491.89,700.60) scale(1.0800,1)" font-size="11" text-anchor="middle">500</text>
<text transform="translate(1142.00,433.30) scale(1.0400,1)" font-size="11" text-anchor="end">0.0000</text>
<text transform="translate(1142.00,465.30) scale(1.0400,1)" font-size="11" text-anchor="end">-0.0005</text>
<text transform="translate(1142.00,497.30) scale(1.0400,1)" font-size="11" text-anchor="end">-0.0010</text>
<text transform="translate(1142.00,529.30) scale(1.0400,1)" font-size="11" text-anchor="end">-0.0015</text>
<text transform="translate(1142.00,561.30) scale(1.0400,1)" font-size="11" text-anchor="end">-0.0020</text>
<text transform="translate(1142.00,593.30) scale(1.0400,1)" font-size="11" text-anchor="end">-0.0025</text>
<text transform="translate(1142.00,625.30) scale(1.0400,1)" font-size="11" text-anchor="end">-0.0030</text>
<text transform="translate(1142.00,657.30) scale(1.0400,1)" font-size="11" text-anchor="end">-0.0035</text>
<text transform="translate(1142.00,689.30) scale(1.0400,1)" font-size="11" text-anchor="end">-0.0040</text>
<text transform="translate(91.43,75.73) scale(1.0180,1)" font-size="56.15">(a)</text>
<text transform="translate(1120.55,68.95) scale(1.0090,1)" font-size="58.35">(b)</text>
<text transform="translate(375.22,806.40) scale(1.0086,1)" font-size="33.74">Temperature/(°C)</text>
<text transform="translate(1411.47,806.30) scale(1.0255,1)" font-size="35.57">Temperature/(°C)</text>
<text transform="translate(29.04,465.80) rotate(-90) scale(1.0575,1)" font-size="33.3">Weight/(%)</text>
<text transform="translate(975.73,423.59) rotate(-90) scale(1.0730,1)" font-size="34.29">dW/(dT)</text>
<line x1="553.3" y1="47.5" x2="611.2" y2="47.5" stroke="#666666" stroke-width="2.1" />
<text transform="translate(625.00,57.90) scale(0.9650,1)" font-size="29.3">EA</text>
<line x1="553.3" y1="83.4" x2="611.2" y2="83.4" stroke="#E8343F" stroke-width="2.1" />
<text transform="translate(625.00,93.80) scale(0.9650,1)" font-size="29.3">n(Silicone):n(EA)=0.1:1</text>
<line x1="553.3" y1="119.3" x2="611.2" y2="119.3" stroke="#2A5EAA" stroke-width="2.1" />
<text transform="translate(625.00,129.70) scale(0.9650,1)" font-size="29.3">n(Silicone):n(EA)=0.2:1</text>
<line x1="553.3" y1="155.2" x2="611.2" y2="155.2" stroke="#26A363" stroke-width="2.1" />
<text transform="translate(625.00,165.60) scale(0.9650,1)" font-size="29.3">n(Silicone):n(EA)=0.3:1</text>
<line x1="553.3" y1="191.1" x2="611.2" y2="191.1" stroke="#9A6CB4" stroke-width="2.1" />
<text transform="translate(625.00,201.50) scale(0.9650,1)" font-size="29.3">n(Silicone):n(EA)=0.4:1</text>
<line x1="553.3" y1="227.0" x2="611.2" y2="227.0" stroke="#C39416" stroke-width="2.1" />
<text transform="translate(625.00,237.40) scale(0.9650,1)" font-size="29.3">n(Silicone):n(EA)=0.5:1</text>
<line x1="1593.5" y1="478.3" x2="1663.8" y2="478.3" stroke="#666666" stroke-width="2.1" />
<text transform="translate(1670.40,487.90) scale(0.9770,1)" font-size="30.5">EA</text>
<line x1="1593.5" y1="515.1" x2="1663.8" y2="515.1" stroke="#E8343F" stroke-width="2.1" />
<text transform="translate(1670.40,524.70) scale(0.9770,1)" font-size="30.5">n(Silicone):n(EA)=0.1:1</text>
<line x1="1593.5" y1="551.9" x2="1663.8" y2="551.9" stroke="#2A5EAA" stroke-width="2.1" />
<text transform="translate(1670.40,561.50) scale(0.9770,1)" font-size="30.5">n(Silicone):n(EA)=0.2:1</text>
<line x1="1593.5" y1="588.7" x2="1663.8" y2="588.7" stroke="#26A363" stroke-width="2.1" />
<text transform="translate(1670.40,598.30) scale(0.9770,1)" font-size="30.5">n(Silicone):n(EA)=0.3:1</text>
<line x1="1593.5" y1="625.5" x2="1663.8" y2="625.5" stroke="#9A6CB4" stroke-width="2.1" />
<text transform="translate(1670.40,635.10) scale(0.9770,1)" font-size="30.5">n(Silicone):n(EA)=0.4:1</text>
<line x1="1593.5" y1="662.3" x2="1663.8" y2="662.3" stroke="#C39416" stroke-width="2.1" />
<text transform="translate(1670.40,671.90) scale(0.9770,1)" font-size="30.5">n(Silicone):n(EA)=0.5:1</text>
</g>
</svg>
</body></html>
